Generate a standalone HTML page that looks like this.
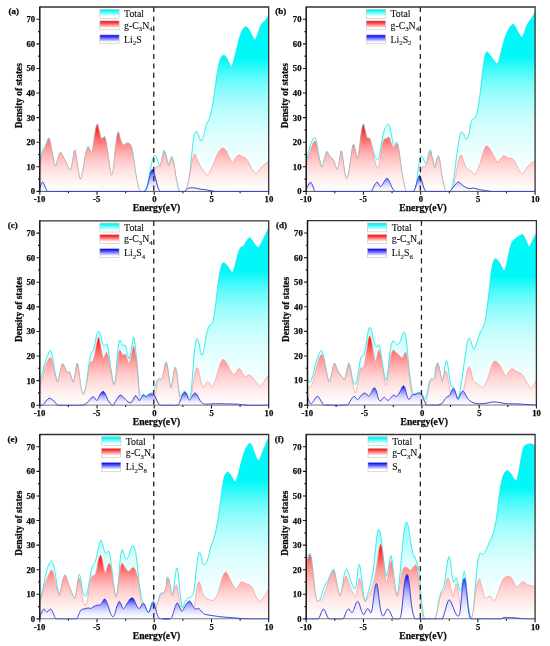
<!DOCTYPE html>
<html><head><meta charset="utf-8"><title>Density of states</title>
<style>html,body{margin:0;padding:0;background:#fff}svg{display:block}</style></head>
<body>
<svg width="550" height="646" viewBox="0 0 550 646">
<rect width="550" height="646" fill="#fff"/>
<g>
<clipPath id="cla"><rect x="39.80" y="7.00" width="229.40" height="185.05"/></clipPath>
<g clip-path="url(#cla)">
<linearGradient id="gat" gradientUnits="userSpaceOnUse" x1="0" y1="14.82" x2="0" y2="191.40"><stop offset="0" stop-color="#00f8f8"/><stop offset="0.250" stop-color="#00f8f8"/><stop offset="0.312" stop-color="#3bfafa"/><stop offset="0.375" stop-color="#6afbfb"/><stop offset="0.438" stop-color="#8efcfc"/><stop offset="0.500" stop-color="#aafdfd"/><stop offset="0.562" stop-color="#bffdfd"/><stop offset="0.625" stop-color="#d0fefe"/><stop offset="0.688" stop-color="#defefe"/><stop offset="0.750" stop-color="#e8fefe"/><stop offset="0.812" stop-color="#f0ffff"/><stop offset="0.875" stop-color="#f6ffff"/><stop offset="0.938" stop-color="#fbffff"/><stop offset="1.000" stop-color="#ffffff"/></linearGradient>
<path d="M39.93 162.36 C40.36 160.36 41.56 153.27 42.55 150.36 C43.53 147.45 44.80 146.98 45.82 144.91 C46.84 142.84 47.93 138.36 48.65 137.93 C49.38 137.49 49.56 139.67 50.18 142.29 C50.80 144.91 51.53 149.64 52.36 153.64 C53.20 157.64 54.29 165.38 55.20 166.29 C56.11 167.20 56.95 161.45 57.82 159.09 C58.69 156.73 59.53 152.47 60.44 152.11 C61.35 151.75 62.25 155.02 63.27 156.91 C64.29 158.80 65.35 161.27 66.55 163.45 C67.75 165.64 69.45 170.36 70.47 170.00 C71.49 169.64 71.93 164.62 72.65 161.27 C73.38 157.93 74.11 149.75 74.84 149.93 C75.56 150.11 76.29 158.11 77.02 162.36 C77.75 166.62 78.58 172.65 79.20 175.45 C79.82 178.25 80.11 179.89 80.73 179.16 C81.35 178.44 82.18 174.80 82.91 171.09 C83.64 167.38 84.29 160.91 85.09 156.91 C85.89 152.91 86.98 148.36 87.71 147.09 C88.44 145.82 88.80 148.36 89.45 149.27 C90.11 150.18 91.02 152.91 91.64 152.55 C92.25 152.18 92.62 150.18 93.16 147.09 C93.71 144.00 94.25 137.82 94.91 134.00 C95.56 130.18 96.44 124.91 97.09 124.18 C97.75 123.45 98.18 127.35 98.84 129.64 C99.49 131.93 100.33 136.55 101.02 137.93 C101.71 139.31 102.36 138.15 102.98 137.93 C103.60 137.71 104.18 135.82 104.73 136.62 C105.27 137.42 105.64 139.16 106.25 142.73 C106.87 146.29 107.71 153.09 108.44 158.00 C109.16 162.91 110.04 169.38 110.62 172.18 C111.20 174.98 111.45 175.35 111.93 174.80 C112.40 174.25 112.84 173.53 113.45 168.91 C114.07 164.29 114.87 153.24 115.64 147.09 C116.40 140.95 117.31 133.49 118.04 132.04 C118.76 130.58 119.20 136.22 120.00 138.36 C120.80 140.51 121.93 144.00 122.84 144.91 C123.75 145.82 124.65 144.18 125.45 143.82 C126.25 143.45 126.84 142.62 127.64 142.73 C128.44 142.84 129.53 143.38 130.25 144.47 C130.98 145.56 131.35 146.29 132.00 149.27 C132.65 152.25 133.45 157.64 134.18 162.36 C134.91 167.09 135.64 173.45 136.36 177.64 C137.09 181.82 137.82 184.96 138.55 187.45 C139.27 189.95 139.86 191.74 140.73 192.60 C141.59 193.46 142.92 193.09 143.73 192.60 C144.53 192.11 145.00 190.80 145.55 189.64 C146.09 188.48 146.52 187.39 147.00 185.64 C147.48 183.88 147.97 181.39 148.45 179.09 C148.94 176.79 149.42 174.24 149.91 171.82 C150.39 169.39 150.88 166.73 151.36 164.55 C151.85 162.36 152.39 160.12 152.82 158.73 C153.24 157.33 153.55 156.73 153.91 156.18 C154.27 155.64 154.64 155.42 155.00 155.45 C155.36 155.49 155.67 155.61 156.09 156.40 C156.52 157.19 157.06 158.82 157.55 160.18 C158.03 161.54 158.61 163.60 159.00 164.55 C159.39 165.49 159.57 165.92 159.87 165.85 C160.18 165.79 160.42 165.61 160.82 164.18 C161.22 162.75 161.85 159.27 162.27 157.27 C162.70 155.27 163.01 153.33 163.36 152.18 C163.72 151.03 163.90 149.58 164.40 150.36 C164.90 151.15 165.67 154.55 166.36 156.91 C167.05 159.27 167.89 164.07 168.55 164.55 C169.20 165.02 169.75 161.09 170.29 159.75 C170.84 158.40 171.27 156.22 171.82 156.47 C172.36 156.73 172.91 158.11 173.56 161.27 C174.22 164.44 175.02 171.27 175.75 175.45 C176.47 179.64 177.13 183.51 177.93 186.36 C178.73 189.22 179.56 191.56 180.55 192.60 C181.53 193.64 182.80 193.28 183.82 192.60 C184.84 191.92 185.82 190.68 186.65 188.55 C187.49 186.42 188.15 183.82 188.84 179.82 C189.53 175.82 190.18 170.00 190.80 164.55 C191.42 159.09 191.96 152.00 192.55 147.09 C193.13 142.18 193.67 137.75 194.29 135.09 C194.91 132.44 195.56 131.16 196.25 131.16 C196.95 131.16 197.67 133.42 198.44 135.09 C199.20 136.76 200.07 140.84 200.84 141.20 C201.60 141.56 202.33 139.20 203.02 137.27 C203.71 135.35 204.44 131.75 204.98 129.64 C205.53 127.52 205.64 126.25 206.29 124.56 C206.95 122.88 208.11 121.65 208.91 119.55 C209.71 117.44 210.36 115.00 211.09 111.91 C211.82 108.82 212.55 105.36 213.27 101.00 C214.00 96.64 214.73 90.82 215.45 85.73 C216.18 80.64 216.91 74.64 217.64 70.45 C218.36 66.27 219.09 63.00 219.82 60.64 C220.55 58.27 221.27 57.18 222.00 56.27 C222.73 55.36 223.45 55.00 224.18 55.18 C224.91 55.36 225.56 56.09 226.36 57.36 C227.16 58.64 228.15 61.18 228.98 62.82 C229.82 64.45 230.55 67.73 231.38 67.18 C232.22 66.64 233.02 63.00 234.00 59.55 C234.98 56.09 236.18 50.64 237.27 46.45 C238.36 42.27 239.53 37.44 240.55 34.45 C241.56 31.47 242.47 29.84 243.38 28.56 C244.29 27.29 245.02 26.56 246.00 26.82 C246.98 27.07 248.18 28.45 249.27 30.09 C250.36 31.73 251.56 35.07 252.55 36.64 C253.53 38.20 254.25 40.02 255.16 39.47 C256.07 38.93 256.98 35.84 258.00 33.36 C259.02 30.89 260.18 26.64 261.27 24.64 C262.36 22.64 263.45 22.64 264.55 21.36 C265.64 20.09 267.13 18.09 267.82 17.00 C268.51 15.91 268.55 15.18 268.70 14.82 L268.70 193.40 L39.93 193.40 Z" fill="url(#gat)"/>
<path d="M39.93 162.36 C40.36 160.36 41.56 153.27 42.55 150.36 C43.53 147.45 44.80 146.98 45.82 144.91 C46.84 142.84 47.93 138.36 48.65 137.93 C49.38 137.49 49.56 139.67 50.18 142.29 C50.80 144.91 51.53 149.64 52.36 153.64 C53.20 157.64 54.29 165.38 55.20 166.29 C56.11 167.20 56.95 161.45 57.82 159.09 C58.69 156.73 59.53 152.47 60.44 152.11 C61.35 151.75 62.25 155.02 63.27 156.91 C64.29 158.80 65.35 161.27 66.55 163.45 C67.75 165.64 69.45 170.36 70.47 170.00 C71.49 169.64 71.93 164.62 72.65 161.27 C73.38 157.93 74.11 149.75 74.84 149.93 C75.56 150.11 76.29 158.11 77.02 162.36 C77.75 166.62 78.58 172.65 79.20 175.45 C79.82 178.25 80.11 179.89 80.73 179.16 C81.35 178.44 82.18 174.80 82.91 171.09 C83.64 167.38 84.29 160.91 85.09 156.91 C85.89 152.91 86.98 148.36 87.71 147.09 C88.44 145.82 88.80 148.36 89.45 149.27 C90.11 150.18 91.02 152.91 91.64 152.55 C92.25 152.18 92.62 150.18 93.16 147.09 C93.71 144.00 94.25 137.82 94.91 134.00 C95.56 130.18 96.44 124.91 97.09 124.18 C97.75 123.45 98.18 127.35 98.84 129.64 C99.49 131.93 100.33 136.55 101.02 137.93 C101.71 139.31 102.36 138.15 102.98 137.93 C103.60 137.71 104.18 135.82 104.73 136.62 C105.27 137.42 105.64 139.16 106.25 142.73 C106.87 146.29 107.71 153.09 108.44 158.00 C109.16 162.91 110.04 169.38 110.62 172.18 C111.20 174.98 111.45 175.35 111.93 174.80 C112.40 174.25 112.84 173.53 113.45 168.91 C114.07 164.29 114.87 153.24 115.64 147.09 C116.40 140.95 117.31 133.49 118.04 132.04 C118.76 130.58 119.20 136.22 120.00 138.36 C120.80 140.51 121.93 144.00 122.84 144.91 C123.75 145.82 124.65 144.18 125.45 143.82 C126.25 143.45 126.84 142.62 127.64 142.73 C128.44 142.84 129.53 143.38 130.25 144.47 C130.98 145.56 131.35 146.29 132.00 149.27 C132.65 152.25 133.45 157.64 134.18 162.36 C134.91 167.09 135.64 173.45 136.36 177.64 C137.09 181.82 137.82 184.96 138.55 187.45 C139.27 189.95 139.86 191.74 140.73 192.60 C141.59 193.46 142.92 193.09 143.73 192.60 C144.53 192.11 145.00 190.80 145.55 189.64 C146.09 188.48 146.52 187.39 147.00 185.64 C147.48 183.88 147.97 181.39 148.45 179.09 C148.94 176.79 149.42 174.24 149.91 171.82 C150.39 169.39 150.88 166.73 151.36 164.55 C151.85 162.36 152.39 160.12 152.82 158.73 C153.24 157.33 153.55 156.73 153.91 156.18 C154.27 155.64 154.64 155.42 155.00 155.45 C155.36 155.49 155.67 155.61 156.09 156.40 C156.52 157.19 157.06 158.82 157.55 160.18 C158.03 161.54 158.61 163.60 159.00 164.55 C159.39 165.49 159.57 165.92 159.87 165.85 C160.18 165.79 160.42 165.61 160.82 164.18 C161.22 162.75 161.85 159.27 162.27 157.27 C162.70 155.27 163.01 153.33 163.36 152.18 C163.72 151.03 163.90 149.58 164.40 150.36 C164.90 151.15 165.67 154.55 166.36 156.91 C167.05 159.27 167.89 164.07 168.55 164.55 C169.20 165.02 169.75 161.09 170.29 159.75 C170.84 158.40 171.27 156.22 171.82 156.47 C172.36 156.73 172.91 158.11 173.56 161.27 C174.22 164.44 175.02 171.27 175.75 175.45 C176.47 179.64 177.13 183.51 177.93 186.36 C178.73 189.22 179.56 191.56 180.55 192.60 C181.53 193.64 182.80 193.28 183.82 192.60 C184.84 191.92 185.82 190.68 186.65 188.55 C187.49 186.42 188.15 183.82 188.84 179.82 C189.53 175.82 190.18 170.00 190.80 164.55 C191.42 159.09 191.96 152.00 192.55 147.09 C193.13 142.18 193.67 137.75 194.29 135.09 C194.91 132.44 195.56 131.16 196.25 131.16 C196.95 131.16 197.67 133.42 198.44 135.09 C199.20 136.76 200.07 140.84 200.84 141.20 C201.60 141.56 202.33 139.20 203.02 137.27 C203.71 135.35 204.44 131.75 204.98 129.64 C205.53 127.52 205.64 126.25 206.29 124.56 C206.95 122.88 208.11 121.65 208.91 119.55 C209.71 117.44 210.36 115.00 211.09 111.91 C211.82 108.82 212.55 105.36 213.27 101.00 C214.00 96.64 214.73 90.82 215.45 85.73 C216.18 80.64 216.91 74.64 217.64 70.45 C218.36 66.27 219.09 63.00 219.82 60.64 C220.55 58.27 221.27 57.18 222.00 56.27 C222.73 55.36 223.45 55.00 224.18 55.18 C224.91 55.36 225.56 56.09 226.36 57.36 C227.16 58.64 228.15 61.18 228.98 62.82 C229.82 64.45 230.55 67.73 231.38 67.18 C232.22 66.64 233.02 63.00 234.00 59.55 C234.98 56.09 236.18 50.64 237.27 46.45 C238.36 42.27 239.53 37.44 240.55 34.45 C241.56 31.47 242.47 29.84 243.38 28.56 C244.29 27.29 245.02 26.56 246.00 26.82 C246.98 27.07 248.18 28.45 249.27 30.09 C250.36 31.73 251.56 35.07 252.55 36.64 C253.53 38.20 254.25 40.02 255.16 39.47 C256.07 38.93 256.98 35.84 258.00 33.36 C259.02 30.89 260.18 26.64 261.27 24.64 C262.36 22.64 263.45 22.64 264.55 21.36 C265.64 20.09 267.13 18.09 267.82 17.00 C268.51 15.91 268.55 15.18 268.70 14.82" fill="none" stroke="#1fe9e9" stroke-width="0.9"/>
<linearGradient id="gar" gradientUnits="userSpaceOnUse" x1="0" y1="124.62" x2="0" y2="191.40"><stop offset="0" stop-color="#ff1c1c"/><stop offset="0.060" stop-color="#ff1c1c"/><stop offset="0.138" stop-color="#ff4747"/><stop offset="0.217" stop-color="#ff6a6a"/><stop offset="0.295" stop-color="#ff8888"/><stop offset="0.373" stop-color="#ffa1a1"/><stop offset="0.452" stop-color="#ffb5b5"/><stop offset="0.530" stop-color="#ffc6c6"/><stop offset="0.608" stop-color="#ffd5d5"/><stop offset="0.687" stop-color="#ffe0e0"/><stop offset="0.765" stop-color="#ffeaea"/><stop offset="0.843" stop-color="#fff2f2"/><stop offset="0.922" stop-color="#fff9f9"/><stop offset="1.000" stop-color="#ffffff"/></linearGradient>
<path d="M39.93 163.45 C40.36 161.82 41.56 156.55 42.55 153.64 C43.53 150.73 44.80 148.47 45.82 146.00 C46.84 143.53 47.93 139.35 48.65 138.80 C49.38 138.25 49.56 140.25 50.18 142.73 C50.80 145.20 51.53 149.71 52.36 153.64 C53.20 157.56 54.29 165.38 55.20 166.29 C56.11 167.20 56.95 161.38 57.82 159.09 C58.69 156.80 59.53 152.91 60.44 152.55 C61.35 152.18 62.25 155.09 63.27 156.91 C64.29 158.73 65.35 161.27 66.55 163.45 C67.75 165.64 69.45 170.36 70.47 170.00 C71.49 169.64 71.93 164.55 72.65 161.27 C73.38 158.00 74.11 150.18 74.84 150.36 C75.56 150.55 76.29 158.18 77.02 162.36 C77.75 166.55 78.58 172.65 79.20 175.45 C79.82 178.25 80.11 179.89 80.73 179.16 C81.35 178.44 82.18 174.80 82.91 171.09 C83.64 167.38 84.29 160.84 85.09 156.91 C85.89 152.98 86.98 148.80 87.71 147.53 C88.44 146.25 88.80 148.44 89.45 149.27 C90.11 150.11 91.02 152.91 91.64 152.55 C92.25 152.18 92.62 150.18 93.16 147.09 C93.71 144.00 94.25 137.75 94.91 134.00 C95.56 130.25 96.44 125.35 97.09 124.62 C97.75 123.89 98.18 127.42 98.84 129.64 C99.49 131.85 100.33 136.47 101.02 137.93 C101.71 139.38 102.36 138.47 102.98 138.36 C103.60 138.25 104.18 136.55 104.73 137.27 C105.27 138.00 105.64 139.27 106.25 142.73 C106.87 146.18 107.71 153.09 108.44 158.00 C109.16 162.91 110.04 169.38 110.62 172.18 C111.20 174.98 111.45 175.35 111.93 174.80 C112.40 174.25 112.84 173.53 113.45 168.91 C114.07 164.29 114.87 153.16 115.64 147.09 C116.40 141.02 117.31 133.93 118.04 132.47 C118.76 131.02 119.20 136.29 120.00 138.36 C120.80 140.44 121.93 143.93 122.84 144.91 C123.75 145.89 124.65 144.55 125.45 144.25 C126.25 143.96 126.84 143.05 127.64 143.16 C128.44 143.27 129.53 143.89 130.25 144.91 C130.98 145.93 131.35 146.36 132.00 149.27 C132.65 152.18 133.45 157.64 134.18 162.36 C134.91 167.09 135.64 173.45 136.36 177.64 C137.09 181.82 137.82 184.96 138.55 187.45 C139.27 189.95 139.98 191.74 140.73 192.60 C141.47 193.46 141.95 192.60 143.00 192.60 C144.05 192.60 145.83 194.10 147.00 192.60 C148.17 191.10 149.08 186.32 150.00 183.60 C150.92 180.88 151.75 178.53 152.50 176.30 C153.25 174.07 153.92 171.72 154.50 170.20 C155.08 168.68 155.42 167.82 156.00 167.20 C156.58 166.58 157.33 166.63 158.00 166.50 C158.67 166.37 159.33 167.63 160.00 166.40 C160.67 165.17 161.27 161.58 162.00 159.09 C162.73 156.60 163.67 151.64 164.40 151.45 C165.13 151.27 165.67 155.64 166.36 158.00 C167.05 160.36 167.89 165.09 168.55 165.64 C169.20 166.18 169.75 162.62 170.29 161.27 C170.84 159.93 171.27 157.38 171.82 157.56 C172.36 157.75 172.91 159.20 173.56 162.36 C174.22 165.53 175.02 172.36 175.75 176.55 C176.47 180.73 177.27 184.78 177.93 187.45 C178.58 190.13 178.51 191.74 179.67 192.60 C180.84 193.46 183.60 193.64 184.91 192.60 C186.22 191.56 186.73 189.22 187.53 186.36 C188.33 183.51 188.98 179.45 189.71 175.45 C190.44 171.45 191.24 165.64 191.89 162.36 C192.55 159.09 193.09 157.16 193.64 155.82 C194.18 154.47 194.62 153.75 195.16 154.29 C195.71 154.84 195.89 156.84 196.91 159.09 C197.93 161.35 200.00 165.64 201.27 167.82 C202.55 170.00 203.45 170.98 204.55 172.18 C205.64 173.38 206.80 175.38 207.82 175.02 C208.84 174.65 209.75 171.75 210.65 170.00 C211.56 168.25 212.11 167.27 213.27 164.55 C214.44 161.82 216.47 156.11 217.64 153.64 C218.80 151.16 219.35 150.62 220.25 149.71 C221.16 148.80 222.15 148.07 223.09 148.18 C224.04 148.29 225.02 149.09 225.93 150.36 C226.84 151.64 227.45 153.82 228.55 155.82 C229.64 157.82 231.38 161.93 232.47 162.36 C233.56 162.80 234.11 159.64 235.09 158.44 C236.07 157.24 237.27 155.53 238.36 155.16 C239.45 154.80 240.36 155.71 241.64 156.25 C242.91 156.80 244.84 157.42 246.00 158.44 C247.16 159.45 247.71 160.80 248.62 162.36 C249.53 163.93 250.51 166.18 251.45 167.82 C252.40 169.45 253.49 171.20 254.29 172.18 C255.09 173.16 255.53 173.89 256.25 173.71 C256.98 173.53 257.82 172.18 258.65 171.09 C259.49 170.00 260.11 168.44 261.27 167.16 C262.44 165.89 264.40 164.33 265.64 163.45 C266.87 162.58 268.19 162.18 268.70 161.93 L268.70 193.40 L39.93 193.40 Z" fill="url(#gar)"/>
<path d="M39.93 163.45 C40.36 161.82 41.56 156.55 42.55 153.64 C43.53 150.73 44.80 148.47 45.82 146.00 C46.84 143.53 47.93 139.35 48.65 138.80 C49.38 138.25 49.56 140.25 50.18 142.73 C50.80 145.20 51.53 149.71 52.36 153.64 C53.20 157.56 54.29 165.38 55.20 166.29 C56.11 167.20 56.95 161.38 57.82 159.09 C58.69 156.80 59.53 152.91 60.44 152.55 C61.35 152.18 62.25 155.09 63.27 156.91 C64.29 158.73 65.35 161.27 66.55 163.45 C67.75 165.64 69.45 170.36 70.47 170.00 C71.49 169.64 71.93 164.55 72.65 161.27 C73.38 158.00 74.11 150.18 74.84 150.36 C75.56 150.55 76.29 158.18 77.02 162.36 C77.75 166.55 78.58 172.65 79.20 175.45 C79.82 178.25 80.11 179.89 80.73 179.16 C81.35 178.44 82.18 174.80 82.91 171.09 C83.64 167.38 84.29 160.84 85.09 156.91 C85.89 152.98 86.98 148.80 87.71 147.53 C88.44 146.25 88.80 148.44 89.45 149.27 C90.11 150.11 91.02 152.91 91.64 152.55 C92.25 152.18 92.62 150.18 93.16 147.09 C93.71 144.00 94.25 137.75 94.91 134.00 C95.56 130.25 96.44 125.35 97.09 124.62 C97.75 123.89 98.18 127.42 98.84 129.64 C99.49 131.85 100.33 136.47 101.02 137.93 C101.71 139.38 102.36 138.47 102.98 138.36 C103.60 138.25 104.18 136.55 104.73 137.27 C105.27 138.00 105.64 139.27 106.25 142.73 C106.87 146.18 107.71 153.09 108.44 158.00 C109.16 162.91 110.04 169.38 110.62 172.18 C111.20 174.98 111.45 175.35 111.93 174.80 C112.40 174.25 112.84 173.53 113.45 168.91 C114.07 164.29 114.87 153.16 115.64 147.09 C116.40 141.02 117.31 133.93 118.04 132.47 C118.76 131.02 119.20 136.29 120.00 138.36 C120.80 140.44 121.93 143.93 122.84 144.91 C123.75 145.89 124.65 144.55 125.45 144.25 C126.25 143.96 126.84 143.05 127.64 143.16 C128.44 143.27 129.53 143.89 130.25 144.91 C130.98 145.93 131.35 146.36 132.00 149.27 C132.65 152.18 133.45 157.64 134.18 162.36 C134.91 167.09 135.64 173.45 136.36 177.64 C137.09 181.82 137.82 184.96 138.55 187.45 C139.27 189.95 139.98 191.74 140.73 192.60 C141.47 193.46 141.95 192.60 143.00 192.60 C144.05 192.60 145.83 194.10 147.00 192.60 C148.17 191.10 149.08 186.32 150.00 183.60 C150.92 180.88 151.75 178.53 152.50 176.30 C153.25 174.07 153.92 171.72 154.50 170.20 C155.08 168.68 155.42 167.82 156.00 167.20 C156.58 166.58 157.33 166.63 158.00 166.50 C158.67 166.37 159.33 167.63 160.00 166.40 C160.67 165.17 161.27 161.58 162.00 159.09 C162.73 156.60 163.67 151.64 164.40 151.45 C165.13 151.27 165.67 155.64 166.36 158.00 C167.05 160.36 167.89 165.09 168.55 165.64 C169.20 166.18 169.75 162.62 170.29 161.27 C170.84 159.93 171.27 157.38 171.82 157.56 C172.36 157.75 172.91 159.20 173.56 162.36 C174.22 165.53 175.02 172.36 175.75 176.55 C176.47 180.73 177.27 184.78 177.93 187.45 C178.58 190.13 178.51 191.74 179.67 192.60 C180.84 193.46 183.60 193.64 184.91 192.60 C186.22 191.56 186.73 189.22 187.53 186.36 C188.33 183.51 188.98 179.45 189.71 175.45 C190.44 171.45 191.24 165.64 191.89 162.36 C192.55 159.09 193.09 157.16 193.64 155.82 C194.18 154.47 194.62 153.75 195.16 154.29 C195.71 154.84 195.89 156.84 196.91 159.09 C197.93 161.35 200.00 165.64 201.27 167.82 C202.55 170.00 203.45 170.98 204.55 172.18 C205.64 173.38 206.80 175.38 207.82 175.02 C208.84 174.65 209.75 171.75 210.65 170.00 C211.56 168.25 212.11 167.27 213.27 164.55 C214.44 161.82 216.47 156.11 217.64 153.64 C218.80 151.16 219.35 150.62 220.25 149.71 C221.16 148.80 222.15 148.07 223.09 148.18 C224.04 148.29 225.02 149.09 225.93 150.36 C226.84 151.64 227.45 153.82 228.55 155.82 C229.64 157.82 231.38 161.93 232.47 162.36 C233.56 162.80 234.11 159.64 235.09 158.44 C236.07 157.24 237.27 155.53 238.36 155.16 C239.45 154.80 240.36 155.71 241.64 156.25 C242.91 156.80 244.84 157.42 246.00 158.44 C247.16 159.45 247.71 160.80 248.62 162.36 C249.53 163.93 250.51 166.18 251.45 167.82 C252.40 169.45 253.49 171.20 254.29 172.18 C255.09 173.16 255.53 173.89 256.25 173.71 C256.98 173.53 257.82 172.18 258.65 171.09 C259.49 170.00 260.11 168.44 261.27 167.16 C262.44 165.89 264.40 164.33 265.64 163.45 C266.87 162.58 268.19 162.18 268.70 161.93" fill="none" stroke="#ff8a8a" stroke-width="0.6"/>
<linearGradient id="gab" gradientUnits="userSpaceOnUse" x1="0" y1="169.49" x2="0" y2="191.40"><stop offset="0" stop-color="#1414ff"/><stop offset="0.050" stop-color="#1414ff"/><stop offset="0.129" stop-color="#4545ff"/><stop offset="0.208" stop-color="#6d6dff"/><stop offset="0.287" stop-color="#8d8dff"/><stop offset="0.367" stop-color="#a7a7ff"/><stop offset="0.446" stop-color="#bcbcff"/><stop offset="0.525" stop-color="#cdcdff"/><stop offset="0.604" stop-color="#dadaff"/><stop offset="0.683" stop-color="#e5e5ff"/><stop offset="0.762" stop-color="#eeeeff"/><stop offset="0.842" stop-color="#f5f5ff"/><stop offset="0.921" stop-color="#fafaff"/><stop offset="1.000" stop-color="#ffffff"/></linearGradient>
<path d="M39.93 188.11 C40.15 187.45 40.80 185.20 41.24 184.18 C41.67 183.16 42.07 182.00 42.55 182.00 C43.02 182.00 43.53 183.09 44.07 184.18 C44.62 185.27 45.16 187.33 45.82 188.55 C46.47 189.77 46.00 191.01 48.00 191.50 C50.00 191.99 48.91 191.50 57.82 191.50 C66.73 191.50 87.27 191.50 101.45 191.50 C115.64 191.50 135.86 191.50 142.91 191.50 C149.95 191.50 143.23 191.75 143.73 191.50 C144.23 191.25 145.30 190.86 145.91 190.00 C146.52 189.14 146.88 187.94 147.36 186.36 C147.85 184.79 148.33 182.61 148.82 180.55 C149.30 178.48 149.85 175.64 150.27 174.00 C150.70 172.36 151.04 171.48 151.36 170.73 C151.69 169.98 151.93 169.55 152.24 169.49 C152.54 169.43 152.84 169.73 153.18 170.36 C153.52 170.99 153.85 171.82 154.27 173.27 C154.70 174.73 155.24 177.15 155.73 179.09 C156.21 181.03 156.70 183.21 157.18 184.91 C157.67 186.61 158.09 188.17 158.64 189.27 C159.18 190.37 159.79 191.13 160.45 191.50 C161.12 191.87 160.74 191.50 162.64 191.50 C164.53 191.50 168.29 191.50 171.82 191.50 C175.35 191.50 181.27 191.92 183.82 191.50 C186.36 191.08 186.00 189.58 187.09 188.98 C188.18 188.38 188.91 188.04 190.36 187.89 C191.82 187.75 194.18 187.89 195.82 188.11 C197.45 188.33 198.36 188.91 200.18 189.20 C202.00 189.49 204.18 189.47 206.73 189.85 C209.27 190.24 212.18 191.23 215.45 191.50 C218.73 191.77 220.91 191.50 226.36 191.50 C231.82 191.50 241.13 191.50 248.18 191.50 C255.24 191.50 265.28 191.50 268.70 191.50 L268.70 193.40 L39.93 193.40 Z" fill="url(#gab)"/>
<path d="M39.80 191.40 H269.20" fill="none" stroke="#585858" stroke-width="1"/>
<path d="M39.93 188.11 C40.15 187.45 40.80 185.20 41.24 184.18 C41.67 183.16 42.07 182.00 42.55 182.00 C43.02 182.00 43.53 183.09 44.07 184.18 C44.62 185.27 45.16 187.33 45.82 188.55 C46.47 189.77 46.00 191.01 48.00 191.50 C50.00 191.99 48.91 191.50 57.82 191.50 C66.73 191.50 87.27 191.50 101.45 191.50 C115.64 191.50 135.86 191.50 142.91 191.50 C149.95 191.50 143.23 191.75 143.73 191.50 C144.23 191.25 145.30 190.86 145.91 190.00 C146.52 189.14 146.88 187.94 147.36 186.36 C147.85 184.79 148.33 182.61 148.82 180.55 C149.30 178.48 149.85 175.64 150.27 174.00 C150.70 172.36 151.04 171.48 151.36 170.73 C151.69 169.98 151.93 169.55 152.24 169.49 C152.54 169.43 152.84 169.73 153.18 170.36 C153.52 170.99 153.85 171.82 154.27 173.27 C154.70 174.73 155.24 177.15 155.73 179.09 C156.21 181.03 156.70 183.21 157.18 184.91 C157.67 186.61 158.09 188.17 158.64 189.27 C159.18 190.37 159.79 191.13 160.45 191.50 C161.12 191.87 160.74 191.50 162.64 191.50 C164.53 191.50 168.29 191.50 171.82 191.50 C175.35 191.50 181.27 191.92 183.82 191.50 C186.36 191.08 186.00 189.58 187.09 188.98 C188.18 188.38 188.91 188.04 190.36 187.89 C191.82 187.75 194.18 187.89 195.82 188.11 C197.45 188.33 198.36 188.91 200.18 189.20 C202.00 189.49 204.18 189.47 206.73 189.85 C209.27 190.24 212.18 191.23 215.45 191.50 C218.73 191.77 220.91 191.50 226.36 191.50 C231.82 191.50 241.13 191.50 248.18 191.50 C255.24 191.50 265.28 191.50 268.70 191.50" fill="none" stroke="#3a45d4" stroke-width="1.0"/>
</g>
<line x1="153.75" y1="7.00" x2="153.75" y2="191.40" stroke="#222" stroke-width="1.3" stroke-dasharray="5.1 4.3"/>
<path d="M39.80 7.00 H268.70 V191.40" fill="none" stroke="#333" stroke-width="1.3"/>
<path d="M39.80 6.40 V192.00" fill="none" stroke="#111" stroke-width="1.5"/>
<path d="M39.80 191.40h-3.30 M39.80 179.11h-1.80 M39.80 166.81h-3.30 M39.80 154.52h-1.80 M39.80 142.23h-3.30 M39.80 129.93h-1.80 M39.80 117.64h-3.30 M39.80 105.35h-1.80 M39.80 93.05h-3.30 M39.80 80.76h-1.80 M39.80 68.47h-3.30 M39.80 56.17h-1.80 M39.80 43.88h-3.30 M39.80 31.59h-1.80 M39.80 19.29h-3.30 M39.80 191.40v3.30 M68.41 191.40v1.80 M97.03 191.40v3.30 M125.64 191.40v1.80 M154.25 191.40v3.30 M182.86 191.40v1.80 M211.48 191.40v3.30 M240.09 191.40v1.80 M268.70 191.40v3.30" stroke="#1a1a1a" stroke-width="1.1" fill="none"/>
<g font-family="'Liberation Serif', serif" font-weight="bold" font-size="8.7" fill="#0a0a0a" stroke="#0a0a0a" stroke-width="0.25">
<text x="35.10" y="194.35" text-anchor="end">0</text>
<text x="35.10" y="169.76" text-anchor="end">10</text>
<text x="35.10" y="145.18" text-anchor="end">20</text>
<text x="35.10" y="120.59" text-anchor="end">30</text>
<text x="35.10" y="96.00" text-anchor="end">40</text>
<text x="35.10" y="71.42" text-anchor="end">50</text>
<text x="35.10" y="46.83" text-anchor="end">60</text>
<text x="35.10" y="22.24" text-anchor="end">70</text>
<text x="39.50" y="202.20" text-anchor="middle">-10</text>
<text x="96.73" y="202.20" text-anchor="middle">-5</text>
<text x="154.45" y="202.20" text-anchor="middle">0</text>
<text x="211.68" y="202.20" text-anchor="middle">5</text>
<text x="268.90" y="202.20" text-anchor="middle">10</text>
<text x="156.55" y="211.20" text-anchor="middle" font-size="9.6">Energy(eV)</text>
<text transform="translate(21.70 95.70) rotate(-90)" text-anchor="middle" font-size="9.4">Density of states</text>
<text x="8.40" y="14.20" font-size="9.0">(a)</text>
</g>
<g font-family="'Liberation Serif', serif" font-size="9.8" fill="#111" stroke="#111" stroke-width="0.12">
<linearGradient id="lgat" x1="0" y1="0" x2="0" y2="1"><stop offset="0" stop-color="#00f8f8"/><stop offset="0.12" stop-color="#00f8f8"/><stop offset="0.8" stop-color="#fff"/></linearGradient>
<rect x="99.90" y="9.30" width="19.2" height="8.9" fill="url(#lgat)" stroke="#b8b8b8" stroke-width="0.5"/>
<text x="124.10" y="17.00">Total</text>
<linearGradient id="lgar" x1="0" y1="0" x2="0" y2="1"><stop offset="0" stop-color="#ff1c1c"/><stop offset="0.12" stop-color="#ff1c1c"/><stop offset="0.8" stop-color="#fff"/></linearGradient>
<rect x="99.90" y="20.90" width="19.2" height="8.9" fill="url(#lgar)" stroke="#b8b8b8" stroke-width="0.5"/>
<text x="124.10" y="28.60">g-C<tspan dy="2.4" font-size="6.8">3</tspan><tspan dy="-2.4">N</tspan><tspan dy="2.4" font-size="6.8">4</tspan></text>
<linearGradient id="lgab" x1="0" y1="0" x2="0" y2="1"><stop offset="0" stop-color="#1414ff"/><stop offset="0.12" stop-color="#1414ff"/><stop offset="0.8" stop-color="#fff"/></linearGradient>
<rect x="99.90" y="34.90" width="19.2" height="8.9" fill="url(#lgab)" stroke="#b8b8b8" stroke-width="0.5"/>
<text x="124.10" y="42.60">Li<tspan dy="2.4" font-size="6.8">2</tspan><tspan dy="-2.4">S</tspan></text>
</g>
</g>
<g>
<clipPath id="clb"><rect x="306.20" y="7.00" width="229.40" height="185.05"/></clipPath>
<g clip-path="url(#clb)">
<linearGradient id="gbt" gradientUnits="userSpaceOnUse" x1="0" y1="11.55" x2="0" y2="191.40"><stop offset="0" stop-color="#00f8f8"/><stop offset="0.250" stop-color="#00f8f8"/><stop offset="0.312" stop-color="#3bfafa"/><stop offset="0.375" stop-color="#6afbfb"/><stop offset="0.438" stop-color="#8efcfc"/><stop offset="0.500" stop-color="#aafdfd"/><stop offset="0.562" stop-color="#bffdfd"/><stop offset="0.625" stop-color="#d0fefe"/><stop offset="0.688" stop-color="#defefe"/><stop offset="0.750" stop-color="#e8fefe"/><stop offset="0.812" stop-color="#f0ffff"/><stop offset="0.875" stop-color="#f6ffff"/><stop offset="0.938" stop-color="#fbffff"/><stop offset="1.000" stop-color="#ffffff"/></linearGradient>
<path d="M306.20 163.45 C306.59 161.45 307.72 154.91 308.55 151.45 C309.37 148.00 310.36 144.91 311.16 142.73 C311.96 140.55 312.76 139.20 313.35 138.36 C313.93 137.53 314.15 137.27 314.65 137.71 C315.16 138.15 315.78 138.40 316.40 140.98 C317.02 143.56 317.49 148.91 318.36 153.20 C319.24 157.49 320.73 165.45 321.64 166.73 C322.55 168.00 323.09 163.09 323.82 160.84 C324.55 158.58 325.45 154.76 326.00 153.20 C326.55 151.64 326.55 151.09 327.09 151.45 C327.64 151.82 328.55 154.29 329.27 155.38 C330.00 156.47 330.73 157.20 331.45 158.00 C332.18 158.80 332.91 158.73 333.64 160.18 C334.36 161.64 335.20 165.27 335.82 166.73 C336.44 168.18 336.80 169.53 337.35 168.91 C337.89 168.29 338.55 165.64 339.09 163.02 C339.64 160.40 340.22 155.20 340.62 153.20 C341.02 151.20 341.09 149.93 341.49 151.02 C341.89 152.11 342.47 156.11 343.02 159.75 C343.56 163.38 344.15 169.75 344.76 172.84 C345.38 175.93 346.04 178.47 346.73 178.29 C347.42 178.11 348.18 175.38 348.91 171.75 C349.64 168.11 350.47 160.65 351.09 156.47 C351.71 152.29 352.18 148.65 352.62 146.65 C353.05 144.65 353.31 144.11 353.71 144.47 C354.11 144.84 354.55 146.84 355.02 148.84 C355.49 150.84 356.11 154.95 356.55 156.47 C356.98 158.00 357.20 158.91 357.64 158.00 C358.07 157.09 358.62 154.73 359.16 151.02 C359.71 147.31 360.25 140.22 360.91 135.75 C361.56 131.27 362.44 125.27 363.09 124.18 C363.75 123.09 364.22 127.09 364.84 129.20 C365.45 131.31 366.18 135.38 366.80 136.84 C367.42 138.29 368.00 137.56 368.55 137.93 C369.09 138.29 369.53 137.75 370.07 139.02 C370.62 140.29 371.16 143.13 371.82 145.56 C372.47 148.00 373.27 151.49 374.00 153.64 C374.73 155.78 375.53 157.42 376.18 158.44 C376.84 159.45 377.38 160.18 377.93 159.75 C378.47 159.31 378.84 158.65 379.45 155.82 C380.07 152.98 380.91 146.73 381.64 142.73 C382.36 138.73 383.09 134.55 383.82 131.82 C384.55 129.09 385.27 127.64 386.00 126.36 C386.73 125.09 387.53 124.00 388.18 124.18 C388.84 124.36 389.38 125.64 389.93 127.45 C390.47 129.27 390.91 132.44 391.45 135.09 C392.00 137.75 392.65 141.82 393.20 143.38 C393.75 144.95 394.11 144.65 394.73 144.47 C395.35 144.29 396.29 141.85 396.91 142.29 C397.53 142.73 397.89 144.18 398.44 147.09 C398.98 150.00 399.53 155.09 400.18 159.75 C400.84 164.40 401.64 170.65 402.36 175.02 C403.09 179.38 403.82 183.00 404.55 185.93 C405.27 188.86 405.64 191.49 406.73 192.60 C407.82 193.71 410.03 192.60 411.09 192.60 C412.15 192.60 412.45 193.15 413.09 192.60 C413.73 192.05 414.36 190.92 414.91 189.27 C415.45 187.63 415.88 185.39 416.36 182.73 C416.85 180.06 417.39 176.30 417.82 173.27 C418.24 170.24 418.58 166.97 418.91 164.55 C419.24 162.12 419.48 160.04 419.78 158.73 C420.08 157.42 420.39 157.08 420.73 156.69 C421.07 156.30 421.39 156.06 421.82 156.40 C422.24 156.74 422.79 157.73 423.27 158.73 C423.76 159.72 424.30 161.52 424.73 162.36 C425.15 163.21 425.45 163.94 425.82 163.82 C426.18 163.70 426.55 162.85 426.91 161.64 C427.27 160.42 427.64 158.12 428.00 156.55 C428.36 154.97 428.69 153.28 429.09 152.18 C429.49 151.08 429.85 149.03 430.40 149.93 C430.95 150.82 431.67 154.76 432.36 157.56 C433.05 160.36 433.89 166.11 434.55 166.73 C435.20 167.35 435.67 163.09 436.29 161.27 C436.91 159.45 437.64 155.71 438.25 155.82 C438.87 155.93 439.35 158.36 440.00 161.93 C440.65 165.49 441.45 172.95 442.18 177.20 C442.91 181.45 443.64 184.89 444.36 187.45 C445.09 190.02 445.64 191.74 446.55 192.60 C447.45 193.46 448.91 193.46 449.82 192.60 C450.73 191.74 451.27 190.31 452.00 187.45 C452.73 184.60 453.45 180.36 454.18 175.45 C454.91 170.55 455.64 163.45 456.36 158.00 C457.09 152.55 457.89 146.65 458.55 142.73 C459.20 138.80 459.75 136.25 460.29 134.44 C460.84 132.62 461.20 131.71 461.82 131.82 C462.44 131.93 463.20 133.82 464.00 135.09 C464.80 136.36 465.78 139.64 466.62 139.45 C467.45 139.27 468.36 136.48 469.02 134.00 C469.67 131.52 470.00 126.97 470.55 124.56 C471.09 122.15 471.64 120.64 472.29 119.55 C472.95 118.45 473.75 118.93 474.47 118.02 C475.20 117.11 475.93 116.56 476.65 114.09 C477.38 111.62 478.15 107.55 478.84 103.18 C479.53 98.82 480.18 93.00 480.80 87.91 C481.42 82.82 481.96 77.36 482.55 72.64 C483.13 67.91 483.75 62.75 484.29 59.55 C484.84 56.35 485.31 54.71 485.82 53.44 C486.33 52.16 486.69 51.69 487.35 51.91 C488.00 52.13 488.91 53.65 489.75 54.75 C490.58 55.84 491.49 57.29 492.36 58.45 C493.24 59.62 494.15 60.82 494.98 61.73 C495.82 62.64 496.62 64.45 497.38 63.91 C498.15 63.36 498.76 61.18 499.56 58.45 C500.36 55.73 501.27 51.00 502.18 47.55 C503.09 44.09 504.11 40.45 505.02 37.73 C505.93 35.00 506.76 33.00 507.64 31.18 C508.51 29.36 509.35 27.98 510.25 26.82 C511.16 25.65 512.25 24.20 513.09 24.20 C513.93 24.20 514.44 25.47 515.27 26.82 C516.11 28.16 517.20 30.71 518.11 32.27 C519.02 33.84 520.04 35.36 520.73 36.20 C521.42 37.04 521.64 37.95 522.25 37.29 C522.87 36.64 523.60 34.38 524.44 32.27 C525.27 30.16 526.25 26.71 527.27 24.64 C528.29 22.56 529.45 21.47 530.55 19.84 C531.64 18.20 533.06 16.20 533.82 14.82 C534.58 13.44 534.89 12.09 535.10 11.55 L535.10 193.40 L306.20 193.40 Z" fill="url(#gbt)"/>
<path d="M306.20 163.45 C306.59 161.45 307.72 154.91 308.55 151.45 C309.37 148.00 310.36 144.91 311.16 142.73 C311.96 140.55 312.76 139.20 313.35 138.36 C313.93 137.53 314.15 137.27 314.65 137.71 C315.16 138.15 315.78 138.40 316.40 140.98 C317.02 143.56 317.49 148.91 318.36 153.20 C319.24 157.49 320.73 165.45 321.64 166.73 C322.55 168.00 323.09 163.09 323.82 160.84 C324.55 158.58 325.45 154.76 326.00 153.20 C326.55 151.64 326.55 151.09 327.09 151.45 C327.64 151.82 328.55 154.29 329.27 155.38 C330.00 156.47 330.73 157.20 331.45 158.00 C332.18 158.80 332.91 158.73 333.64 160.18 C334.36 161.64 335.20 165.27 335.82 166.73 C336.44 168.18 336.80 169.53 337.35 168.91 C337.89 168.29 338.55 165.64 339.09 163.02 C339.64 160.40 340.22 155.20 340.62 153.20 C341.02 151.20 341.09 149.93 341.49 151.02 C341.89 152.11 342.47 156.11 343.02 159.75 C343.56 163.38 344.15 169.75 344.76 172.84 C345.38 175.93 346.04 178.47 346.73 178.29 C347.42 178.11 348.18 175.38 348.91 171.75 C349.64 168.11 350.47 160.65 351.09 156.47 C351.71 152.29 352.18 148.65 352.62 146.65 C353.05 144.65 353.31 144.11 353.71 144.47 C354.11 144.84 354.55 146.84 355.02 148.84 C355.49 150.84 356.11 154.95 356.55 156.47 C356.98 158.00 357.20 158.91 357.64 158.00 C358.07 157.09 358.62 154.73 359.16 151.02 C359.71 147.31 360.25 140.22 360.91 135.75 C361.56 131.27 362.44 125.27 363.09 124.18 C363.75 123.09 364.22 127.09 364.84 129.20 C365.45 131.31 366.18 135.38 366.80 136.84 C367.42 138.29 368.00 137.56 368.55 137.93 C369.09 138.29 369.53 137.75 370.07 139.02 C370.62 140.29 371.16 143.13 371.82 145.56 C372.47 148.00 373.27 151.49 374.00 153.64 C374.73 155.78 375.53 157.42 376.18 158.44 C376.84 159.45 377.38 160.18 377.93 159.75 C378.47 159.31 378.84 158.65 379.45 155.82 C380.07 152.98 380.91 146.73 381.64 142.73 C382.36 138.73 383.09 134.55 383.82 131.82 C384.55 129.09 385.27 127.64 386.00 126.36 C386.73 125.09 387.53 124.00 388.18 124.18 C388.84 124.36 389.38 125.64 389.93 127.45 C390.47 129.27 390.91 132.44 391.45 135.09 C392.00 137.75 392.65 141.82 393.20 143.38 C393.75 144.95 394.11 144.65 394.73 144.47 C395.35 144.29 396.29 141.85 396.91 142.29 C397.53 142.73 397.89 144.18 398.44 147.09 C398.98 150.00 399.53 155.09 400.18 159.75 C400.84 164.40 401.64 170.65 402.36 175.02 C403.09 179.38 403.82 183.00 404.55 185.93 C405.27 188.86 405.64 191.49 406.73 192.60 C407.82 193.71 410.03 192.60 411.09 192.60 C412.15 192.60 412.45 193.15 413.09 192.60 C413.73 192.05 414.36 190.92 414.91 189.27 C415.45 187.63 415.88 185.39 416.36 182.73 C416.85 180.06 417.39 176.30 417.82 173.27 C418.24 170.24 418.58 166.97 418.91 164.55 C419.24 162.12 419.48 160.04 419.78 158.73 C420.08 157.42 420.39 157.08 420.73 156.69 C421.07 156.30 421.39 156.06 421.82 156.40 C422.24 156.74 422.79 157.73 423.27 158.73 C423.76 159.72 424.30 161.52 424.73 162.36 C425.15 163.21 425.45 163.94 425.82 163.82 C426.18 163.70 426.55 162.85 426.91 161.64 C427.27 160.42 427.64 158.12 428.00 156.55 C428.36 154.97 428.69 153.28 429.09 152.18 C429.49 151.08 429.85 149.03 430.40 149.93 C430.95 150.82 431.67 154.76 432.36 157.56 C433.05 160.36 433.89 166.11 434.55 166.73 C435.20 167.35 435.67 163.09 436.29 161.27 C436.91 159.45 437.64 155.71 438.25 155.82 C438.87 155.93 439.35 158.36 440.00 161.93 C440.65 165.49 441.45 172.95 442.18 177.20 C442.91 181.45 443.64 184.89 444.36 187.45 C445.09 190.02 445.64 191.74 446.55 192.60 C447.45 193.46 448.91 193.46 449.82 192.60 C450.73 191.74 451.27 190.31 452.00 187.45 C452.73 184.60 453.45 180.36 454.18 175.45 C454.91 170.55 455.64 163.45 456.36 158.00 C457.09 152.55 457.89 146.65 458.55 142.73 C459.20 138.80 459.75 136.25 460.29 134.44 C460.84 132.62 461.20 131.71 461.82 131.82 C462.44 131.93 463.20 133.82 464.00 135.09 C464.80 136.36 465.78 139.64 466.62 139.45 C467.45 139.27 468.36 136.48 469.02 134.00 C469.67 131.52 470.00 126.97 470.55 124.56 C471.09 122.15 471.64 120.64 472.29 119.55 C472.95 118.45 473.75 118.93 474.47 118.02 C475.20 117.11 475.93 116.56 476.65 114.09 C477.38 111.62 478.15 107.55 478.84 103.18 C479.53 98.82 480.18 93.00 480.80 87.91 C481.42 82.82 481.96 77.36 482.55 72.64 C483.13 67.91 483.75 62.75 484.29 59.55 C484.84 56.35 485.31 54.71 485.82 53.44 C486.33 52.16 486.69 51.69 487.35 51.91 C488.00 52.13 488.91 53.65 489.75 54.75 C490.58 55.84 491.49 57.29 492.36 58.45 C493.24 59.62 494.15 60.82 494.98 61.73 C495.82 62.64 496.62 64.45 497.38 63.91 C498.15 63.36 498.76 61.18 499.56 58.45 C500.36 55.73 501.27 51.00 502.18 47.55 C503.09 44.09 504.11 40.45 505.02 37.73 C505.93 35.00 506.76 33.00 507.64 31.18 C508.51 29.36 509.35 27.98 510.25 26.82 C511.16 25.65 512.25 24.20 513.09 24.20 C513.93 24.20 514.44 25.47 515.27 26.82 C516.11 28.16 517.20 30.71 518.11 32.27 C519.02 33.84 520.04 35.36 520.73 36.20 C521.42 37.04 521.64 37.95 522.25 37.29 C522.87 36.64 523.60 34.38 524.44 32.27 C525.27 30.16 526.25 26.71 527.27 24.64 C528.29 22.56 529.45 21.47 530.55 19.84 C531.64 18.20 533.06 16.20 533.82 14.82 C534.58 13.44 534.89 12.09 535.10 11.55" fill="none" stroke="#1fe9e9" stroke-width="0.9"/>
<linearGradient id="gbr" gradientUnits="userSpaceOnUse" x1="0" y1="124.62" x2="0" y2="191.40"><stop offset="0" stop-color="#ff1c1c"/><stop offset="0.060" stop-color="#ff1c1c"/><stop offset="0.138" stop-color="#ff4747"/><stop offset="0.217" stop-color="#ff6a6a"/><stop offset="0.295" stop-color="#ff8888"/><stop offset="0.373" stop-color="#ffa1a1"/><stop offset="0.452" stop-color="#ffb5b5"/><stop offset="0.530" stop-color="#ffc6c6"/><stop offset="0.608" stop-color="#ffd5d5"/><stop offset="0.687" stop-color="#ffe0e0"/><stop offset="0.765" stop-color="#ffeaea"/><stop offset="0.843" stop-color="#fff2f2"/><stop offset="0.922" stop-color="#fff9f9"/><stop offset="1.000" stop-color="#ffffff"/></linearGradient>
<path d="M306.20 164.98 C306.59 163.64 307.72 159.71 308.55 156.91 C309.37 154.11 310.36 150.55 311.16 148.18 C311.96 145.82 312.69 143.89 313.35 142.73 C314.00 141.56 314.51 140.65 315.09 141.20 C315.67 141.75 316.18 143.20 316.84 146.00 C317.49 148.80 318.22 154.47 319.02 158.00 C319.82 161.53 320.84 166.62 321.64 167.16 C322.44 167.71 323.09 163.53 323.82 161.27 C324.55 159.02 325.45 155.20 326.00 153.64 C326.55 152.07 326.55 151.53 327.09 151.89 C327.64 152.25 328.55 154.73 329.27 155.82 C330.00 156.91 330.73 157.64 331.45 158.44 C332.18 159.24 332.91 159.16 333.64 160.62 C334.36 162.07 335.20 165.71 335.82 167.16 C336.44 168.62 336.80 169.96 337.35 169.35 C337.89 168.73 338.55 166.07 339.09 163.45 C339.64 160.84 340.22 155.64 340.62 153.64 C341.02 151.64 341.09 150.36 341.49 151.45 C341.89 152.55 342.47 156.55 343.02 160.18 C343.56 163.82 344.15 170.18 344.76 173.27 C345.38 176.36 346.04 178.91 346.73 178.73 C347.42 178.55 348.18 175.82 348.91 172.18 C349.64 168.55 350.47 161.09 351.09 156.91 C351.71 152.73 352.18 149.09 352.62 147.09 C353.05 145.09 353.31 144.55 353.71 144.91 C354.11 145.27 354.55 147.27 355.02 149.27 C355.49 151.27 356.11 155.38 356.55 156.91 C356.98 158.44 357.20 159.35 357.64 158.44 C358.07 157.53 358.62 155.16 359.16 151.45 C359.71 147.75 360.25 140.65 360.91 136.18 C361.56 131.71 362.44 125.71 363.09 124.62 C363.75 123.53 364.22 127.53 364.84 129.64 C365.45 131.75 366.18 135.82 366.80 137.27 C367.42 138.73 368.00 138.00 368.55 138.36 C369.09 138.73 369.53 138.18 370.07 139.45 C370.62 140.73 371.16 143.09 371.82 146.00 C372.47 148.91 373.27 153.64 374.00 156.91 C374.73 160.18 375.53 163.71 376.18 165.64 C376.84 167.56 377.38 168.84 377.93 168.47 C378.47 168.11 378.91 166.29 379.45 163.45 C380.00 160.62 380.58 155.09 381.20 151.45 C381.82 147.82 382.55 143.71 383.16 141.64 C383.78 139.56 384.25 139.56 384.91 139.02 C385.56 138.47 386.36 138.65 387.09 138.36 C387.82 138.07 388.62 136.55 389.27 137.27 C389.93 138.00 390.36 141.09 391.02 142.73 C391.67 144.36 392.58 146.55 393.20 147.09 C393.82 147.64 394.11 146.55 394.73 146.00 C395.35 145.45 396.29 143.45 396.91 143.82 C397.53 144.18 397.89 145.45 398.44 148.18 C398.98 150.91 399.53 155.64 400.18 160.18 C400.84 164.73 401.64 171.09 402.36 175.45 C403.09 179.82 403.82 183.51 404.55 186.36 C405.27 189.22 405.64 191.56 406.73 192.60 C407.82 193.64 409.80 192.60 411.09 192.60 C412.39 192.60 413.62 193.08 414.50 192.60 C415.38 192.12 415.85 190.92 416.40 189.70 C416.95 188.48 417.38 187.02 417.80 185.30 C418.22 183.58 418.42 181.67 418.90 179.40 C419.38 177.13 420.10 173.80 420.70 171.70 C421.30 169.60 422.19 167.56 422.50 166.80 C422.81 166.04 421.99 167.36 422.55 167.16 C423.10 166.97 424.91 166.98 425.82 165.64 C426.73 164.29 427.24 161.45 428.00 159.09 C428.76 156.73 429.67 151.45 430.40 151.45 C431.13 151.45 431.67 156.36 432.36 159.09 C433.05 161.82 433.89 167.27 434.55 167.82 C435.20 168.36 435.67 164.25 436.29 162.36 C436.91 160.47 437.64 156.47 438.25 156.47 C438.87 156.47 439.35 158.84 440.00 162.36 C440.65 165.89 441.45 173.45 442.18 177.64 C442.91 181.82 443.64 184.96 444.36 187.45 C445.09 189.95 445.45 191.74 446.55 192.60 C447.64 193.46 449.75 193.64 450.91 192.60 C452.07 191.56 452.73 189.22 453.53 186.36 C454.33 183.51 454.98 179.27 455.71 175.45 C456.44 171.64 457.24 166.55 457.89 163.45 C458.55 160.36 459.05 158.25 459.64 156.91 C460.22 155.56 460.76 154.84 461.38 155.38 C462.00 155.93 462.55 158.11 463.35 160.18 C464.15 162.25 465.16 166.18 466.18 167.82 C467.20 169.45 468.44 169.27 469.45 170.00 C470.47 170.73 471.38 171.38 472.29 172.18 C473.20 172.98 474.04 175.16 474.91 174.80 C475.78 174.44 476.62 172.07 477.53 170.00 C478.44 167.93 479.42 165.27 480.36 162.36 C481.31 159.45 482.36 155.09 483.20 152.55 C484.04 150.00 484.73 148.18 485.38 147.09 C486.04 146.00 486.40 145.71 487.13 146.00 C487.85 146.29 488.87 147.64 489.75 148.84 C490.62 150.04 491.49 151.67 492.36 153.20 C493.24 154.73 494.07 156.47 494.98 158.00 C495.89 159.53 496.87 162.29 497.82 162.36 C498.76 162.44 499.75 159.53 500.65 158.44 C501.56 157.35 502.47 156.18 503.27 155.82 C504.07 155.45 504.55 155.82 505.45 156.25 C506.36 156.69 507.64 158.07 508.73 158.44 C509.82 158.80 511.02 157.96 512.00 158.44 C512.98 158.91 513.71 159.82 514.62 161.27 C515.53 162.73 516.51 165.35 517.45 167.16 C518.40 168.98 519.49 171.05 520.29 172.18 C521.09 173.31 521.53 174.11 522.25 173.93 C522.98 173.75 523.82 172.22 524.65 171.09 C525.49 169.96 526.29 168.44 527.27 167.16 C528.25 165.89 529.53 164.36 530.55 163.45 C531.56 162.55 532.62 161.96 533.38 161.71 C534.14 161.45 534.81 161.89 535.10 161.93 L535.10 193.40 L306.20 193.40 Z" fill="url(#gbr)"/>
<path d="M306.20 164.98 C306.59 163.64 307.72 159.71 308.55 156.91 C309.37 154.11 310.36 150.55 311.16 148.18 C311.96 145.82 312.69 143.89 313.35 142.73 C314.00 141.56 314.51 140.65 315.09 141.20 C315.67 141.75 316.18 143.20 316.84 146.00 C317.49 148.80 318.22 154.47 319.02 158.00 C319.82 161.53 320.84 166.62 321.64 167.16 C322.44 167.71 323.09 163.53 323.82 161.27 C324.55 159.02 325.45 155.20 326.00 153.64 C326.55 152.07 326.55 151.53 327.09 151.89 C327.64 152.25 328.55 154.73 329.27 155.82 C330.00 156.91 330.73 157.64 331.45 158.44 C332.18 159.24 332.91 159.16 333.64 160.62 C334.36 162.07 335.20 165.71 335.82 167.16 C336.44 168.62 336.80 169.96 337.35 169.35 C337.89 168.73 338.55 166.07 339.09 163.45 C339.64 160.84 340.22 155.64 340.62 153.64 C341.02 151.64 341.09 150.36 341.49 151.45 C341.89 152.55 342.47 156.55 343.02 160.18 C343.56 163.82 344.15 170.18 344.76 173.27 C345.38 176.36 346.04 178.91 346.73 178.73 C347.42 178.55 348.18 175.82 348.91 172.18 C349.64 168.55 350.47 161.09 351.09 156.91 C351.71 152.73 352.18 149.09 352.62 147.09 C353.05 145.09 353.31 144.55 353.71 144.91 C354.11 145.27 354.55 147.27 355.02 149.27 C355.49 151.27 356.11 155.38 356.55 156.91 C356.98 158.44 357.20 159.35 357.64 158.44 C358.07 157.53 358.62 155.16 359.16 151.45 C359.71 147.75 360.25 140.65 360.91 136.18 C361.56 131.71 362.44 125.71 363.09 124.62 C363.75 123.53 364.22 127.53 364.84 129.64 C365.45 131.75 366.18 135.82 366.80 137.27 C367.42 138.73 368.00 138.00 368.55 138.36 C369.09 138.73 369.53 138.18 370.07 139.45 C370.62 140.73 371.16 143.09 371.82 146.00 C372.47 148.91 373.27 153.64 374.00 156.91 C374.73 160.18 375.53 163.71 376.18 165.64 C376.84 167.56 377.38 168.84 377.93 168.47 C378.47 168.11 378.91 166.29 379.45 163.45 C380.00 160.62 380.58 155.09 381.20 151.45 C381.82 147.82 382.55 143.71 383.16 141.64 C383.78 139.56 384.25 139.56 384.91 139.02 C385.56 138.47 386.36 138.65 387.09 138.36 C387.82 138.07 388.62 136.55 389.27 137.27 C389.93 138.00 390.36 141.09 391.02 142.73 C391.67 144.36 392.58 146.55 393.20 147.09 C393.82 147.64 394.11 146.55 394.73 146.00 C395.35 145.45 396.29 143.45 396.91 143.82 C397.53 144.18 397.89 145.45 398.44 148.18 C398.98 150.91 399.53 155.64 400.18 160.18 C400.84 164.73 401.64 171.09 402.36 175.45 C403.09 179.82 403.82 183.51 404.55 186.36 C405.27 189.22 405.64 191.56 406.73 192.60 C407.82 193.64 409.80 192.60 411.09 192.60 C412.39 192.60 413.62 193.08 414.50 192.60 C415.38 192.12 415.85 190.92 416.40 189.70 C416.95 188.48 417.38 187.02 417.80 185.30 C418.22 183.58 418.42 181.67 418.90 179.40 C419.38 177.13 420.10 173.80 420.70 171.70 C421.30 169.60 422.19 167.56 422.50 166.80 C422.81 166.04 421.99 167.36 422.55 167.16 C423.10 166.97 424.91 166.98 425.82 165.64 C426.73 164.29 427.24 161.45 428.00 159.09 C428.76 156.73 429.67 151.45 430.40 151.45 C431.13 151.45 431.67 156.36 432.36 159.09 C433.05 161.82 433.89 167.27 434.55 167.82 C435.20 168.36 435.67 164.25 436.29 162.36 C436.91 160.47 437.64 156.47 438.25 156.47 C438.87 156.47 439.35 158.84 440.00 162.36 C440.65 165.89 441.45 173.45 442.18 177.64 C442.91 181.82 443.64 184.96 444.36 187.45 C445.09 189.95 445.45 191.74 446.55 192.60 C447.64 193.46 449.75 193.64 450.91 192.60 C452.07 191.56 452.73 189.22 453.53 186.36 C454.33 183.51 454.98 179.27 455.71 175.45 C456.44 171.64 457.24 166.55 457.89 163.45 C458.55 160.36 459.05 158.25 459.64 156.91 C460.22 155.56 460.76 154.84 461.38 155.38 C462.00 155.93 462.55 158.11 463.35 160.18 C464.15 162.25 465.16 166.18 466.18 167.82 C467.20 169.45 468.44 169.27 469.45 170.00 C470.47 170.73 471.38 171.38 472.29 172.18 C473.20 172.98 474.04 175.16 474.91 174.80 C475.78 174.44 476.62 172.07 477.53 170.00 C478.44 167.93 479.42 165.27 480.36 162.36 C481.31 159.45 482.36 155.09 483.20 152.55 C484.04 150.00 484.73 148.18 485.38 147.09 C486.04 146.00 486.40 145.71 487.13 146.00 C487.85 146.29 488.87 147.64 489.75 148.84 C490.62 150.04 491.49 151.67 492.36 153.20 C493.24 154.73 494.07 156.47 494.98 158.00 C495.89 159.53 496.87 162.29 497.82 162.36 C498.76 162.44 499.75 159.53 500.65 158.44 C501.56 157.35 502.47 156.18 503.27 155.82 C504.07 155.45 504.55 155.82 505.45 156.25 C506.36 156.69 507.64 158.07 508.73 158.44 C509.82 158.80 511.02 157.96 512.00 158.44 C512.98 158.91 513.71 159.82 514.62 161.27 C515.53 162.73 516.51 165.35 517.45 167.16 C518.40 168.98 519.49 171.05 520.29 172.18 C521.09 173.31 521.53 174.11 522.25 173.93 C522.98 173.75 523.82 172.22 524.65 171.09 C525.49 169.96 526.29 168.44 527.27 167.16 C528.25 165.89 529.53 164.36 530.55 163.45 C531.56 162.55 532.62 161.96 533.38 161.71 C534.14 161.45 534.81 161.89 535.10 161.93" fill="none" stroke="#ff8a8a" stroke-width="0.6"/>
<linearGradient id="gbb" gradientUnits="userSpaceOnUse" x1="0" y1="175.60" x2="0" y2="191.40"><stop offset="0" stop-color="#1414ff"/><stop offset="0.050" stop-color="#1414ff"/><stop offset="0.129" stop-color="#4545ff"/><stop offset="0.208" stop-color="#6d6dff"/><stop offset="0.287" stop-color="#8d8dff"/><stop offset="0.367" stop-color="#a7a7ff"/><stop offset="0.446" stop-color="#bcbcff"/><stop offset="0.525" stop-color="#cdcdff"/><stop offset="0.604" stop-color="#dadaff"/><stop offset="0.683" stop-color="#e5e5ff"/><stop offset="0.762" stop-color="#eeeeff"/><stop offset="0.842" stop-color="#f5f5ff"/><stop offset="0.921" stop-color="#fafaff"/><stop offset="1.000" stop-color="#ffffff"/></linearGradient>
<path d="M306.20 189.64 C306.52 188.91 307.54 186.44 308.11 185.27 C308.68 184.11 309.20 183.16 309.64 182.65 C310.07 182.15 310.29 181.89 310.73 182.22 C311.16 182.55 311.71 183.49 312.25 184.62 C312.80 185.75 313.35 187.83 314.00 188.98 C314.65 190.13 312.73 191.08 316.18 191.50 C319.64 191.92 326.00 191.50 334.73 191.50 C343.45 191.50 362.29 191.81 368.55 191.50 C374.80 191.19 371.27 190.67 372.25 189.64 C373.24 188.60 373.78 186.44 374.44 185.27 C375.09 184.11 375.71 183.16 376.18 182.65 C376.65 182.15 376.84 181.96 377.27 182.22 C377.71 182.47 378.25 183.42 378.80 184.18 C379.35 184.95 379.89 186.80 380.55 186.80 C381.20 186.80 382.00 185.27 382.73 184.18 C383.45 183.09 384.18 181.24 384.91 180.25 C385.64 179.27 386.44 178.29 387.09 178.29 C387.75 178.29 388.18 179.09 388.84 180.25 C389.49 181.42 390.29 183.71 391.02 185.27 C391.75 186.84 392.47 188.60 393.20 189.64 C393.93 190.67 394.58 191.19 395.38 191.50 C396.18 191.81 395.17 191.50 398.00 191.50 C400.83 191.50 409.67 191.69 412.36 191.50 C415.06 191.31 413.64 191.10 414.18 190.36 C414.73 189.63 415.15 188.48 415.64 187.09 C416.12 185.70 416.61 183.64 417.09 182.00 C417.58 180.36 418.12 178.34 418.55 177.27 C418.97 176.21 419.27 175.60 419.64 175.60 C420.00 175.60 420.30 176.21 420.73 177.27 C421.15 178.34 421.70 180.36 422.18 182.00 C422.67 183.64 423.15 185.70 423.64 187.09 C424.12 188.48 424.48 189.63 425.09 190.36 C425.70 191.10 425.15 191.31 427.27 191.50 C429.39 191.69 434.24 191.50 437.82 191.50 C441.39 191.50 446.36 191.92 448.73 191.50 C451.09 191.08 450.98 190.02 452.00 188.98 C453.02 187.94 454.00 186.33 454.84 185.27 C455.67 184.22 456.40 183.20 457.02 182.65 C457.64 182.11 457.93 181.85 458.55 182.00 C459.16 182.15 459.82 182.80 460.73 183.53 C461.64 184.25 462.91 185.60 464.00 186.36 C465.09 187.13 466.18 187.75 467.27 188.11 C468.36 188.47 469.45 188.55 470.55 188.55 C471.64 188.55 472.55 187.96 473.82 188.11 C475.09 188.25 476.55 189.05 478.18 189.42 C479.82 189.78 481.27 189.94 483.64 190.29 C486.00 190.64 489.09 191.30 492.36 191.50 C495.64 191.70 496.15 191.50 503.27 191.50 C510.40 191.50 529.80 191.50 535.10 191.50 L535.10 193.40 L306.20 193.40 Z" fill="url(#gbb)"/>
<path d="M306.20 191.40 H535.60" fill="none" stroke="#585858" stroke-width="1"/>
<path d="M306.20 189.64 C306.52 188.91 307.54 186.44 308.11 185.27 C308.68 184.11 309.20 183.16 309.64 182.65 C310.07 182.15 310.29 181.89 310.73 182.22 C311.16 182.55 311.71 183.49 312.25 184.62 C312.80 185.75 313.35 187.83 314.00 188.98 C314.65 190.13 312.73 191.08 316.18 191.50 C319.64 191.92 326.00 191.50 334.73 191.50 C343.45 191.50 362.29 191.81 368.55 191.50 C374.80 191.19 371.27 190.67 372.25 189.64 C373.24 188.60 373.78 186.44 374.44 185.27 C375.09 184.11 375.71 183.16 376.18 182.65 C376.65 182.15 376.84 181.96 377.27 182.22 C377.71 182.47 378.25 183.42 378.80 184.18 C379.35 184.95 379.89 186.80 380.55 186.80 C381.20 186.80 382.00 185.27 382.73 184.18 C383.45 183.09 384.18 181.24 384.91 180.25 C385.64 179.27 386.44 178.29 387.09 178.29 C387.75 178.29 388.18 179.09 388.84 180.25 C389.49 181.42 390.29 183.71 391.02 185.27 C391.75 186.84 392.47 188.60 393.20 189.64 C393.93 190.67 394.58 191.19 395.38 191.50 C396.18 191.81 395.17 191.50 398.00 191.50 C400.83 191.50 409.67 191.69 412.36 191.50 C415.06 191.31 413.64 191.10 414.18 190.36 C414.73 189.63 415.15 188.48 415.64 187.09 C416.12 185.70 416.61 183.64 417.09 182.00 C417.58 180.36 418.12 178.34 418.55 177.27 C418.97 176.21 419.27 175.60 419.64 175.60 C420.00 175.60 420.30 176.21 420.73 177.27 C421.15 178.34 421.70 180.36 422.18 182.00 C422.67 183.64 423.15 185.70 423.64 187.09 C424.12 188.48 424.48 189.63 425.09 190.36 C425.70 191.10 425.15 191.31 427.27 191.50 C429.39 191.69 434.24 191.50 437.82 191.50 C441.39 191.50 446.36 191.92 448.73 191.50 C451.09 191.08 450.98 190.02 452.00 188.98 C453.02 187.94 454.00 186.33 454.84 185.27 C455.67 184.22 456.40 183.20 457.02 182.65 C457.64 182.11 457.93 181.85 458.55 182.00 C459.16 182.15 459.82 182.80 460.73 183.53 C461.64 184.25 462.91 185.60 464.00 186.36 C465.09 187.13 466.18 187.75 467.27 188.11 C468.36 188.47 469.45 188.55 470.55 188.55 C471.64 188.55 472.55 187.96 473.82 188.11 C475.09 188.25 476.55 189.05 478.18 189.42 C479.82 189.78 481.27 189.94 483.64 190.29 C486.00 190.64 489.09 191.30 492.36 191.50 C495.64 191.70 496.15 191.50 503.27 191.50 C510.40 191.50 529.80 191.50 535.10 191.50" fill="none" stroke="#3a45d4" stroke-width="1.0"/>
</g>
<line x1="420.35" y1="7.00" x2="420.35" y2="191.40" stroke="#222" stroke-width="1.3" stroke-dasharray="5.1 4.3"/>
<path d="M306.20 7.00 H535.10 V191.40" fill="none" stroke="#333" stroke-width="1.3"/>
<path d="M306.20 6.40 V192.00" fill="none" stroke="#111" stroke-width="1.5"/>
<path d="M306.20 191.40h-3.30 M306.20 179.11h-1.80 M306.20 166.81h-3.30 M306.20 154.52h-1.80 M306.20 142.23h-3.30 M306.20 129.93h-1.80 M306.20 117.64h-3.30 M306.20 105.35h-1.80 M306.20 93.05h-3.30 M306.20 80.76h-1.80 M306.20 68.47h-3.30 M306.20 56.17h-1.80 M306.20 43.88h-3.30 M306.20 31.59h-1.80 M306.20 19.29h-3.30 M306.20 191.40v3.30 M334.81 191.40v1.80 M363.43 191.40v3.30 M392.04 191.40v1.80 M420.65 191.40v3.30 M449.26 191.40v1.80 M477.88 191.40v3.30 M506.49 191.40v1.80 M535.10 191.40v3.30" stroke="#1a1a1a" stroke-width="1.1" fill="none"/>
<g font-family="'Liberation Serif', serif" font-weight="bold" font-size="8.7" fill="#0a0a0a" stroke="#0a0a0a" stroke-width="0.25">
<text x="301.50" y="194.35" text-anchor="end">0</text>
<text x="301.50" y="169.76" text-anchor="end">10</text>
<text x="301.50" y="145.18" text-anchor="end">20</text>
<text x="301.50" y="120.59" text-anchor="end">30</text>
<text x="301.50" y="96.00" text-anchor="end">40</text>
<text x="301.50" y="71.42" text-anchor="end">50</text>
<text x="301.50" y="46.83" text-anchor="end">60</text>
<text x="301.50" y="22.24" text-anchor="end">70</text>
<text x="305.90" y="202.20" text-anchor="middle">-10</text>
<text x="363.12" y="202.20" text-anchor="middle">-5</text>
<text x="420.85" y="202.20" text-anchor="middle">0</text>
<text x="478.07" y="202.20" text-anchor="middle">5</text>
<text x="535.30" y="202.20" text-anchor="middle">10</text>
<text x="422.95" y="211.20" text-anchor="middle" font-size="9.6">Energy(eV)</text>
<text transform="translate(288.10 95.70) rotate(-90)" text-anchor="middle" font-size="9.4">Density of states</text>
<text x="275.30" y="14.20" font-size="9.0">(b)</text>
</g>
<g font-family="'Liberation Serif', serif" font-size="9.8" fill="#111" stroke="#111" stroke-width="0.12">
<linearGradient id="lgbt" x1="0" y1="0" x2="0" y2="1"><stop offset="0" stop-color="#00f8f8"/><stop offset="0.12" stop-color="#00f8f8"/><stop offset="0.8" stop-color="#fff"/></linearGradient>
<rect x="366.30" y="9.30" width="19.2" height="8.9" fill="url(#lgbt)" stroke="#b8b8b8" stroke-width="0.5"/>
<text x="390.50" y="17.00">Total</text>
<linearGradient id="lgbr" x1="0" y1="0" x2="0" y2="1"><stop offset="0" stop-color="#ff1c1c"/><stop offset="0.12" stop-color="#ff1c1c"/><stop offset="0.8" stop-color="#fff"/></linearGradient>
<rect x="366.30" y="20.90" width="19.2" height="8.9" fill="url(#lgbr)" stroke="#b8b8b8" stroke-width="0.5"/>
<text x="390.50" y="28.60">g-C<tspan dy="2.4" font-size="6.8">3</tspan><tspan dy="-2.4">N</tspan><tspan dy="2.4" font-size="6.8">4</tspan></text>
<linearGradient id="lgbb" x1="0" y1="0" x2="0" y2="1"><stop offset="0" stop-color="#1414ff"/><stop offset="0.12" stop-color="#1414ff"/><stop offset="0.8" stop-color="#fff"/></linearGradient>
<rect x="366.30" y="34.90" width="19.2" height="8.9" fill="url(#lgbb)" stroke="#b8b8b8" stroke-width="0.5"/>
<text x="390.50" y="42.60">Li<tspan dy="2.4" font-size="6.8">2</tspan><tspan dy="-2.4">S</tspan><tspan dy="2.4" font-size="6.8">2</tspan></text>
</g>
</g>
<g>
<clipPath id="clc"><rect x="39.80" y="220.80" width="229.40" height="185.05"/></clipPath>
<g clip-path="url(#clc)">
<linearGradient id="gct" gradientUnits="userSpaceOnUse" x1="0" y1="226.73" x2="0" y2="405.20"><stop offset="0" stop-color="#00f8f8"/><stop offset="0.250" stop-color="#00f8f8"/><stop offset="0.312" stop-color="#3bfafa"/><stop offset="0.375" stop-color="#6afbfb"/><stop offset="0.438" stop-color="#8efcfc"/><stop offset="0.500" stop-color="#aafdfd"/><stop offset="0.562" stop-color="#bffdfd"/><stop offset="0.625" stop-color="#d0fefe"/><stop offset="0.688" stop-color="#defefe"/><stop offset="0.750" stop-color="#e8fefe"/><stop offset="0.812" stop-color="#f0ffff"/><stop offset="0.875" stop-color="#f6ffff"/><stop offset="0.938" stop-color="#fbffff"/><stop offset="1.000" stop-color="#ffffff"/></linearGradient>
<path d="M39.80 382.35 C40.26 380.64 41.65 375.44 42.55 372.09 C43.44 368.75 44.25 365.18 45.16 362.27 C46.07 359.36 47.13 356.64 48.00 354.64 C48.87 352.64 49.67 350.09 50.40 350.27 C51.13 350.45 51.67 352.45 52.36 355.73 C53.05 359.00 53.82 365.84 54.55 369.91 C55.27 373.98 56.18 378.24 56.73 380.16 C57.27 382.09 57.35 382.35 57.82 381.47 C58.29 380.60 58.95 377.47 59.56 374.93 C60.18 372.38 60.98 368.09 61.53 366.20 C62.07 364.31 62.29 363.40 62.84 363.58 C63.38 363.76 64.11 365.84 64.80 367.29 C65.49 368.75 66.33 371.58 66.98 372.31 C67.64 373.04 68.25 371.65 68.73 371.65 C69.20 371.65 69.38 371.40 69.82 372.31 C70.25 373.22 70.80 375.51 71.35 377.11 C71.89 378.71 72.51 382.09 73.09 381.91 C73.67 381.73 74.29 378.64 74.84 376.02 C75.38 373.40 75.93 368.31 76.36 366.20 C76.80 364.09 77.02 362.45 77.45 363.36 C77.89 364.27 78.44 367.91 78.98 371.65 C79.53 375.40 80.15 382.31 80.73 385.84 C81.31 389.36 82.00 391.47 82.47 392.82 C82.95 394.16 83.02 394.82 83.56 393.91 C84.11 393.00 85.02 391.00 85.75 387.36 C86.47 383.73 87.24 377.00 87.93 372.09 C88.62 367.18 89.27 361.18 89.89 357.91 C90.51 354.64 91.09 353.73 91.64 352.45 C92.18 351.18 92.62 351.73 93.16 350.27 C93.71 348.82 94.33 346.27 94.91 343.73 C95.49 341.18 96.00 337.07 96.65 335.00 C97.31 332.93 98.15 331.11 98.84 331.29 C99.53 331.47 100.18 334.02 100.80 336.09 C101.42 338.16 102.00 342.09 102.55 343.73 C103.09 345.36 103.53 345.73 104.07 345.91 C104.62 346.09 105.35 345.07 105.82 344.82 C106.29 344.56 106.44 343.29 106.91 344.38 C107.38 345.47 108.04 347.65 108.65 351.36 C109.27 355.07 109.93 361.84 110.62 366.64 C111.31 371.44 112.22 377.25 112.80 380.16 C113.38 383.07 113.64 384.53 114.11 384.09 C114.58 383.65 115.09 382.27 115.64 377.55 C116.18 372.82 116.84 361.55 117.38 355.73 C117.93 349.91 118.47 345.25 118.91 342.64 C119.35 340.02 119.53 339.84 120.00 340.02 C120.47 340.20 121.20 342.75 121.75 343.73 C122.29 344.71 122.65 345.65 123.27 345.91 C123.89 346.16 124.80 344.16 125.45 345.25 C126.11 346.35 126.58 350.16 127.20 352.45 C127.82 354.75 128.55 359.18 129.16 359.00 C129.78 358.82 130.33 354.27 130.91 351.36 C131.49 348.45 132.11 343.73 132.65 341.55 C133.20 339.36 133.41 334.36 134.18 338.27 C134.95 342.18 136.64 358.73 137.27 365.00 C137.91 371.27 137.76 372.52 138.00 375.91 C138.24 379.30 138.48 382.70 138.73 385.36 C138.97 388.03 139.21 390.33 139.45 391.91 C139.70 393.48 139.94 394.21 140.18 394.82 C140.42 395.42 140.55 395.48 140.91 395.55 C141.27 395.61 141.94 395.36 142.36 395.18 C142.79 395.00 143.09 394.49 143.45 394.45 C143.82 394.42 144.18 394.72 144.55 394.96 C144.91 395.21 145.27 395.75 145.64 395.91 C146.00 396.07 146.30 396.15 146.73 395.91 C147.15 395.67 147.70 394.82 148.18 394.45 C148.67 394.09 149.15 393.93 149.64 393.73 C150.12 393.52 150.61 393.46 151.09 393.22 C151.58 392.98 152.12 392.61 152.55 392.27 C152.97 391.93 153.27 391.85 153.64 391.18 C154.00 390.52 154.36 389.36 154.73 388.27 C155.09 387.18 155.45 385.85 155.82 384.64 C156.18 383.42 156.55 381.91 156.91 381.00 C157.27 380.09 157.64 379.63 158.00 379.18 C158.36 378.73 158.73 378.37 159.09 378.31 C159.45 378.25 159.82 378.61 160.18 378.82 C160.55 379.02 160.91 379.67 161.27 379.55 C161.64 379.42 162.00 379.06 162.36 378.09 C162.73 377.12 163.09 375.30 163.45 373.73 C163.82 372.15 164.32 370.18 164.55 368.64 C164.78 367.09 164.53 365.59 164.84 364.45 C165.14 363.32 165.85 361.11 166.36 361.84 C166.87 362.56 167.35 365.40 167.89 368.82 C168.44 372.24 169.13 379.25 169.64 382.35 C170.15 385.44 170.47 387.62 170.95 387.36 C171.42 387.11 171.96 383.55 172.47 380.82 C172.98 378.09 173.53 373.29 174.00 371.00 C174.47 368.71 174.84 366.64 175.31 367.07 C175.78 367.51 176.33 370.24 176.84 373.62 C177.35 377.00 177.82 383.62 178.36 387.36 C178.91 391.11 179.56 394.82 180.11 396.09 C180.65 397.36 181.09 395.69 181.64 395.00 C182.18 394.31 182.84 392.64 183.38 391.95 C183.93 391.25 184.40 390.75 184.91 390.85 C185.42 390.96 185.89 391.62 186.44 392.60 C186.98 393.58 187.64 395.98 188.18 396.75 C188.73 397.51 189.27 397.84 189.71 397.18 C190.15 396.53 190.44 395.00 190.80 392.82 C191.16 390.64 191.49 388.45 191.89 384.09 C192.29 379.73 192.73 372.45 193.20 366.64 C193.67 360.82 194.22 353.55 194.73 349.18 C195.24 344.82 195.82 342.20 196.25 340.45 C196.69 338.71 196.87 338.16 197.35 338.71 C197.82 339.25 198.55 341.44 199.09 343.73 C199.64 346.02 200.15 350.53 200.62 352.45 C201.09 354.38 201.45 355.47 201.93 355.29 C202.40 355.11 202.95 353.47 203.45 351.36 C203.96 349.25 204.44 345.73 204.98 342.64 C205.53 339.55 206.25 335.05 206.73 332.82 C207.20 330.59 207.38 330.52 207.82 329.27 C208.25 328.03 208.73 326.15 209.35 325.35 C209.96 324.55 210.87 325.45 211.53 324.47 C212.18 323.49 212.69 321.93 213.27 319.45 C213.85 316.98 214.47 313.45 215.02 309.64 C215.56 305.82 216.00 301.09 216.55 296.55 C217.09 292.00 217.67 286.73 218.29 282.36 C218.91 278.00 219.64 273.38 220.25 270.36 C220.87 267.35 221.42 265.53 222.00 264.25 C222.58 262.98 223.09 262.73 223.75 262.73 C224.40 262.73 225.13 263.42 225.93 264.25 C226.73 265.09 227.75 266.65 228.55 267.75 C229.35 268.84 230.07 270.00 230.73 270.80 C231.38 271.60 231.82 273.16 232.47 272.55 C233.13 271.93 233.93 269.45 234.65 267.09 C235.38 264.73 236.11 261.09 236.84 258.36 C237.56 255.64 238.29 252.62 239.02 250.73 C239.75 248.84 240.40 247.82 241.20 247.02 C242.00 246.22 243.02 246.76 243.82 245.93 C244.62 245.09 245.27 243.20 246.00 242.00 C246.73 240.80 247.56 239.45 248.18 238.73 C248.80 238.00 249.09 237.45 249.71 237.64 C250.33 237.82 251.13 238.80 251.89 239.82 C252.65 240.84 253.53 242.65 254.29 243.75 C255.05 244.84 255.85 245.75 256.47 246.36 C257.09 246.98 257.38 247.64 258.00 247.45 C258.62 247.27 259.35 246.55 260.18 245.27 C261.02 244.00 262.11 241.64 263.02 239.82 C263.93 238.00 264.84 236.00 265.64 234.36 C266.44 232.73 267.31 231.27 267.82 230.00 C268.33 228.73 268.55 227.27 268.70 226.73 L268.70 407.20 L39.80 407.20 Z" fill="url(#gct)"/>
<path d="M39.80 382.35 C40.26 380.64 41.65 375.44 42.55 372.09 C43.44 368.75 44.25 365.18 45.16 362.27 C46.07 359.36 47.13 356.64 48.00 354.64 C48.87 352.64 49.67 350.09 50.40 350.27 C51.13 350.45 51.67 352.45 52.36 355.73 C53.05 359.00 53.82 365.84 54.55 369.91 C55.27 373.98 56.18 378.24 56.73 380.16 C57.27 382.09 57.35 382.35 57.82 381.47 C58.29 380.60 58.95 377.47 59.56 374.93 C60.18 372.38 60.98 368.09 61.53 366.20 C62.07 364.31 62.29 363.40 62.84 363.58 C63.38 363.76 64.11 365.84 64.80 367.29 C65.49 368.75 66.33 371.58 66.98 372.31 C67.64 373.04 68.25 371.65 68.73 371.65 C69.20 371.65 69.38 371.40 69.82 372.31 C70.25 373.22 70.80 375.51 71.35 377.11 C71.89 378.71 72.51 382.09 73.09 381.91 C73.67 381.73 74.29 378.64 74.84 376.02 C75.38 373.40 75.93 368.31 76.36 366.20 C76.80 364.09 77.02 362.45 77.45 363.36 C77.89 364.27 78.44 367.91 78.98 371.65 C79.53 375.40 80.15 382.31 80.73 385.84 C81.31 389.36 82.00 391.47 82.47 392.82 C82.95 394.16 83.02 394.82 83.56 393.91 C84.11 393.00 85.02 391.00 85.75 387.36 C86.47 383.73 87.24 377.00 87.93 372.09 C88.62 367.18 89.27 361.18 89.89 357.91 C90.51 354.64 91.09 353.73 91.64 352.45 C92.18 351.18 92.62 351.73 93.16 350.27 C93.71 348.82 94.33 346.27 94.91 343.73 C95.49 341.18 96.00 337.07 96.65 335.00 C97.31 332.93 98.15 331.11 98.84 331.29 C99.53 331.47 100.18 334.02 100.80 336.09 C101.42 338.16 102.00 342.09 102.55 343.73 C103.09 345.36 103.53 345.73 104.07 345.91 C104.62 346.09 105.35 345.07 105.82 344.82 C106.29 344.56 106.44 343.29 106.91 344.38 C107.38 345.47 108.04 347.65 108.65 351.36 C109.27 355.07 109.93 361.84 110.62 366.64 C111.31 371.44 112.22 377.25 112.80 380.16 C113.38 383.07 113.64 384.53 114.11 384.09 C114.58 383.65 115.09 382.27 115.64 377.55 C116.18 372.82 116.84 361.55 117.38 355.73 C117.93 349.91 118.47 345.25 118.91 342.64 C119.35 340.02 119.53 339.84 120.00 340.02 C120.47 340.20 121.20 342.75 121.75 343.73 C122.29 344.71 122.65 345.65 123.27 345.91 C123.89 346.16 124.80 344.16 125.45 345.25 C126.11 346.35 126.58 350.16 127.20 352.45 C127.82 354.75 128.55 359.18 129.16 359.00 C129.78 358.82 130.33 354.27 130.91 351.36 C131.49 348.45 132.11 343.73 132.65 341.55 C133.20 339.36 133.41 334.36 134.18 338.27 C134.95 342.18 136.64 358.73 137.27 365.00 C137.91 371.27 137.76 372.52 138.00 375.91 C138.24 379.30 138.48 382.70 138.73 385.36 C138.97 388.03 139.21 390.33 139.45 391.91 C139.70 393.48 139.94 394.21 140.18 394.82 C140.42 395.42 140.55 395.48 140.91 395.55 C141.27 395.61 141.94 395.36 142.36 395.18 C142.79 395.00 143.09 394.49 143.45 394.45 C143.82 394.42 144.18 394.72 144.55 394.96 C144.91 395.21 145.27 395.75 145.64 395.91 C146.00 396.07 146.30 396.15 146.73 395.91 C147.15 395.67 147.70 394.82 148.18 394.45 C148.67 394.09 149.15 393.93 149.64 393.73 C150.12 393.52 150.61 393.46 151.09 393.22 C151.58 392.98 152.12 392.61 152.55 392.27 C152.97 391.93 153.27 391.85 153.64 391.18 C154.00 390.52 154.36 389.36 154.73 388.27 C155.09 387.18 155.45 385.85 155.82 384.64 C156.18 383.42 156.55 381.91 156.91 381.00 C157.27 380.09 157.64 379.63 158.00 379.18 C158.36 378.73 158.73 378.37 159.09 378.31 C159.45 378.25 159.82 378.61 160.18 378.82 C160.55 379.02 160.91 379.67 161.27 379.55 C161.64 379.42 162.00 379.06 162.36 378.09 C162.73 377.12 163.09 375.30 163.45 373.73 C163.82 372.15 164.32 370.18 164.55 368.64 C164.78 367.09 164.53 365.59 164.84 364.45 C165.14 363.32 165.85 361.11 166.36 361.84 C166.87 362.56 167.35 365.40 167.89 368.82 C168.44 372.24 169.13 379.25 169.64 382.35 C170.15 385.44 170.47 387.62 170.95 387.36 C171.42 387.11 171.96 383.55 172.47 380.82 C172.98 378.09 173.53 373.29 174.00 371.00 C174.47 368.71 174.84 366.64 175.31 367.07 C175.78 367.51 176.33 370.24 176.84 373.62 C177.35 377.00 177.82 383.62 178.36 387.36 C178.91 391.11 179.56 394.82 180.11 396.09 C180.65 397.36 181.09 395.69 181.64 395.00 C182.18 394.31 182.84 392.64 183.38 391.95 C183.93 391.25 184.40 390.75 184.91 390.85 C185.42 390.96 185.89 391.62 186.44 392.60 C186.98 393.58 187.64 395.98 188.18 396.75 C188.73 397.51 189.27 397.84 189.71 397.18 C190.15 396.53 190.44 395.00 190.80 392.82 C191.16 390.64 191.49 388.45 191.89 384.09 C192.29 379.73 192.73 372.45 193.20 366.64 C193.67 360.82 194.22 353.55 194.73 349.18 C195.24 344.82 195.82 342.20 196.25 340.45 C196.69 338.71 196.87 338.16 197.35 338.71 C197.82 339.25 198.55 341.44 199.09 343.73 C199.64 346.02 200.15 350.53 200.62 352.45 C201.09 354.38 201.45 355.47 201.93 355.29 C202.40 355.11 202.95 353.47 203.45 351.36 C203.96 349.25 204.44 345.73 204.98 342.64 C205.53 339.55 206.25 335.05 206.73 332.82 C207.20 330.59 207.38 330.52 207.82 329.27 C208.25 328.03 208.73 326.15 209.35 325.35 C209.96 324.55 210.87 325.45 211.53 324.47 C212.18 323.49 212.69 321.93 213.27 319.45 C213.85 316.98 214.47 313.45 215.02 309.64 C215.56 305.82 216.00 301.09 216.55 296.55 C217.09 292.00 217.67 286.73 218.29 282.36 C218.91 278.00 219.64 273.38 220.25 270.36 C220.87 267.35 221.42 265.53 222.00 264.25 C222.58 262.98 223.09 262.73 223.75 262.73 C224.40 262.73 225.13 263.42 225.93 264.25 C226.73 265.09 227.75 266.65 228.55 267.75 C229.35 268.84 230.07 270.00 230.73 270.80 C231.38 271.60 231.82 273.16 232.47 272.55 C233.13 271.93 233.93 269.45 234.65 267.09 C235.38 264.73 236.11 261.09 236.84 258.36 C237.56 255.64 238.29 252.62 239.02 250.73 C239.75 248.84 240.40 247.82 241.20 247.02 C242.00 246.22 243.02 246.76 243.82 245.93 C244.62 245.09 245.27 243.20 246.00 242.00 C246.73 240.80 247.56 239.45 248.18 238.73 C248.80 238.00 249.09 237.45 249.71 237.64 C250.33 237.82 251.13 238.80 251.89 239.82 C252.65 240.84 253.53 242.65 254.29 243.75 C255.05 244.84 255.85 245.75 256.47 246.36 C257.09 246.98 257.38 247.64 258.00 247.45 C258.62 247.27 259.35 246.55 260.18 245.27 C261.02 244.00 262.11 241.64 263.02 239.82 C263.93 238.00 264.84 236.00 265.64 234.36 C266.44 232.73 267.31 231.27 267.82 230.00 C268.33 228.73 268.55 227.27 268.70 226.73" fill="none" stroke="#1fe9e9" stroke-width="0.9"/>
<linearGradient id="gcr" gradientUnits="userSpaceOnUse" x1="0" y1="337.18" x2="0" y2="405.20"><stop offset="0" stop-color="#ff1c1c"/><stop offset="0.060" stop-color="#ff1c1c"/><stop offset="0.138" stop-color="#ff4747"/><stop offset="0.217" stop-color="#ff6a6a"/><stop offset="0.295" stop-color="#ff8888"/><stop offset="0.373" stop-color="#ffa1a1"/><stop offset="0.452" stop-color="#ffb5b5"/><stop offset="0.530" stop-color="#ffc6c6"/><stop offset="0.608" stop-color="#ffd5d5"/><stop offset="0.687" stop-color="#ffe0e0"/><stop offset="0.765" stop-color="#ffeaea"/><stop offset="0.843" stop-color="#fff2f2"/><stop offset="0.922" stop-color="#fff9f9"/><stop offset="1.000" stop-color="#ffffff"/></linearGradient>
<path d="M39.80 386.71 C40.26 385.18 41.65 380.71 42.55 377.55 C43.44 374.38 44.25 370.56 45.16 367.73 C46.07 364.89 47.13 362.24 48.00 360.53 C48.87 358.82 49.67 357.18 50.40 357.47 C51.13 357.76 51.67 359.65 52.36 362.27 C53.05 364.89 53.82 370.09 54.55 373.18 C55.27 376.27 56.18 379.36 56.73 380.82 C57.27 382.27 57.35 382.82 57.82 381.91 C58.29 381.00 58.95 377.91 59.56 375.36 C60.18 372.82 60.98 368.53 61.53 366.64 C62.07 364.75 62.29 363.84 62.84 364.02 C63.38 364.20 64.11 366.27 64.80 367.73 C65.49 369.18 66.33 372.02 66.98 372.75 C67.64 373.47 68.25 372.09 68.73 372.09 C69.20 372.09 69.38 371.84 69.82 372.75 C70.25 373.65 70.80 375.95 71.35 377.55 C71.89 379.15 72.51 382.53 73.09 382.35 C73.67 382.16 74.29 379.07 74.84 376.45 C75.38 373.84 75.93 368.75 76.36 366.64 C76.80 364.53 77.02 362.89 77.45 363.80 C77.89 364.71 78.44 368.35 78.98 372.09 C79.53 375.84 80.15 382.75 80.73 386.27 C81.31 389.80 82.00 391.91 82.47 393.25 C82.95 394.60 83.02 395.15 83.56 394.35 C84.11 393.55 85.02 391.62 85.75 388.45 C86.47 385.29 87.24 379.36 87.93 375.36 C88.62 371.36 89.27 366.82 89.89 364.45 C90.51 362.09 91.09 361.84 91.64 361.18 C92.18 360.53 92.62 361.80 93.16 360.53 C93.71 359.25 94.33 356.35 94.91 353.55 C95.49 350.75 96.04 346.45 96.65 343.73 C97.27 341.00 98.00 337.00 98.62 337.18 C99.24 337.36 99.78 341.91 100.36 344.82 C100.95 347.73 101.56 352.45 102.11 354.64 C102.65 356.82 103.09 357.91 103.64 357.91 C104.18 357.91 104.84 355.55 105.38 354.64 C105.93 353.73 106.36 351.73 106.91 352.45 C107.45 353.18 108.04 355.91 108.65 359.00 C109.27 362.09 109.93 367.18 110.62 371.00 C111.31 374.82 112.22 379.55 112.80 381.91 C113.38 384.27 113.64 385.55 114.11 385.18 C114.58 384.82 115.09 383.18 115.64 379.73 C116.18 376.27 116.84 369.00 117.38 364.45 C117.93 359.91 118.47 354.82 118.91 352.45 C119.35 350.09 119.53 350.09 120.00 350.27 C120.47 350.45 121.20 352.71 121.75 353.55 C122.29 354.38 122.65 355.18 123.27 355.29 C123.89 355.40 124.80 353.58 125.45 354.20 C126.11 354.82 126.58 357.47 127.20 359.00 C127.82 360.53 128.55 363.55 129.16 363.36 C129.78 363.18 130.33 360.27 130.91 357.91 C131.49 355.55 132.18 351.11 132.65 349.18 C133.13 347.25 133.31 345.62 133.75 346.35 C134.18 347.07 134.75 350.44 135.27 353.55 C135.80 356.65 136.52 361.27 136.91 365.00 C137.30 368.73 137.39 372.52 137.64 375.91 C137.88 379.30 138.12 382.33 138.36 385.36 C138.61 388.39 138.85 391.67 139.09 394.09 C139.33 396.52 139.58 398.33 139.82 399.91 C140.06 401.48 140.24 402.46 140.55 403.55 C140.85 404.63 140.36 405.92 141.64 406.40 C142.91 406.88 146.24 406.75 148.18 406.40 C150.12 406.05 152.21 405.35 153.27 404.27 C154.34 403.19 154.25 401.36 154.58 399.91 C154.91 398.45 155.03 396.76 155.24 395.55 C155.44 394.33 155.54 394.33 155.82 392.64 C156.10 390.94 156.55 387.36 156.91 385.36 C157.27 383.36 157.64 381.61 158.00 380.64 C158.36 379.67 158.67 379.67 159.09 379.55 C159.52 379.42 160.06 380.03 160.55 379.91 C161.03 379.79 161.58 379.73 162.00 378.82 C162.42 377.91 162.73 376.03 163.09 374.45 C163.45 372.88 163.89 370.85 164.18 369.36 C164.47 367.88 164.47 366.55 164.84 365.55 C165.20 364.55 165.85 362.64 166.36 363.36 C166.87 364.09 167.35 366.64 167.89 369.91 C168.44 373.18 169.13 379.98 169.64 383.00 C170.15 386.02 170.47 388.20 170.95 388.02 C171.42 387.84 171.96 384.56 172.47 381.91 C172.98 379.25 173.53 374.38 174.00 372.09 C174.47 369.80 174.84 367.80 175.31 368.16 C175.78 368.53 176.33 370.89 176.84 374.27 C177.35 377.65 177.82 384.27 178.36 388.45 C178.91 392.64 179.45 396.37 180.11 399.36 C180.76 402.35 180.84 405.23 182.29 406.40 C183.75 407.57 187.38 407.75 188.84 406.40 C190.29 405.05 190.40 401.26 191.02 398.27 C191.64 395.28 192.00 391.91 192.55 388.45 C193.09 385.00 193.75 380.64 194.29 377.55 C194.84 374.45 195.31 371.55 195.82 369.91 C196.33 368.27 196.80 367.18 197.35 367.73 C197.89 368.27 198.44 370.64 199.09 373.18 C199.75 375.73 200.55 380.56 201.27 383.00 C202.00 385.44 202.73 387.62 203.45 387.80 C204.18 387.98 204.91 385.15 205.64 384.09 C206.36 383.04 207.09 381.47 207.82 381.47 C208.55 381.47 209.27 383.22 210.00 384.09 C210.73 384.96 211.45 386.89 212.18 386.71 C212.91 386.53 213.64 384.71 214.36 383.00 C215.09 381.29 215.82 378.82 216.55 376.45 C217.27 374.09 218.00 371.18 218.73 368.82 C219.45 366.45 220.18 363.84 220.91 362.27 C221.64 360.71 222.36 359.62 223.09 359.44 C223.82 359.25 224.44 360.16 225.27 361.18 C226.11 362.20 227.20 363.91 228.11 365.55 C229.02 367.18 229.75 369.44 230.73 371.00 C231.71 372.56 233.09 374.75 234.00 374.93 C234.91 375.11 235.35 373.18 236.18 372.09 C237.02 371.00 238.18 368.56 239.02 368.38 C239.85 368.20 240.40 369.84 241.20 371.00 C242.00 372.16 243.02 374.45 243.82 375.36 C244.62 376.27 245.09 376.53 246.00 376.45 C246.91 376.38 248.18 374.75 249.27 374.93 C250.36 375.11 251.45 376.38 252.55 377.55 C253.64 378.71 254.84 380.64 255.82 381.91 C256.80 383.18 257.71 384.45 258.44 385.18 C259.16 385.91 259.53 386.45 260.18 386.27 C260.84 386.09 261.64 385.00 262.36 384.09 C263.09 383.18 263.71 382.09 264.55 380.82 C265.38 379.55 266.69 377.55 267.38 376.45 C268.07 375.36 268.48 374.64 268.70 374.27 L268.70 407.20 L39.80 407.20 Z" fill="url(#gcr)"/>
<path d="M39.80 386.71 C40.26 385.18 41.65 380.71 42.55 377.55 C43.44 374.38 44.25 370.56 45.16 367.73 C46.07 364.89 47.13 362.24 48.00 360.53 C48.87 358.82 49.67 357.18 50.40 357.47 C51.13 357.76 51.67 359.65 52.36 362.27 C53.05 364.89 53.82 370.09 54.55 373.18 C55.27 376.27 56.18 379.36 56.73 380.82 C57.27 382.27 57.35 382.82 57.82 381.91 C58.29 381.00 58.95 377.91 59.56 375.36 C60.18 372.82 60.98 368.53 61.53 366.64 C62.07 364.75 62.29 363.84 62.84 364.02 C63.38 364.20 64.11 366.27 64.80 367.73 C65.49 369.18 66.33 372.02 66.98 372.75 C67.64 373.47 68.25 372.09 68.73 372.09 C69.20 372.09 69.38 371.84 69.82 372.75 C70.25 373.65 70.80 375.95 71.35 377.55 C71.89 379.15 72.51 382.53 73.09 382.35 C73.67 382.16 74.29 379.07 74.84 376.45 C75.38 373.84 75.93 368.75 76.36 366.64 C76.80 364.53 77.02 362.89 77.45 363.80 C77.89 364.71 78.44 368.35 78.98 372.09 C79.53 375.84 80.15 382.75 80.73 386.27 C81.31 389.80 82.00 391.91 82.47 393.25 C82.95 394.60 83.02 395.15 83.56 394.35 C84.11 393.55 85.02 391.62 85.75 388.45 C86.47 385.29 87.24 379.36 87.93 375.36 C88.62 371.36 89.27 366.82 89.89 364.45 C90.51 362.09 91.09 361.84 91.64 361.18 C92.18 360.53 92.62 361.80 93.16 360.53 C93.71 359.25 94.33 356.35 94.91 353.55 C95.49 350.75 96.04 346.45 96.65 343.73 C97.27 341.00 98.00 337.00 98.62 337.18 C99.24 337.36 99.78 341.91 100.36 344.82 C100.95 347.73 101.56 352.45 102.11 354.64 C102.65 356.82 103.09 357.91 103.64 357.91 C104.18 357.91 104.84 355.55 105.38 354.64 C105.93 353.73 106.36 351.73 106.91 352.45 C107.45 353.18 108.04 355.91 108.65 359.00 C109.27 362.09 109.93 367.18 110.62 371.00 C111.31 374.82 112.22 379.55 112.80 381.91 C113.38 384.27 113.64 385.55 114.11 385.18 C114.58 384.82 115.09 383.18 115.64 379.73 C116.18 376.27 116.84 369.00 117.38 364.45 C117.93 359.91 118.47 354.82 118.91 352.45 C119.35 350.09 119.53 350.09 120.00 350.27 C120.47 350.45 121.20 352.71 121.75 353.55 C122.29 354.38 122.65 355.18 123.27 355.29 C123.89 355.40 124.80 353.58 125.45 354.20 C126.11 354.82 126.58 357.47 127.20 359.00 C127.82 360.53 128.55 363.55 129.16 363.36 C129.78 363.18 130.33 360.27 130.91 357.91 C131.49 355.55 132.18 351.11 132.65 349.18 C133.13 347.25 133.31 345.62 133.75 346.35 C134.18 347.07 134.75 350.44 135.27 353.55 C135.80 356.65 136.52 361.27 136.91 365.00 C137.30 368.73 137.39 372.52 137.64 375.91 C137.88 379.30 138.12 382.33 138.36 385.36 C138.61 388.39 138.85 391.67 139.09 394.09 C139.33 396.52 139.58 398.33 139.82 399.91 C140.06 401.48 140.24 402.46 140.55 403.55 C140.85 404.63 140.36 405.92 141.64 406.40 C142.91 406.88 146.24 406.75 148.18 406.40 C150.12 406.05 152.21 405.35 153.27 404.27 C154.34 403.19 154.25 401.36 154.58 399.91 C154.91 398.45 155.03 396.76 155.24 395.55 C155.44 394.33 155.54 394.33 155.82 392.64 C156.10 390.94 156.55 387.36 156.91 385.36 C157.27 383.36 157.64 381.61 158.00 380.64 C158.36 379.67 158.67 379.67 159.09 379.55 C159.52 379.42 160.06 380.03 160.55 379.91 C161.03 379.79 161.58 379.73 162.00 378.82 C162.42 377.91 162.73 376.03 163.09 374.45 C163.45 372.88 163.89 370.85 164.18 369.36 C164.47 367.88 164.47 366.55 164.84 365.55 C165.20 364.55 165.85 362.64 166.36 363.36 C166.87 364.09 167.35 366.64 167.89 369.91 C168.44 373.18 169.13 379.98 169.64 383.00 C170.15 386.02 170.47 388.20 170.95 388.02 C171.42 387.84 171.96 384.56 172.47 381.91 C172.98 379.25 173.53 374.38 174.00 372.09 C174.47 369.80 174.84 367.80 175.31 368.16 C175.78 368.53 176.33 370.89 176.84 374.27 C177.35 377.65 177.82 384.27 178.36 388.45 C178.91 392.64 179.45 396.37 180.11 399.36 C180.76 402.35 180.84 405.23 182.29 406.40 C183.75 407.57 187.38 407.75 188.84 406.40 C190.29 405.05 190.40 401.26 191.02 398.27 C191.64 395.28 192.00 391.91 192.55 388.45 C193.09 385.00 193.75 380.64 194.29 377.55 C194.84 374.45 195.31 371.55 195.82 369.91 C196.33 368.27 196.80 367.18 197.35 367.73 C197.89 368.27 198.44 370.64 199.09 373.18 C199.75 375.73 200.55 380.56 201.27 383.00 C202.00 385.44 202.73 387.62 203.45 387.80 C204.18 387.98 204.91 385.15 205.64 384.09 C206.36 383.04 207.09 381.47 207.82 381.47 C208.55 381.47 209.27 383.22 210.00 384.09 C210.73 384.96 211.45 386.89 212.18 386.71 C212.91 386.53 213.64 384.71 214.36 383.00 C215.09 381.29 215.82 378.82 216.55 376.45 C217.27 374.09 218.00 371.18 218.73 368.82 C219.45 366.45 220.18 363.84 220.91 362.27 C221.64 360.71 222.36 359.62 223.09 359.44 C223.82 359.25 224.44 360.16 225.27 361.18 C226.11 362.20 227.20 363.91 228.11 365.55 C229.02 367.18 229.75 369.44 230.73 371.00 C231.71 372.56 233.09 374.75 234.00 374.93 C234.91 375.11 235.35 373.18 236.18 372.09 C237.02 371.00 238.18 368.56 239.02 368.38 C239.85 368.20 240.40 369.84 241.20 371.00 C242.00 372.16 243.02 374.45 243.82 375.36 C244.62 376.27 245.09 376.53 246.00 376.45 C246.91 376.38 248.18 374.75 249.27 374.93 C250.36 375.11 251.45 376.38 252.55 377.55 C253.64 378.71 254.84 380.64 255.82 381.91 C256.80 383.18 257.71 384.45 258.44 385.18 C259.16 385.91 259.53 386.45 260.18 386.27 C260.84 386.09 261.64 385.00 262.36 384.09 C263.09 383.18 263.71 382.09 264.55 380.82 C265.38 379.55 266.69 377.55 267.38 376.45 C268.07 375.36 268.48 374.64 268.70 374.27" fill="none" stroke="#ff8a8a" stroke-width="0.6"/>
<linearGradient id="gcb" gradientUnits="userSpaceOnUse" x1="0" y1="391.29" x2="0" y2="405.20"><stop offset="0" stop-color="#1414ff"/><stop offset="0.050" stop-color="#1414ff"/><stop offset="0.129" stop-color="#4545ff"/><stop offset="0.208" stop-color="#6d6dff"/><stop offset="0.287" stop-color="#8d8dff"/><stop offset="0.367" stop-color="#a7a7ff"/><stop offset="0.446" stop-color="#bcbcff"/><stop offset="0.525" stop-color="#cdcdff"/><stop offset="0.604" stop-color="#dadaff"/><stop offset="0.683" stop-color="#e5e5ff"/><stop offset="0.762" stop-color="#eeeeff"/><stop offset="0.842" stop-color="#f5f5ff"/><stop offset="0.921" stop-color="#fafaff"/><stop offset="1.000" stop-color="#ffffff"/></linearGradient>
<path d="M39.80 405.30 C40.26 405.30 41.80 405.63 42.55 405.30 C43.29 404.97 43.71 403.99 44.29 403.29 C44.87 402.59 45.42 401.84 46.04 401.11 C46.65 400.38 47.38 399.40 48.00 398.93 C48.62 398.45 49.13 398.24 49.75 398.27 C50.36 398.31 51.02 398.67 51.71 399.15 C52.40 399.62 53.16 400.42 53.89 401.11 C54.62 401.80 55.42 402.59 56.07 403.29 C56.73 403.99 57.16 404.97 57.82 405.30 C58.47 405.63 56.36 405.30 60.00 405.30 C63.64 405.30 75.45 405.49 79.64 405.30 C83.82 405.11 83.64 404.79 85.09 404.16 C86.55 403.54 87.38 402.53 88.36 401.55 C89.35 400.56 90.18 399.07 90.98 398.27 C91.78 397.47 92.51 396.75 93.16 396.75 C93.82 396.75 94.25 397.65 94.91 398.27 C95.56 398.89 96.36 400.82 97.09 400.45 C97.82 400.09 98.55 397.44 99.27 396.09 C100.00 394.75 100.80 393.18 101.45 392.38 C102.11 391.58 102.55 391.04 103.20 391.29 C103.85 391.55 104.65 392.56 105.38 393.91 C106.11 395.25 106.76 397.80 107.56 399.36 C108.36 400.93 109.31 402.30 110.18 403.29 C111.05 404.28 112.07 405.30 112.80 405.30 C113.53 405.30 113.89 404.28 114.55 403.29 C115.20 402.30 116.00 400.56 116.73 399.36 C117.45 398.16 118.25 396.82 118.91 396.09 C119.56 395.36 120.00 394.93 120.65 395.00 C121.31 395.07 122.04 395.80 122.84 396.53 C123.64 397.25 124.58 398.45 125.45 399.36 C126.33 400.27 127.35 401.44 128.07 401.98 C128.80 402.53 129.50 402.56 129.82 402.64 C130.14 402.72 129.67 402.55 130.00 402.45 C130.33 402.36 131.27 402.64 131.82 402.09 C132.36 401.55 132.79 400.15 133.27 399.18 C133.76 398.21 134.30 396.88 134.73 396.27 C135.15 395.67 135.39 395.36 135.82 395.55 C136.24 395.73 136.79 396.64 137.27 397.36 C137.76 398.09 138.34 399.36 138.73 399.91 C139.12 400.45 139.24 400.88 139.60 400.64 C139.96 400.39 140.45 399.24 140.91 398.45 C141.37 397.67 141.94 396.49 142.36 395.91 C142.79 395.33 143.09 395.02 143.45 394.96 C143.82 394.90 144.18 395.30 144.55 395.55 C144.91 395.79 145.27 396.24 145.64 396.42 C146.00 396.60 146.30 396.84 146.73 396.64 C147.15 396.43 147.70 395.58 148.18 395.18 C148.67 394.78 149.15 394.42 149.64 394.24 C150.12 394.05 150.61 394.09 151.09 394.09 C151.58 394.09 152.06 394.09 152.55 394.24 C153.03 394.38 153.52 394.50 154.00 394.96 C154.48 395.42 154.97 396.05 155.45 397.00 C155.94 397.95 156.42 399.61 156.91 400.64 C157.39 401.67 157.88 402.40 158.36 403.18 C158.85 403.96 159.21 404.95 159.82 405.30 C160.42 405.65 160.42 405.30 162.00 405.30 C163.58 405.30 167.64 405.30 169.27 405.30 C170.91 405.30 170.48 405.30 171.82 405.30 C173.15 405.30 176.00 405.74 177.27 405.30 C178.55 404.86 178.73 403.99 179.45 402.64 C180.18 401.28 180.98 398.75 181.64 397.18 C182.29 395.62 182.84 394.09 183.38 393.25 C183.93 392.42 184.40 392.05 184.91 392.16 C185.42 392.27 185.89 392.89 186.44 393.91 C186.98 394.93 187.64 397.25 188.18 398.27 C188.73 399.29 189.16 400.13 189.71 400.02 C190.25 399.91 190.80 398.64 191.45 397.62 C192.11 396.60 193.02 394.67 193.64 393.91 C194.25 393.15 194.62 392.93 195.16 393.04 C195.71 393.15 196.25 393.58 196.91 394.56 C197.56 395.55 198.36 397.65 199.09 398.93 C199.82 400.20 200.55 401.40 201.27 402.20 C202.00 403.00 202.55 403.40 203.45 403.73 C204.36 404.05 204.73 404.16 206.73 404.16 C208.73 404.16 212.18 403.76 215.45 403.73 C218.73 403.69 222.73 403.87 226.36 403.95 C230.00 404.02 233.64 403.94 237.27 404.16 C240.91 404.39 242.94 405.11 248.18 405.30 C253.42 405.49 265.28 405.30 268.70 405.30 L268.70 407.20 L39.80 407.20 Z" fill="url(#gcb)"/>
<path d="M39.80 405.20 H269.20" fill="none" stroke="#585858" stroke-width="1"/>
<path d="M39.80 405.30 C40.26 405.30 41.80 405.63 42.55 405.30 C43.29 404.97 43.71 403.99 44.29 403.29 C44.87 402.59 45.42 401.84 46.04 401.11 C46.65 400.38 47.38 399.40 48.00 398.93 C48.62 398.45 49.13 398.24 49.75 398.27 C50.36 398.31 51.02 398.67 51.71 399.15 C52.40 399.62 53.16 400.42 53.89 401.11 C54.62 401.80 55.42 402.59 56.07 403.29 C56.73 403.99 57.16 404.97 57.82 405.30 C58.47 405.63 56.36 405.30 60.00 405.30 C63.64 405.30 75.45 405.49 79.64 405.30 C83.82 405.11 83.64 404.79 85.09 404.16 C86.55 403.54 87.38 402.53 88.36 401.55 C89.35 400.56 90.18 399.07 90.98 398.27 C91.78 397.47 92.51 396.75 93.16 396.75 C93.82 396.75 94.25 397.65 94.91 398.27 C95.56 398.89 96.36 400.82 97.09 400.45 C97.82 400.09 98.55 397.44 99.27 396.09 C100.00 394.75 100.80 393.18 101.45 392.38 C102.11 391.58 102.55 391.04 103.20 391.29 C103.85 391.55 104.65 392.56 105.38 393.91 C106.11 395.25 106.76 397.80 107.56 399.36 C108.36 400.93 109.31 402.30 110.18 403.29 C111.05 404.28 112.07 405.30 112.80 405.30 C113.53 405.30 113.89 404.28 114.55 403.29 C115.20 402.30 116.00 400.56 116.73 399.36 C117.45 398.16 118.25 396.82 118.91 396.09 C119.56 395.36 120.00 394.93 120.65 395.00 C121.31 395.07 122.04 395.80 122.84 396.53 C123.64 397.25 124.58 398.45 125.45 399.36 C126.33 400.27 127.35 401.44 128.07 401.98 C128.80 402.53 129.50 402.56 129.82 402.64 C130.14 402.72 129.67 402.55 130.00 402.45 C130.33 402.36 131.27 402.64 131.82 402.09 C132.36 401.55 132.79 400.15 133.27 399.18 C133.76 398.21 134.30 396.88 134.73 396.27 C135.15 395.67 135.39 395.36 135.82 395.55 C136.24 395.73 136.79 396.64 137.27 397.36 C137.76 398.09 138.34 399.36 138.73 399.91 C139.12 400.45 139.24 400.88 139.60 400.64 C139.96 400.39 140.45 399.24 140.91 398.45 C141.37 397.67 141.94 396.49 142.36 395.91 C142.79 395.33 143.09 395.02 143.45 394.96 C143.82 394.90 144.18 395.30 144.55 395.55 C144.91 395.79 145.27 396.24 145.64 396.42 C146.00 396.60 146.30 396.84 146.73 396.64 C147.15 396.43 147.70 395.58 148.18 395.18 C148.67 394.78 149.15 394.42 149.64 394.24 C150.12 394.05 150.61 394.09 151.09 394.09 C151.58 394.09 152.06 394.09 152.55 394.24 C153.03 394.38 153.52 394.50 154.00 394.96 C154.48 395.42 154.97 396.05 155.45 397.00 C155.94 397.95 156.42 399.61 156.91 400.64 C157.39 401.67 157.88 402.40 158.36 403.18 C158.85 403.96 159.21 404.95 159.82 405.30 C160.42 405.65 160.42 405.30 162.00 405.30 C163.58 405.30 167.64 405.30 169.27 405.30 C170.91 405.30 170.48 405.30 171.82 405.30 C173.15 405.30 176.00 405.74 177.27 405.30 C178.55 404.86 178.73 403.99 179.45 402.64 C180.18 401.28 180.98 398.75 181.64 397.18 C182.29 395.62 182.84 394.09 183.38 393.25 C183.93 392.42 184.40 392.05 184.91 392.16 C185.42 392.27 185.89 392.89 186.44 393.91 C186.98 394.93 187.64 397.25 188.18 398.27 C188.73 399.29 189.16 400.13 189.71 400.02 C190.25 399.91 190.80 398.64 191.45 397.62 C192.11 396.60 193.02 394.67 193.64 393.91 C194.25 393.15 194.62 392.93 195.16 393.04 C195.71 393.15 196.25 393.58 196.91 394.56 C197.56 395.55 198.36 397.65 199.09 398.93 C199.82 400.20 200.55 401.40 201.27 402.20 C202.00 403.00 202.55 403.40 203.45 403.73 C204.36 404.05 204.73 404.16 206.73 404.16 C208.73 404.16 212.18 403.76 215.45 403.73 C218.73 403.69 222.73 403.87 226.36 403.95 C230.00 404.02 233.64 403.94 237.27 404.16 C240.91 404.39 242.94 405.11 248.18 405.30 C253.42 405.49 265.28 405.30 268.70 405.30" fill="none" stroke="#3a45d4" stroke-width="1.0"/>
</g>
<line x1="153.75" y1="220.80" x2="153.75" y2="405.20" stroke="#222" stroke-width="1.3" stroke-dasharray="5.1 4.3"/>
<path d="M39.80 220.80 H268.70 V405.20" fill="none" stroke="#333" stroke-width="1.3"/>
<path d="M39.80 220.20 V405.80" fill="none" stroke="#111" stroke-width="1.5"/>
<path d="M39.80 405.20h-3.30 M39.80 392.91h-1.80 M39.80 380.61h-3.30 M39.80 368.32h-1.80 M39.80 356.03h-3.30 M39.80 343.73h-1.80 M39.80 331.44h-3.30 M39.80 319.15h-1.80 M39.80 306.85h-3.30 M39.80 294.56h-1.80 M39.80 282.27h-3.30 M39.80 269.97h-1.80 M39.80 257.68h-3.30 M39.80 245.39h-1.80 M39.80 233.09h-3.30 M39.80 405.20v3.30 M68.41 405.20v1.80 M97.03 405.20v3.30 M125.64 405.20v1.80 M154.25 405.20v3.30 M182.86 405.20v1.80 M211.48 405.20v3.30 M240.09 405.20v1.80 M268.70 405.20v3.30" stroke="#1a1a1a" stroke-width="1.1" fill="none"/>
<g font-family="'Liberation Serif', serif" font-weight="bold" font-size="8.7" fill="#0a0a0a" stroke="#0a0a0a" stroke-width="0.25">
<text x="35.10" y="408.15" text-anchor="end">0</text>
<text x="35.10" y="383.56" text-anchor="end">10</text>
<text x="35.10" y="358.98" text-anchor="end">20</text>
<text x="35.10" y="334.39" text-anchor="end">30</text>
<text x="35.10" y="309.80" text-anchor="end">40</text>
<text x="35.10" y="285.22" text-anchor="end">50</text>
<text x="35.10" y="260.63" text-anchor="end">60</text>
<text x="35.10" y="236.04" text-anchor="end">70</text>
<text x="39.50" y="416.00" text-anchor="middle">-10</text>
<text x="96.73" y="416.00" text-anchor="middle">-5</text>
<text x="154.45" y="416.00" text-anchor="middle">0</text>
<text x="211.68" y="416.00" text-anchor="middle">5</text>
<text x="268.90" y="416.00" text-anchor="middle">10</text>
<text x="156.55" y="425.00" text-anchor="middle" font-size="9.6">Energy(eV)</text>
<text transform="translate(21.70 309.50) rotate(-90)" text-anchor="middle" font-size="9.4">Density of states</text>
<text x="7.70" y="228.00" font-size="9.0">(c)</text>
</g>
<g font-family="'Liberation Serif', serif" font-size="9.8" fill="#111" stroke="#111" stroke-width="0.12">
<linearGradient id="lgct" x1="0" y1="0" x2="0" y2="1"><stop offset="0" stop-color="#00f8f8"/><stop offset="0.12" stop-color="#00f8f8"/><stop offset="0.8" stop-color="#fff"/></linearGradient>
<rect x="99.90" y="223.10" width="19.2" height="8.9" fill="url(#lgct)" stroke="#b8b8b8" stroke-width="0.5"/>
<text x="124.10" y="230.80">Total</text>
<linearGradient id="lgcr" x1="0" y1="0" x2="0" y2="1"><stop offset="0" stop-color="#ff1c1c"/><stop offset="0.12" stop-color="#ff1c1c"/><stop offset="0.8" stop-color="#fff"/></linearGradient>
<rect x="99.90" y="234.70" width="19.2" height="8.9" fill="url(#lgcr)" stroke="#b8b8b8" stroke-width="0.5"/>
<text x="124.10" y="242.40">g-C<tspan dy="2.4" font-size="6.8">3</tspan><tspan dy="-2.4">N</tspan><tspan dy="2.4" font-size="6.8">4</tspan></text>
<linearGradient id="lgcb" x1="0" y1="0" x2="0" y2="1"><stop offset="0" stop-color="#1414ff"/><stop offset="0.12" stop-color="#1414ff"/><stop offset="0.8" stop-color="#fff"/></linearGradient>
<rect x="99.90" y="248.70" width="19.2" height="8.9" fill="url(#lgcb)" stroke="#b8b8b8" stroke-width="0.5"/>
<text x="124.10" y="256.40">Li<tspan dy="2.4" font-size="6.8">2</tspan><tspan dy="-2.4">S</tspan><tspan dy="2.4" font-size="6.8">4</tspan></text>
</g>
</g>
<g>
<clipPath id="cld"><rect x="307.50" y="220.70" width="229.40" height="185.05"/></clipPath>
<g clip-path="url(#cld)">
<linearGradient id="gdt" gradientUnits="userSpaceOnUse" x1="0" y1="233.71" x2="0" y2="405.10"><stop offset="0" stop-color="#00f8f8"/><stop offset="0.250" stop-color="#00f8f8"/><stop offset="0.312" stop-color="#3bfafa"/><stop offset="0.375" stop-color="#6afbfb"/><stop offset="0.438" stop-color="#8efcfc"/><stop offset="0.500" stop-color="#aafdfd"/><stop offset="0.562" stop-color="#bffdfd"/><stop offset="0.625" stop-color="#d0fefe"/><stop offset="0.688" stop-color="#defefe"/><stop offset="0.750" stop-color="#e8fefe"/><stop offset="0.812" stop-color="#f0ffff"/><stop offset="0.875" stop-color="#f6ffff"/><stop offset="0.938" stop-color="#fbffff"/><stop offset="1.000" stop-color="#ffffff"/></linearGradient>
<path d="M307.50 378.64 C307.60 378.89 307.64 379.62 308.11 380.16 C308.57 380.71 309.49 382.71 310.29 381.91 C311.09 381.11 312.04 378.27 312.91 375.36 C313.78 372.45 314.62 367.80 315.53 364.45 C316.44 361.11 317.53 357.47 318.36 355.29 C319.20 353.11 320.00 352.13 320.55 351.36 C321.09 350.60 321.16 350.16 321.64 350.71 C322.11 351.25 322.73 351.98 323.38 354.64 C324.04 357.29 324.84 362.82 325.56 366.64 C326.29 370.45 327.05 375.07 327.75 377.55 C328.44 380.02 329.09 381.91 329.71 381.47 C330.33 381.04 330.87 377.47 331.45 374.93 C332.04 372.38 332.65 368.13 333.20 366.20 C333.75 364.27 334.18 363.18 334.73 363.36 C335.27 363.55 335.82 365.80 336.47 367.29 C337.13 368.78 337.93 371.04 338.65 372.31 C339.38 373.58 340.11 373.95 340.84 374.93 C341.56 375.91 342.40 377.47 343.02 378.20 C343.64 378.93 344.00 380.13 344.55 379.29 C345.09 378.45 345.75 375.47 346.29 373.18 C346.84 370.89 347.38 367.25 347.82 365.55 C348.25 363.84 348.47 362.56 348.91 362.93 C349.35 363.29 349.89 365.29 350.44 367.73 C350.98 370.16 351.60 375.00 352.18 377.55 C352.76 380.09 353.38 381.84 353.93 383.00 C354.47 384.16 354.95 385.07 355.45 384.53 C355.96 383.98 356.44 382.16 356.98 379.73 C357.53 377.29 358.15 373.36 358.73 369.91 C359.31 366.45 359.93 361.36 360.47 359.00 C361.02 356.64 361.45 356.35 362.00 355.73 C362.55 355.11 363.20 356.38 363.75 355.29 C364.29 354.20 364.73 352.02 365.27 349.18 C365.82 346.35 366.47 341.55 367.02 338.27 C367.56 335.00 368.04 331.36 368.55 329.55 C369.05 327.73 369.53 327.00 370.07 327.36 C370.62 327.73 371.24 329.55 371.82 331.73 C372.40 333.91 372.95 338.09 373.56 340.45 C374.18 342.82 374.91 344.89 375.53 345.91 C376.15 346.93 376.73 346.75 377.27 346.56 C377.82 346.38 378.25 344.20 378.80 344.82 C379.35 345.44 379.96 347.36 380.55 350.27 C381.13 353.18 381.64 357.91 382.29 362.27 C382.95 366.64 383.85 373.47 384.47 376.45 C385.09 379.44 385.45 380.89 386.00 380.16 C386.55 379.44 387.20 375.80 387.75 372.09 C388.29 368.38 388.73 362.27 389.27 357.91 C389.82 353.55 390.47 348.64 391.02 345.91 C391.56 343.18 392.11 342.38 392.55 341.55 C392.98 340.71 393.09 340.53 393.64 340.89 C394.18 341.25 395.09 343.15 395.82 343.73 C396.55 344.31 397.27 344.75 398.00 344.38 C398.73 344.02 399.45 343.11 400.18 341.55 C400.91 339.98 401.71 336.56 402.36 335.00 C403.02 333.44 403.49 331.62 404.11 332.16 C404.73 332.71 405.30 332.80 406.07 338.27 C406.84 343.75 408.16 359.33 408.73 365.00 C409.29 370.67 409.15 369.61 409.45 372.27 C409.76 374.94 410.18 378.33 410.55 381.00 C410.91 383.67 411.27 386.27 411.64 388.27 C412.00 390.27 412.30 392.09 412.73 393.00 C413.15 393.91 413.70 393.61 414.18 393.73 C414.67 393.85 415.15 393.85 415.64 393.73 C416.12 393.61 416.61 393.24 417.09 393.00 C417.58 392.76 418.06 392.36 418.55 392.27 C419.03 392.19 419.52 392.25 420.00 392.49 C420.48 392.73 420.97 393.22 421.45 393.73 C421.94 394.24 422.42 394.82 422.91 395.55 C423.39 396.27 423.94 397.48 424.36 398.09 C424.79 398.70 425.15 399.36 425.45 399.18 C425.76 399.00 425.88 398.09 426.18 397.00 C426.48 395.91 426.91 394.33 427.27 392.64 C427.64 390.94 428.00 388.64 428.36 386.82 C428.73 385.00 429.09 383.00 429.45 381.73 C429.82 380.45 430.18 379.73 430.55 379.18 C430.91 378.64 431.27 378.45 431.64 378.45 C432.00 378.45 432.36 379.06 432.73 379.18 C433.09 379.30 433.45 379.61 433.82 379.18 C434.18 378.76 434.68 378.18 434.91 376.64 C435.14 375.09 434.90 371.94 435.20 369.91 C435.50 367.88 436.29 365.62 436.73 364.45 C437.16 363.29 437.35 362.20 437.82 362.93 C438.29 363.65 438.98 366.31 439.56 368.82 C440.15 371.33 440.80 375.98 441.31 377.98 C441.82 379.98 442.18 381.44 442.62 380.82 C443.05 380.20 443.49 377.00 443.93 374.27 C444.36 371.55 444.80 366.75 445.24 364.45 C445.67 362.16 446.07 360.16 446.55 360.53 C447.02 360.89 447.53 363.44 448.07 366.64 C448.62 369.84 449.27 376.38 449.82 379.73 C450.36 383.07 450.73 385.47 451.35 386.71 C451.96 387.95 452.87 386.31 453.53 387.15 C454.18 387.98 454.73 390.13 455.27 391.73 C455.82 393.33 456.33 395.65 456.80 396.75 C457.27 397.84 457.64 398.93 458.11 398.27 C458.58 397.62 459.02 395.91 459.64 392.82 C460.25 389.73 461.09 384.45 461.82 379.73 C462.55 375.00 463.27 369.55 464.00 364.45 C464.73 359.36 465.53 353.18 466.18 349.18 C466.84 345.18 467.38 342.27 467.93 340.45 C468.47 338.64 468.95 338.09 469.45 338.27 C469.96 338.45 470.44 340.09 470.98 341.55 C471.53 343.00 472.18 345.73 472.73 347.00 C473.27 348.27 473.71 349.55 474.25 349.18 C474.80 348.82 475.35 346.64 476.00 344.82 C476.65 343.00 477.45 340.45 478.18 338.27 C478.91 336.09 480.00 332.68 480.36 331.73 C480.73 330.77 480.00 333.14 480.36 332.55 C480.73 331.95 481.82 329.82 482.55 328.18 C483.27 326.55 484.11 325.09 484.73 322.73 C485.35 320.36 485.71 317.64 486.25 314.00 C486.80 310.36 487.42 305.64 488.00 300.91 C488.58 296.18 489.20 290.36 489.75 285.64 C490.29 280.91 490.76 276.18 491.27 272.55 C491.78 268.91 492.25 266.00 492.80 263.82 C493.35 261.64 494.00 260.29 494.55 259.45 C495.09 258.62 495.45 258.55 496.07 258.80 C496.69 259.05 497.49 259.96 498.25 260.98 C499.02 262.00 499.89 263.53 500.65 264.91 C501.42 266.29 502.22 268.25 502.84 269.27 C503.45 270.29 503.82 271.56 504.36 271.02 C504.91 270.47 505.49 268.29 506.11 266.00 C506.73 263.71 507.38 260.36 508.07 257.27 C508.76 254.18 509.53 250.07 510.25 247.45 C510.98 244.84 511.60 243.02 512.44 241.56 C513.27 240.11 514.25 239.56 515.27 238.73 C516.29 237.89 517.56 237.20 518.55 236.55 C519.53 235.89 520.51 235.16 521.16 234.80 C521.82 234.44 521.93 233.96 522.47 234.36 C523.02 234.76 523.75 235.93 524.44 237.20 C525.13 238.47 525.96 240.55 526.62 242.00 C527.27 243.45 527.89 245.20 528.36 245.93 C528.84 246.65 528.98 246.73 529.45 246.36 C529.93 246.00 530.55 245.02 531.20 243.75 C531.85 242.47 532.55 240.40 533.38 238.73 C534.22 237.05 535.75 234.55 536.22 233.71 L536.22 407.10 L307.50 407.10 Z" fill="url(#gdt)"/>
<path d="M307.50 378.64 C307.60 378.89 307.64 379.62 308.11 380.16 C308.57 380.71 309.49 382.71 310.29 381.91 C311.09 381.11 312.04 378.27 312.91 375.36 C313.78 372.45 314.62 367.80 315.53 364.45 C316.44 361.11 317.53 357.47 318.36 355.29 C319.20 353.11 320.00 352.13 320.55 351.36 C321.09 350.60 321.16 350.16 321.64 350.71 C322.11 351.25 322.73 351.98 323.38 354.64 C324.04 357.29 324.84 362.82 325.56 366.64 C326.29 370.45 327.05 375.07 327.75 377.55 C328.44 380.02 329.09 381.91 329.71 381.47 C330.33 381.04 330.87 377.47 331.45 374.93 C332.04 372.38 332.65 368.13 333.20 366.20 C333.75 364.27 334.18 363.18 334.73 363.36 C335.27 363.55 335.82 365.80 336.47 367.29 C337.13 368.78 337.93 371.04 338.65 372.31 C339.38 373.58 340.11 373.95 340.84 374.93 C341.56 375.91 342.40 377.47 343.02 378.20 C343.64 378.93 344.00 380.13 344.55 379.29 C345.09 378.45 345.75 375.47 346.29 373.18 C346.84 370.89 347.38 367.25 347.82 365.55 C348.25 363.84 348.47 362.56 348.91 362.93 C349.35 363.29 349.89 365.29 350.44 367.73 C350.98 370.16 351.60 375.00 352.18 377.55 C352.76 380.09 353.38 381.84 353.93 383.00 C354.47 384.16 354.95 385.07 355.45 384.53 C355.96 383.98 356.44 382.16 356.98 379.73 C357.53 377.29 358.15 373.36 358.73 369.91 C359.31 366.45 359.93 361.36 360.47 359.00 C361.02 356.64 361.45 356.35 362.00 355.73 C362.55 355.11 363.20 356.38 363.75 355.29 C364.29 354.20 364.73 352.02 365.27 349.18 C365.82 346.35 366.47 341.55 367.02 338.27 C367.56 335.00 368.04 331.36 368.55 329.55 C369.05 327.73 369.53 327.00 370.07 327.36 C370.62 327.73 371.24 329.55 371.82 331.73 C372.40 333.91 372.95 338.09 373.56 340.45 C374.18 342.82 374.91 344.89 375.53 345.91 C376.15 346.93 376.73 346.75 377.27 346.56 C377.82 346.38 378.25 344.20 378.80 344.82 C379.35 345.44 379.96 347.36 380.55 350.27 C381.13 353.18 381.64 357.91 382.29 362.27 C382.95 366.64 383.85 373.47 384.47 376.45 C385.09 379.44 385.45 380.89 386.00 380.16 C386.55 379.44 387.20 375.80 387.75 372.09 C388.29 368.38 388.73 362.27 389.27 357.91 C389.82 353.55 390.47 348.64 391.02 345.91 C391.56 343.18 392.11 342.38 392.55 341.55 C392.98 340.71 393.09 340.53 393.64 340.89 C394.18 341.25 395.09 343.15 395.82 343.73 C396.55 344.31 397.27 344.75 398.00 344.38 C398.73 344.02 399.45 343.11 400.18 341.55 C400.91 339.98 401.71 336.56 402.36 335.00 C403.02 333.44 403.49 331.62 404.11 332.16 C404.73 332.71 405.30 332.80 406.07 338.27 C406.84 343.75 408.16 359.33 408.73 365.00 C409.29 370.67 409.15 369.61 409.45 372.27 C409.76 374.94 410.18 378.33 410.55 381.00 C410.91 383.67 411.27 386.27 411.64 388.27 C412.00 390.27 412.30 392.09 412.73 393.00 C413.15 393.91 413.70 393.61 414.18 393.73 C414.67 393.85 415.15 393.85 415.64 393.73 C416.12 393.61 416.61 393.24 417.09 393.00 C417.58 392.76 418.06 392.36 418.55 392.27 C419.03 392.19 419.52 392.25 420.00 392.49 C420.48 392.73 420.97 393.22 421.45 393.73 C421.94 394.24 422.42 394.82 422.91 395.55 C423.39 396.27 423.94 397.48 424.36 398.09 C424.79 398.70 425.15 399.36 425.45 399.18 C425.76 399.00 425.88 398.09 426.18 397.00 C426.48 395.91 426.91 394.33 427.27 392.64 C427.64 390.94 428.00 388.64 428.36 386.82 C428.73 385.00 429.09 383.00 429.45 381.73 C429.82 380.45 430.18 379.73 430.55 379.18 C430.91 378.64 431.27 378.45 431.64 378.45 C432.00 378.45 432.36 379.06 432.73 379.18 C433.09 379.30 433.45 379.61 433.82 379.18 C434.18 378.76 434.68 378.18 434.91 376.64 C435.14 375.09 434.90 371.94 435.20 369.91 C435.50 367.88 436.29 365.62 436.73 364.45 C437.16 363.29 437.35 362.20 437.82 362.93 C438.29 363.65 438.98 366.31 439.56 368.82 C440.15 371.33 440.80 375.98 441.31 377.98 C441.82 379.98 442.18 381.44 442.62 380.82 C443.05 380.20 443.49 377.00 443.93 374.27 C444.36 371.55 444.80 366.75 445.24 364.45 C445.67 362.16 446.07 360.16 446.55 360.53 C447.02 360.89 447.53 363.44 448.07 366.64 C448.62 369.84 449.27 376.38 449.82 379.73 C450.36 383.07 450.73 385.47 451.35 386.71 C451.96 387.95 452.87 386.31 453.53 387.15 C454.18 387.98 454.73 390.13 455.27 391.73 C455.82 393.33 456.33 395.65 456.80 396.75 C457.27 397.84 457.64 398.93 458.11 398.27 C458.58 397.62 459.02 395.91 459.64 392.82 C460.25 389.73 461.09 384.45 461.82 379.73 C462.55 375.00 463.27 369.55 464.00 364.45 C464.73 359.36 465.53 353.18 466.18 349.18 C466.84 345.18 467.38 342.27 467.93 340.45 C468.47 338.64 468.95 338.09 469.45 338.27 C469.96 338.45 470.44 340.09 470.98 341.55 C471.53 343.00 472.18 345.73 472.73 347.00 C473.27 348.27 473.71 349.55 474.25 349.18 C474.80 348.82 475.35 346.64 476.00 344.82 C476.65 343.00 477.45 340.45 478.18 338.27 C478.91 336.09 480.00 332.68 480.36 331.73 C480.73 330.77 480.00 333.14 480.36 332.55 C480.73 331.95 481.82 329.82 482.55 328.18 C483.27 326.55 484.11 325.09 484.73 322.73 C485.35 320.36 485.71 317.64 486.25 314.00 C486.80 310.36 487.42 305.64 488.00 300.91 C488.58 296.18 489.20 290.36 489.75 285.64 C490.29 280.91 490.76 276.18 491.27 272.55 C491.78 268.91 492.25 266.00 492.80 263.82 C493.35 261.64 494.00 260.29 494.55 259.45 C495.09 258.62 495.45 258.55 496.07 258.80 C496.69 259.05 497.49 259.96 498.25 260.98 C499.02 262.00 499.89 263.53 500.65 264.91 C501.42 266.29 502.22 268.25 502.84 269.27 C503.45 270.29 503.82 271.56 504.36 271.02 C504.91 270.47 505.49 268.29 506.11 266.00 C506.73 263.71 507.38 260.36 508.07 257.27 C508.76 254.18 509.53 250.07 510.25 247.45 C510.98 244.84 511.60 243.02 512.44 241.56 C513.27 240.11 514.25 239.56 515.27 238.73 C516.29 237.89 517.56 237.20 518.55 236.55 C519.53 235.89 520.51 235.16 521.16 234.80 C521.82 234.44 521.93 233.96 522.47 234.36 C523.02 234.76 523.75 235.93 524.44 237.20 C525.13 238.47 525.96 240.55 526.62 242.00 C527.27 243.45 527.89 245.20 528.36 245.93 C528.84 246.65 528.98 246.73 529.45 246.36 C529.93 246.00 530.55 245.02 531.20 243.75 C531.85 242.47 532.55 240.40 533.38 238.73 C534.22 237.05 535.75 234.55 536.22 233.71" fill="none" stroke="#1fe9e9" stroke-width="0.9"/>
<linearGradient id="gdr" gradientUnits="userSpaceOnUse" x1="0" y1="336.09" x2="0" y2="405.10"><stop offset="0" stop-color="#ff1c1c"/><stop offset="0.060" stop-color="#ff1c1c"/><stop offset="0.138" stop-color="#ff4747"/><stop offset="0.217" stop-color="#ff6a6a"/><stop offset="0.295" stop-color="#ff8888"/><stop offset="0.373" stop-color="#ffa1a1"/><stop offset="0.452" stop-color="#ffb5b5"/><stop offset="0.530" stop-color="#ffc6c6"/><stop offset="0.608" stop-color="#ffd5d5"/><stop offset="0.687" stop-color="#ffe0e0"/><stop offset="0.765" stop-color="#ffeaea"/><stop offset="0.843" stop-color="#fff2f2"/><stop offset="0.922" stop-color="#fff9f9"/><stop offset="1.000" stop-color="#ffffff"/></linearGradient>
<path d="M307.50 386.27 C307.67 386.45 307.93 387.36 308.55 387.36 C309.16 387.36 310.25 387.91 311.16 386.27 C312.07 384.64 312.98 381.18 314.00 377.55 C315.02 373.91 316.29 367.91 317.27 364.45 C318.25 361.00 319.09 358.45 319.89 356.82 C320.69 355.18 321.42 354.09 322.07 354.64 C322.73 355.18 323.16 357.36 323.82 360.09 C324.47 362.82 325.27 367.65 326.00 371.00 C326.73 374.35 327.56 378.35 328.18 380.16 C328.80 381.98 329.16 382.71 329.71 381.91 C330.25 381.11 330.87 377.91 331.45 375.36 C332.04 372.82 332.65 368.56 333.20 366.64 C333.75 364.71 334.18 363.62 334.73 363.80 C335.27 363.98 335.82 366.24 336.47 367.73 C337.13 369.22 337.93 371.47 338.65 372.75 C339.38 374.02 340.11 374.38 340.84 375.36 C341.56 376.35 342.40 377.84 343.02 378.64 C343.64 379.44 344.00 380.89 344.55 380.16 C345.09 379.44 345.75 376.53 346.29 374.27 C346.84 372.02 347.38 368.27 347.82 366.64 C348.25 365.00 348.47 363.91 348.91 364.45 C349.35 365.00 349.89 367.18 350.44 369.91 C350.98 372.64 351.60 377.55 352.18 380.82 C352.76 384.09 353.38 387.47 353.93 389.55 C354.47 391.62 354.95 393.44 355.45 393.25 C355.96 393.07 356.44 391.07 356.98 388.45 C357.53 385.84 358.15 380.82 358.73 377.55 C359.31 374.27 359.93 370.45 360.47 368.82 C361.02 367.18 361.45 367.91 362.00 367.73 C362.55 367.55 363.20 369.00 363.75 367.73 C364.29 366.45 364.73 363.36 365.27 360.09 C365.82 356.82 366.47 351.65 367.02 348.09 C367.56 344.53 368.04 340.71 368.55 338.71 C369.05 336.71 369.53 335.44 370.07 336.09 C370.62 336.75 371.24 339.73 371.82 342.64 C372.40 345.55 372.95 350.35 373.56 353.55 C374.18 356.75 374.91 361.47 375.53 361.84 C376.15 362.20 376.73 357.65 377.27 355.73 C377.82 353.80 378.25 350.27 378.80 350.27 C379.35 350.27 379.96 353.00 380.55 355.73 C381.13 358.45 381.64 362.64 382.29 366.64 C382.95 370.64 383.85 376.64 384.47 379.73 C385.09 382.82 385.45 385.36 386.00 385.18 C386.55 385.00 387.20 381.73 387.75 378.64 C388.29 375.55 388.73 370.45 389.27 366.64 C389.82 362.82 390.47 358.35 391.02 355.73 C391.56 353.11 392.11 351.84 392.55 350.93 C392.98 350.02 393.09 350.02 393.64 350.27 C394.18 350.53 394.91 351.62 395.82 352.45 C396.73 353.29 398.07 354.38 399.09 355.29 C400.11 356.20 401.09 358.02 401.93 357.91 C402.76 357.80 403.49 355.55 404.11 354.64 C404.73 353.73 405.13 351.91 405.64 352.45 C406.15 353.00 406.77 355.82 407.16 357.91 C407.56 360.00 407.74 362.61 408.00 365.00 C408.26 367.39 408.42 369.61 408.73 372.27 C409.03 374.94 409.45 378.21 409.82 381.00 C410.18 383.79 410.61 386.82 410.91 389.00 C411.21 391.18 411.39 392.52 411.64 394.09 C411.88 395.67 412.06 397.00 412.36 398.45 C412.67 399.91 413.03 401.51 413.45 402.82 C413.88 404.13 413.82 405.72 414.91 406.30 C416.00 406.88 418.30 406.30 420.00 406.30 C421.70 406.30 424.00 407.12 425.09 406.30 C426.18 405.48 426.12 403.16 426.55 401.36 C426.97 399.57 427.27 397.73 427.64 395.55 C428.00 393.36 428.36 390.33 428.73 388.27 C429.09 386.21 429.45 384.52 429.82 383.18 C430.18 381.85 430.55 380.88 430.91 380.27 C431.27 379.67 431.64 379.61 432.00 379.55 C432.36 379.48 432.73 379.91 433.09 379.91 C433.45 379.91 433.82 380.03 434.18 379.55 C434.55 379.06 434.92 378.97 435.27 377.00 C435.62 375.03 435.87 369.89 436.29 367.73 C436.72 365.56 437.27 363.65 437.82 364.02 C438.36 364.38 438.98 367.47 439.56 369.91 C440.15 372.35 440.80 376.71 441.31 378.64 C441.82 380.56 442.11 382.02 442.62 381.47 C443.13 380.93 443.82 377.11 444.36 375.36 C444.91 373.62 445.35 370.82 445.89 371.00 C446.44 371.18 447.09 373.91 447.64 376.45 C448.18 379.00 448.62 383.00 449.16 386.27 C449.71 389.55 450.25 393.36 450.91 396.09 C451.56 398.82 452.18 401.29 453.09 402.64 C454.00 403.98 455.09 404.16 456.36 404.16 C457.64 404.16 459.64 404.16 460.73 402.64 C461.82 401.11 462.29 397.73 462.91 395.00 C463.53 392.27 463.89 389.55 464.44 386.27 C464.98 383.00 465.60 378.35 466.18 375.36 C466.76 372.38 467.38 369.73 467.93 368.38 C468.47 367.04 468.95 366.85 469.45 367.29 C469.96 367.73 470.44 369.11 470.98 371.00 C471.53 372.89 472.07 376.75 472.73 378.64 C473.38 380.53 474.11 381.44 474.91 382.35 C475.71 383.25 476.62 383.44 477.53 384.09 C478.44 384.75 479.53 385.73 480.36 386.27 C481.20 386.82 481.82 387.55 482.55 387.36 C483.27 387.18 484.00 386.27 484.73 385.18 C485.45 384.09 486.18 382.64 486.91 380.82 C487.64 379.00 488.36 376.64 489.09 374.27 C489.82 371.91 490.55 368.64 491.27 366.64 C492.00 364.64 492.84 363.18 493.45 362.27 C494.07 361.36 494.36 361.18 494.98 361.18 C495.60 361.18 496.33 361.55 497.16 362.27 C498.00 363.00 499.16 364.27 500.00 365.55 C500.84 366.82 501.45 368.45 502.18 369.91 C502.91 371.36 503.71 373.25 504.36 374.27 C505.02 375.29 505.49 376.20 506.11 376.02 C506.73 375.84 507.38 374.20 508.07 373.18 C508.76 372.16 509.60 370.64 510.25 369.91 C510.91 369.18 511.35 368.82 512.00 368.82 C512.65 368.82 513.27 369.36 514.18 369.91 C515.09 370.45 516.36 371.47 517.45 372.09 C518.55 372.71 519.82 373.07 520.73 373.62 C521.64 374.16 522.18 374.42 522.91 375.36 C523.64 376.31 524.29 377.84 525.09 379.29 C525.89 380.75 526.91 382.75 527.71 384.09 C528.51 385.44 529.24 386.64 529.89 387.36 C530.55 388.09 530.98 388.82 531.64 388.45 C532.29 388.09 533.05 386.56 533.82 385.18 C534.58 383.80 535.82 381.00 536.22 380.16 L536.22 407.10 L307.50 407.10 Z" fill="url(#gdr)"/>
<path d="M307.50 386.27 C307.67 386.45 307.93 387.36 308.55 387.36 C309.16 387.36 310.25 387.91 311.16 386.27 C312.07 384.64 312.98 381.18 314.00 377.55 C315.02 373.91 316.29 367.91 317.27 364.45 C318.25 361.00 319.09 358.45 319.89 356.82 C320.69 355.18 321.42 354.09 322.07 354.64 C322.73 355.18 323.16 357.36 323.82 360.09 C324.47 362.82 325.27 367.65 326.00 371.00 C326.73 374.35 327.56 378.35 328.18 380.16 C328.80 381.98 329.16 382.71 329.71 381.91 C330.25 381.11 330.87 377.91 331.45 375.36 C332.04 372.82 332.65 368.56 333.20 366.64 C333.75 364.71 334.18 363.62 334.73 363.80 C335.27 363.98 335.82 366.24 336.47 367.73 C337.13 369.22 337.93 371.47 338.65 372.75 C339.38 374.02 340.11 374.38 340.84 375.36 C341.56 376.35 342.40 377.84 343.02 378.64 C343.64 379.44 344.00 380.89 344.55 380.16 C345.09 379.44 345.75 376.53 346.29 374.27 C346.84 372.02 347.38 368.27 347.82 366.64 C348.25 365.00 348.47 363.91 348.91 364.45 C349.35 365.00 349.89 367.18 350.44 369.91 C350.98 372.64 351.60 377.55 352.18 380.82 C352.76 384.09 353.38 387.47 353.93 389.55 C354.47 391.62 354.95 393.44 355.45 393.25 C355.96 393.07 356.44 391.07 356.98 388.45 C357.53 385.84 358.15 380.82 358.73 377.55 C359.31 374.27 359.93 370.45 360.47 368.82 C361.02 367.18 361.45 367.91 362.00 367.73 C362.55 367.55 363.20 369.00 363.75 367.73 C364.29 366.45 364.73 363.36 365.27 360.09 C365.82 356.82 366.47 351.65 367.02 348.09 C367.56 344.53 368.04 340.71 368.55 338.71 C369.05 336.71 369.53 335.44 370.07 336.09 C370.62 336.75 371.24 339.73 371.82 342.64 C372.40 345.55 372.95 350.35 373.56 353.55 C374.18 356.75 374.91 361.47 375.53 361.84 C376.15 362.20 376.73 357.65 377.27 355.73 C377.82 353.80 378.25 350.27 378.80 350.27 C379.35 350.27 379.96 353.00 380.55 355.73 C381.13 358.45 381.64 362.64 382.29 366.64 C382.95 370.64 383.85 376.64 384.47 379.73 C385.09 382.82 385.45 385.36 386.00 385.18 C386.55 385.00 387.20 381.73 387.75 378.64 C388.29 375.55 388.73 370.45 389.27 366.64 C389.82 362.82 390.47 358.35 391.02 355.73 C391.56 353.11 392.11 351.84 392.55 350.93 C392.98 350.02 393.09 350.02 393.64 350.27 C394.18 350.53 394.91 351.62 395.82 352.45 C396.73 353.29 398.07 354.38 399.09 355.29 C400.11 356.20 401.09 358.02 401.93 357.91 C402.76 357.80 403.49 355.55 404.11 354.64 C404.73 353.73 405.13 351.91 405.64 352.45 C406.15 353.00 406.77 355.82 407.16 357.91 C407.56 360.00 407.74 362.61 408.00 365.00 C408.26 367.39 408.42 369.61 408.73 372.27 C409.03 374.94 409.45 378.21 409.82 381.00 C410.18 383.79 410.61 386.82 410.91 389.00 C411.21 391.18 411.39 392.52 411.64 394.09 C411.88 395.67 412.06 397.00 412.36 398.45 C412.67 399.91 413.03 401.51 413.45 402.82 C413.88 404.13 413.82 405.72 414.91 406.30 C416.00 406.88 418.30 406.30 420.00 406.30 C421.70 406.30 424.00 407.12 425.09 406.30 C426.18 405.48 426.12 403.16 426.55 401.36 C426.97 399.57 427.27 397.73 427.64 395.55 C428.00 393.36 428.36 390.33 428.73 388.27 C429.09 386.21 429.45 384.52 429.82 383.18 C430.18 381.85 430.55 380.88 430.91 380.27 C431.27 379.67 431.64 379.61 432.00 379.55 C432.36 379.48 432.73 379.91 433.09 379.91 C433.45 379.91 433.82 380.03 434.18 379.55 C434.55 379.06 434.92 378.97 435.27 377.00 C435.62 375.03 435.87 369.89 436.29 367.73 C436.72 365.56 437.27 363.65 437.82 364.02 C438.36 364.38 438.98 367.47 439.56 369.91 C440.15 372.35 440.80 376.71 441.31 378.64 C441.82 380.56 442.11 382.02 442.62 381.47 C443.13 380.93 443.82 377.11 444.36 375.36 C444.91 373.62 445.35 370.82 445.89 371.00 C446.44 371.18 447.09 373.91 447.64 376.45 C448.18 379.00 448.62 383.00 449.16 386.27 C449.71 389.55 450.25 393.36 450.91 396.09 C451.56 398.82 452.18 401.29 453.09 402.64 C454.00 403.98 455.09 404.16 456.36 404.16 C457.64 404.16 459.64 404.16 460.73 402.64 C461.82 401.11 462.29 397.73 462.91 395.00 C463.53 392.27 463.89 389.55 464.44 386.27 C464.98 383.00 465.60 378.35 466.18 375.36 C466.76 372.38 467.38 369.73 467.93 368.38 C468.47 367.04 468.95 366.85 469.45 367.29 C469.96 367.73 470.44 369.11 470.98 371.00 C471.53 372.89 472.07 376.75 472.73 378.64 C473.38 380.53 474.11 381.44 474.91 382.35 C475.71 383.25 476.62 383.44 477.53 384.09 C478.44 384.75 479.53 385.73 480.36 386.27 C481.20 386.82 481.82 387.55 482.55 387.36 C483.27 387.18 484.00 386.27 484.73 385.18 C485.45 384.09 486.18 382.64 486.91 380.82 C487.64 379.00 488.36 376.64 489.09 374.27 C489.82 371.91 490.55 368.64 491.27 366.64 C492.00 364.64 492.84 363.18 493.45 362.27 C494.07 361.36 494.36 361.18 494.98 361.18 C495.60 361.18 496.33 361.55 497.16 362.27 C498.00 363.00 499.16 364.27 500.00 365.55 C500.84 366.82 501.45 368.45 502.18 369.91 C502.91 371.36 503.71 373.25 504.36 374.27 C505.02 375.29 505.49 376.20 506.11 376.02 C506.73 375.84 507.38 374.20 508.07 373.18 C508.76 372.16 509.60 370.64 510.25 369.91 C510.91 369.18 511.35 368.82 512.00 368.82 C512.65 368.82 513.27 369.36 514.18 369.91 C515.09 370.45 516.36 371.47 517.45 372.09 C518.55 372.71 519.82 373.07 520.73 373.62 C521.64 374.16 522.18 374.42 522.91 375.36 C523.64 376.31 524.29 377.84 525.09 379.29 C525.89 380.75 526.91 382.75 527.71 384.09 C528.51 385.44 529.24 386.64 529.89 387.36 C530.55 388.09 530.98 388.82 531.64 388.45 C532.29 388.09 533.05 386.56 533.82 385.18 C534.58 383.80 535.82 381.00 536.22 380.16" fill="none" stroke="#ff8a8a" stroke-width="0.6"/>
<linearGradient id="gdb" gradientUnits="userSpaceOnUse" x1="0" y1="385.73" x2="0" y2="405.10"><stop offset="0" stop-color="#1414ff"/><stop offset="0.050" stop-color="#1414ff"/><stop offset="0.129" stop-color="#4545ff"/><stop offset="0.208" stop-color="#6d6dff"/><stop offset="0.287" stop-color="#8d8dff"/><stop offset="0.367" stop-color="#a7a7ff"/><stop offset="0.446" stop-color="#bcbcff"/><stop offset="0.525" stop-color="#cdcdff"/><stop offset="0.604" stop-color="#dadaff"/><stop offset="0.683" stop-color="#e5e5ff"/><stop offset="0.762" stop-color="#eeeeff"/><stop offset="0.842" stop-color="#f5f5ff"/><stop offset="0.921" stop-color="#fafaff"/><stop offset="1.000" stop-color="#ffffff"/></linearGradient>
<path d="M307.50 396.09 C307.60 396.45 307.75 397.18 308.11 398.27 C308.47 399.36 309.02 401.80 309.64 402.64 C310.25 403.47 311.09 403.65 311.82 403.29 C312.55 402.93 313.27 401.47 314.00 400.45 C314.73 399.44 315.56 397.87 316.18 397.18 C316.80 396.49 317.16 396.13 317.71 396.31 C318.25 396.49 318.80 397.33 319.45 398.27 C320.11 399.22 320.91 400.83 321.64 401.98 C322.36 403.14 322.91 404.66 323.82 405.20 C324.73 405.74 323.45 405.20 327.09 405.20 C330.73 405.20 342.00 405.52 345.64 405.20 C349.27 404.88 348.00 404.26 348.91 403.29 C349.82 402.32 350.36 400.45 351.09 399.36 C351.82 398.27 352.73 397.25 353.27 396.75 C353.82 396.24 353.89 396.05 354.36 396.31 C354.84 396.56 355.56 397.69 356.11 398.27 C356.65 398.85 357.02 399.98 357.64 399.80 C358.25 399.62 359.09 398.05 359.82 397.18 C360.55 396.31 361.27 395.22 362.00 394.56 C362.73 393.91 363.56 393.47 364.18 393.25 C364.80 393.04 365.16 392.96 365.71 393.25 C366.25 393.55 366.87 394.53 367.45 395.00 C368.04 395.47 368.55 396.53 369.20 396.09 C369.85 395.65 370.69 393.65 371.38 392.38 C372.07 391.11 372.80 389.22 373.35 388.45 C373.89 387.69 374.18 387.44 374.65 387.80 C375.13 388.16 375.64 389.07 376.18 390.64 C376.73 392.20 377.38 395.55 377.93 397.18 C378.47 398.82 379.02 399.80 379.45 400.45 C379.89 401.11 380.07 401.36 380.55 401.11 C381.02 400.85 381.67 399.58 382.29 398.93 C382.91 398.27 383.64 397.18 384.25 397.18 C384.87 397.18 385.42 398.38 386.00 398.93 C386.58 399.47 387.02 400.56 387.75 400.45 C388.47 400.35 389.38 399.18 390.36 398.27 C391.35 397.36 392.70 395.27 393.64 395.00 C394.58 394.73 395.24 396.67 396.00 396.64 C396.76 396.61 397.45 395.73 398.18 394.82 C398.91 393.91 399.70 392.45 400.36 391.18 C401.03 389.91 401.64 388.09 402.18 387.18 C402.73 386.27 403.15 385.55 403.64 385.73 C404.12 385.91 404.61 386.88 405.09 388.27 C405.58 389.67 406.06 392.39 406.55 394.09 C407.03 395.79 407.58 397.55 408.00 398.45 C408.42 399.36 408.67 399.73 409.09 399.55 C409.52 399.36 410.06 398.09 410.55 397.36 C411.03 396.64 411.52 395.67 412.00 395.18 C412.48 394.70 412.97 394.58 413.45 394.45 C413.94 394.33 414.42 394.52 414.91 394.45 C415.39 394.39 415.88 394.27 416.36 394.09 C416.85 393.91 417.33 393.55 417.82 393.36 C418.30 393.18 418.79 392.94 419.27 393.00 C419.76 393.06 420.24 393.30 420.73 393.73 C421.21 394.15 421.70 394.64 422.18 395.55 C422.67 396.45 423.15 398.03 423.64 399.18 C424.12 400.33 424.61 401.45 425.09 402.45 C425.58 403.46 426.00 404.74 426.55 405.20 C427.09 405.66 426.91 405.20 428.36 405.20 C429.82 405.20 433.70 405.20 435.27 405.20 C436.85 405.20 436.67 405.52 437.82 405.20 C438.97 404.88 441.09 404.19 442.18 403.29 C443.27 402.39 443.64 400.82 444.36 399.80 C445.09 398.78 445.82 397.80 446.55 397.18 C447.27 396.56 448.07 396.64 448.73 396.09 C449.38 395.55 449.93 394.89 450.47 393.91 C451.02 392.93 451.49 391.11 452.00 390.20 C452.51 389.29 452.98 388.20 453.53 388.45 C454.07 388.71 454.73 390.27 455.27 391.73 C455.82 393.18 456.33 395.91 456.80 397.18 C457.27 398.45 457.64 399.55 458.11 399.36 C458.58 399.18 459.09 397.25 459.64 396.09 C460.18 394.93 460.84 393.22 461.38 392.38 C461.93 391.55 462.36 391.00 462.91 391.07 C463.45 391.15 464.04 391.87 464.65 392.82 C465.27 393.76 465.93 395.58 466.62 396.75 C467.31 397.91 467.96 398.93 468.80 399.80 C469.64 400.67 470.62 401.40 471.64 401.98 C472.65 402.56 473.64 403.00 474.91 403.29 C476.18 403.58 477.45 403.73 479.27 403.73 C481.09 403.73 483.82 403.55 485.82 403.29 C487.82 403.04 489.64 402.42 491.27 402.20 C492.91 401.98 494.00 401.87 495.64 401.98 C497.27 402.09 499.09 402.56 501.09 402.85 C503.09 403.15 504.73 403.55 507.64 403.73 C510.55 403.91 513.78 403.70 518.55 403.95 C523.31 404.19 533.27 404.99 536.22 405.20 L536.22 407.10 L307.50 407.10 Z" fill="url(#gdb)"/>
<path d="M307.50 405.10 H536.90" fill="none" stroke="#585858" stroke-width="1"/>
<path d="M307.50 396.09 C307.60 396.45 307.75 397.18 308.11 398.27 C308.47 399.36 309.02 401.80 309.64 402.64 C310.25 403.47 311.09 403.65 311.82 403.29 C312.55 402.93 313.27 401.47 314.00 400.45 C314.73 399.44 315.56 397.87 316.18 397.18 C316.80 396.49 317.16 396.13 317.71 396.31 C318.25 396.49 318.80 397.33 319.45 398.27 C320.11 399.22 320.91 400.83 321.64 401.98 C322.36 403.14 322.91 404.66 323.82 405.20 C324.73 405.74 323.45 405.20 327.09 405.20 C330.73 405.20 342.00 405.52 345.64 405.20 C349.27 404.88 348.00 404.26 348.91 403.29 C349.82 402.32 350.36 400.45 351.09 399.36 C351.82 398.27 352.73 397.25 353.27 396.75 C353.82 396.24 353.89 396.05 354.36 396.31 C354.84 396.56 355.56 397.69 356.11 398.27 C356.65 398.85 357.02 399.98 357.64 399.80 C358.25 399.62 359.09 398.05 359.82 397.18 C360.55 396.31 361.27 395.22 362.00 394.56 C362.73 393.91 363.56 393.47 364.18 393.25 C364.80 393.04 365.16 392.96 365.71 393.25 C366.25 393.55 366.87 394.53 367.45 395.00 C368.04 395.47 368.55 396.53 369.20 396.09 C369.85 395.65 370.69 393.65 371.38 392.38 C372.07 391.11 372.80 389.22 373.35 388.45 C373.89 387.69 374.18 387.44 374.65 387.80 C375.13 388.16 375.64 389.07 376.18 390.64 C376.73 392.20 377.38 395.55 377.93 397.18 C378.47 398.82 379.02 399.80 379.45 400.45 C379.89 401.11 380.07 401.36 380.55 401.11 C381.02 400.85 381.67 399.58 382.29 398.93 C382.91 398.27 383.64 397.18 384.25 397.18 C384.87 397.18 385.42 398.38 386.00 398.93 C386.58 399.47 387.02 400.56 387.75 400.45 C388.47 400.35 389.38 399.18 390.36 398.27 C391.35 397.36 392.70 395.27 393.64 395.00 C394.58 394.73 395.24 396.67 396.00 396.64 C396.76 396.61 397.45 395.73 398.18 394.82 C398.91 393.91 399.70 392.45 400.36 391.18 C401.03 389.91 401.64 388.09 402.18 387.18 C402.73 386.27 403.15 385.55 403.64 385.73 C404.12 385.91 404.61 386.88 405.09 388.27 C405.58 389.67 406.06 392.39 406.55 394.09 C407.03 395.79 407.58 397.55 408.00 398.45 C408.42 399.36 408.67 399.73 409.09 399.55 C409.52 399.36 410.06 398.09 410.55 397.36 C411.03 396.64 411.52 395.67 412.00 395.18 C412.48 394.70 412.97 394.58 413.45 394.45 C413.94 394.33 414.42 394.52 414.91 394.45 C415.39 394.39 415.88 394.27 416.36 394.09 C416.85 393.91 417.33 393.55 417.82 393.36 C418.30 393.18 418.79 392.94 419.27 393.00 C419.76 393.06 420.24 393.30 420.73 393.73 C421.21 394.15 421.70 394.64 422.18 395.55 C422.67 396.45 423.15 398.03 423.64 399.18 C424.12 400.33 424.61 401.45 425.09 402.45 C425.58 403.46 426.00 404.74 426.55 405.20 C427.09 405.66 426.91 405.20 428.36 405.20 C429.82 405.20 433.70 405.20 435.27 405.20 C436.85 405.20 436.67 405.52 437.82 405.20 C438.97 404.88 441.09 404.19 442.18 403.29 C443.27 402.39 443.64 400.82 444.36 399.80 C445.09 398.78 445.82 397.80 446.55 397.18 C447.27 396.56 448.07 396.64 448.73 396.09 C449.38 395.55 449.93 394.89 450.47 393.91 C451.02 392.93 451.49 391.11 452.00 390.20 C452.51 389.29 452.98 388.20 453.53 388.45 C454.07 388.71 454.73 390.27 455.27 391.73 C455.82 393.18 456.33 395.91 456.80 397.18 C457.27 398.45 457.64 399.55 458.11 399.36 C458.58 399.18 459.09 397.25 459.64 396.09 C460.18 394.93 460.84 393.22 461.38 392.38 C461.93 391.55 462.36 391.00 462.91 391.07 C463.45 391.15 464.04 391.87 464.65 392.82 C465.27 393.76 465.93 395.58 466.62 396.75 C467.31 397.91 467.96 398.93 468.80 399.80 C469.64 400.67 470.62 401.40 471.64 401.98 C472.65 402.56 473.64 403.00 474.91 403.29 C476.18 403.58 477.45 403.73 479.27 403.73 C481.09 403.73 483.82 403.55 485.82 403.29 C487.82 403.04 489.64 402.42 491.27 402.20 C492.91 401.98 494.00 401.87 495.64 401.98 C497.27 402.09 499.09 402.56 501.09 402.85 C503.09 403.15 504.73 403.55 507.64 403.73 C510.55 403.91 513.78 403.70 518.55 403.95 C523.31 404.19 533.27 404.99 536.22 405.20" fill="none" stroke="#3a45d4" stroke-width="1.0"/>
</g>
<line x1="421.45" y1="220.70" x2="421.45" y2="405.10" stroke="#222" stroke-width="1.3" stroke-dasharray="5.1 4.3"/>
<path d="M307.50 220.70 H536.40 V405.10" fill="none" stroke="#333" stroke-width="1.3"/>
<path d="M307.50 220.10 V405.70" fill="none" stroke="#111" stroke-width="1.5"/>
<path d="M307.50 405.10h-3.30 M307.50 392.81h-1.80 M307.50 380.51h-3.30 M307.50 368.22h-1.80 M307.50 355.93h-3.30 M307.50 343.63h-1.80 M307.50 331.34h-3.30 M307.50 319.05h-1.80 M307.50 306.75h-3.30 M307.50 294.46h-1.80 M307.50 282.17h-3.30 M307.50 269.87h-1.80 M307.50 257.58h-3.30 M307.50 245.29h-1.80 M307.50 232.99h-3.30 M307.50 405.10v3.30 M336.11 405.10v1.80 M364.73 405.10v3.30 M393.34 405.10v1.80 M421.95 405.10v3.30 M450.56 405.10v1.80 M479.18 405.10v3.30 M507.79 405.10v1.80 M536.40 405.10v3.30" stroke="#1a1a1a" stroke-width="1.1" fill="none"/>
<g font-family="'Liberation Serif', serif" font-weight="bold" font-size="8.7" fill="#0a0a0a" stroke="#0a0a0a" stroke-width="0.25">
<text x="302.80" y="408.05" text-anchor="end">0</text>
<text x="302.80" y="383.46" text-anchor="end">10</text>
<text x="302.80" y="358.88" text-anchor="end">20</text>
<text x="302.80" y="334.29" text-anchor="end">30</text>
<text x="302.80" y="309.70" text-anchor="end">40</text>
<text x="302.80" y="285.12" text-anchor="end">50</text>
<text x="302.80" y="260.53" text-anchor="end">60</text>
<text x="302.80" y="235.94" text-anchor="end">70</text>
<text x="307.20" y="415.90" text-anchor="middle">-10</text>
<text x="364.43" y="415.90" text-anchor="middle">-5</text>
<text x="422.15" y="415.90" text-anchor="middle">0</text>
<text x="479.38" y="415.90" text-anchor="middle">5</text>
<text x="536.60" y="415.90" text-anchor="middle">10</text>
<text x="424.25" y="424.90" text-anchor="middle" font-size="9.6">Energy(eV)</text>
<text transform="translate(289.40 309.40) rotate(-90)" text-anchor="middle" font-size="9.4">Density of states</text>
<text x="276.10" y="227.90" font-size="9.0">(d)</text>
</g>
<g font-family="'Liberation Serif', serif" font-size="9.8" fill="#111" stroke="#111" stroke-width="0.12">
<linearGradient id="lgdt" x1="0" y1="0" x2="0" y2="1"><stop offset="0" stop-color="#00f8f8"/><stop offset="0.12" stop-color="#00f8f8"/><stop offset="0.8" stop-color="#fff"/></linearGradient>
<rect x="367.60" y="223.00" width="19.2" height="8.9" fill="url(#lgdt)" stroke="#b8b8b8" stroke-width="0.5"/>
<text x="391.80" y="230.70">Total</text>
<linearGradient id="lgdr" x1="0" y1="0" x2="0" y2="1"><stop offset="0" stop-color="#ff1c1c"/><stop offset="0.12" stop-color="#ff1c1c"/><stop offset="0.8" stop-color="#fff"/></linearGradient>
<rect x="367.60" y="234.60" width="19.2" height="8.9" fill="url(#lgdr)" stroke="#b8b8b8" stroke-width="0.5"/>
<text x="391.80" y="242.30">g-C<tspan dy="2.4" font-size="6.8">3</tspan><tspan dy="-2.4">N</tspan><tspan dy="2.4" font-size="6.8">4</tspan></text>
<linearGradient id="lgdb" x1="0" y1="0" x2="0" y2="1"><stop offset="0" stop-color="#1414ff"/><stop offset="0.12" stop-color="#1414ff"/><stop offset="0.8" stop-color="#fff"/></linearGradient>
<rect x="367.60" y="248.60" width="19.2" height="8.9" fill="url(#lgdb)" stroke="#b8b8b8" stroke-width="0.5"/>
<text x="391.80" y="256.30">Li<tspan dy="2.4" font-size="6.8">2</tspan><tspan dy="-2.4">S</tspan><tspan dy="2.4" font-size="6.8">6</tspan></text>
</g>
</g>
<g>
<clipPath id="cle"><rect x="39.80" y="434.50" width="229.40" height="185.05"/></clipPath>
<g clip-path="url(#cle)">
<linearGradient id="get" gradientUnits="userSpaceOnUse" x1="0" y1="435.27" x2="0" y2="618.90"><stop offset="0" stop-color="#00f8f8"/><stop offset="0.250" stop-color="#00f8f8"/><stop offset="0.312" stop-color="#3bfafa"/><stop offset="0.375" stop-color="#6afbfb"/><stop offset="0.438" stop-color="#8efcfc"/><stop offset="0.500" stop-color="#aafdfd"/><stop offset="0.562" stop-color="#bffdfd"/><stop offset="0.625" stop-color="#d0fefe"/><stop offset="0.688" stop-color="#defefe"/><stop offset="0.750" stop-color="#e8fefe"/><stop offset="0.812" stop-color="#f0ffff"/><stop offset="0.875" stop-color="#f6ffff"/><stop offset="0.938" stop-color="#fbffff"/><stop offset="1.000" stop-color="#ffffff"/></linearGradient>
<path d="M39.80 599.18 C40.08 598.45 40.82 597.18 41.45 594.82 C42.09 592.45 42.91 588.45 43.64 585.00 C44.36 581.55 45.09 577.18 45.82 574.09 C46.55 571.00 47.27 568.45 48.00 566.45 C48.73 564.45 49.56 563.07 50.18 562.09 C50.80 561.11 51.16 560.20 51.71 560.56 C52.25 560.93 52.80 561.65 53.45 564.27 C54.11 566.89 54.91 572.09 55.64 576.27 C56.36 580.45 57.16 586.27 57.82 589.36 C58.47 592.45 59.02 594.89 59.56 594.82 C60.11 594.75 60.55 591.36 61.09 588.93 C61.64 586.49 62.29 582.38 62.84 580.20 C63.38 578.02 63.93 576.67 64.36 575.84 C64.80 575.00 64.98 574.45 65.45 575.18 C65.93 575.91 66.55 578.27 67.20 580.20 C67.85 582.13 68.65 584.75 69.38 586.75 C70.11 588.75 70.87 590.56 71.56 592.20 C72.25 593.84 72.98 595.58 73.53 596.56 C74.07 597.55 74.36 598.93 74.84 598.09 C75.31 597.25 75.85 594.45 76.36 591.55 C76.87 588.64 77.42 583.47 77.89 580.64 C78.36 577.80 78.73 574.89 79.20 574.53 C79.67 574.16 80.22 575.98 80.73 578.45 C81.24 580.93 81.71 586.64 82.25 589.36 C82.80 592.09 83.45 593.65 84.00 594.82 C84.55 595.98 84.98 596.71 85.53 596.35 C86.07 595.98 86.69 594.89 87.27 592.64 C87.85 590.38 88.40 586.27 89.02 582.82 C89.64 579.36 90.36 574.82 90.98 571.91 C91.60 569.00 92.07 567.00 92.73 565.36 C93.38 563.73 94.25 563.55 94.91 562.09 C95.56 560.64 96.11 559.00 96.65 556.64 C97.20 554.27 97.67 550.27 98.18 547.91 C98.69 545.55 99.24 543.73 99.71 542.45 C100.18 541.18 100.55 540.09 101.02 540.27 C101.49 540.45 102.04 541.91 102.55 543.55 C103.05 545.18 103.53 548.45 104.07 550.09 C104.62 551.73 105.24 553.07 105.82 553.36 C106.40 553.65 107.09 552.20 107.56 551.84 C108.04 551.47 108.22 550.38 108.65 551.18 C109.09 551.98 109.64 553.55 110.18 556.64 C110.73 559.73 111.35 565.00 111.93 569.73 C112.51 574.45 113.13 580.82 113.67 585.00 C114.22 589.18 114.76 592.93 115.20 594.82 C115.64 596.71 115.85 597.44 116.29 596.35 C116.73 595.25 117.31 592.71 117.82 588.27 C118.33 583.84 118.87 575.18 119.35 569.73 C119.82 564.27 120.18 558.89 120.65 555.55 C121.13 552.20 121.67 550.02 122.18 549.65 C122.69 549.29 123.16 552.02 123.71 553.36 C124.25 554.71 124.87 556.82 125.45 557.73 C126.04 558.64 126.65 559.18 127.20 558.82 C127.75 558.45 128.18 557.00 128.73 555.55 C129.27 554.09 129.93 551.65 130.47 550.09 C131.02 548.53 131.56 546.96 132.00 546.16 C132.44 545.36 132.65 544.82 133.09 545.29 C133.53 545.76 134.07 547.11 134.62 549.00 C135.16 550.89 135.68 551.64 136.36 556.64 C137.05 561.64 138.21 574.30 138.73 579.00 C139.24 583.70 139.15 582.64 139.45 584.82 C139.76 587.00 140.18 589.91 140.55 592.09 C140.91 594.27 141.31 596.39 141.64 597.91 C141.96 599.42 142.24 600.36 142.51 601.18 C142.78 602.01 142.96 602.43 143.24 602.85 C143.52 603.28 143.84 603.16 144.18 603.73 C144.52 604.30 144.91 605.36 145.27 606.27 C145.64 607.18 146.00 608.33 146.36 609.18 C146.73 610.03 147.09 610.84 147.45 611.36 C147.82 611.88 148.18 612.47 148.55 612.31 C148.91 612.15 149.27 611.36 149.64 610.42 C150.00 609.47 150.36 607.87 150.73 606.64 C151.09 605.40 151.49 603.91 151.82 603.00 C152.15 602.09 152.42 601.61 152.69 601.18 C152.96 600.76 153.14 600.39 153.42 600.45 C153.70 600.52 154.02 601.00 154.36 601.55 C154.70 602.09 155.09 603.18 155.45 603.73 C155.82 604.27 156.18 604.94 156.55 604.82 C156.91 604.70 157.27 603.91 157.64 603.00 C158.00 602.09 158.36 600.64 158.73 599.36 C159.09 598.09 159.45 596.39 159.82 595.36 C160.18 594.33 160.55 593.63 160.91 593.18 C161.27 592.73 161.64 592.67 162.00 592.67 C162.36 592.67 162.73 593.16 163.09 593.18 C163.45 593.21 163.82 593.36 164.18 592.82 C164.55 592.27 164.91 591.12 165.27 589.91 C165.64 588.70 166.11 587.45 166.36 585.55 C166.62 583.64 166.51 579.82 166.80 578.45 C167.09 577.09 167.64 576.64 168.11 577.36 C168.58 578.09 169.13 580.45 169.64 582.82 C170.15 585.18 170.69 589.55 171.16 591.55 C171.64 593.55 172.07 595.00 172.47 594.82 C172.87 594.64 173.16 593.18 173.56 590.45 C173.96 587.73 174.44 581.91 174.87 578.45 C175.31 575.00 175.82 571.44 176.18 569.73 C176.55 568.02 176.69 567.47 177.05 568.20 C177.42 568.93 177.89 570.20 178.36 574.09 C178.84 577.98 179.35 586.45 179.89 591.55 C180.44 596.64 181.16 601.91 181.64 604.64 C182.11 607.36 182.18 608.27 182.73 607.91 C183.27 607.55 184.18 604.02 184.91 602.45 C185.64 600.89 186.36 599.33 187.09 598.53 C187.82 597.73 188.55 598.02 189.27 597.65 C190.00 597.29 190.80 597.07 191.45 596.35 C192.11 595.62 192.65 595.18 193.20 593.29 C193.75 591.40 194.22 588.93 194.73 585.00 C195.24 581.07 195.75 574.27 196.25 569.73 C196.76 565.18 197.31 560.53 197.78 557.73 C198.25 554.93 198.76 553.84 199.09 552.93 C199.42 552.02 199.38 551.65 199.75 552.27 C200.11 552.89 200.76 554.82 201.27 556.64 C201.78 558.45 202.33 561.80 202.80 563.18 C203.27 564.56 203.56 564.93 204.11 564.93 C204.65 564.93 205.45 564.20 206.07 563.18 C206.69 562.16 207.24 560.64 207.82 558.82 C208.40 557.00 209.02 554.45 209.56 552.27 C210.11 550.09 210.40 547.95 211.09 545.73 C211.78 543.50 212.98 541.14 213.71 538.91 C214.44 536.68 214.87 534.91 215.45 532.36 C216.04 529.82 216.62 526.91 217.20 523.64 C217.78 520.36 218.36 516.73 218.95 512.73 C219.53 508.73 220.11 504.00 220.69 499.64 C221.27 495.27 221.85 490.25 222.44 486.55 C223.02 482.84 223.60 479.56 224.18 477.38 C224.76 475.20 225.31 474.29 225.93 473.45 C226.55 472.62 227.27 472.36 227.89 472.36 C228.51 472.36 228.98 472.73 229.64 473.45 C230.29 474.18 231.09 475.45 231.82 476.73 C232.55 478.00 233.45 480.18 234.00 481.09 C234.55 482.00 234.62 482.55 235.09 482.18 C235.56 481.82 236.18 480.73 236.84 478.91 C237.49 477.09 238.29 474.00 239.02 471.27 C239.75 468.55 240.47 465.27 241.20 462.55 C241.93 459.82 242.65 457.16 243.38 454.91 C244.11 452.65 244.84 450.65 245.56 449.02 C246.29 447.38 247.05 446.00 247.75 445.09 C248.44 444.18 249.09 443.56 249.71 443.56 C250.33 443.56 250.80 443.93 251.45 445.09 C252.11 446.25 252.91 448.65 253.64 450.55 C254.36 452.44 255.16 454.87 255.82 456.44 C256.47 458.00 257.13 459.27 257.56 459.93 C258.00 460.58 258.00 460.65 258.44 460.36 C258.87 460.07 259.53 459.45 260.18 458.18 C260.84 456.91 261.64 454.55 262.36 452.73 C263.09 450.91 263.82 449.09 264.55 447.27 C265.27 445.45 266.03 443.45 266.73 441.82 C267.42 440.18 268.37 438.55 268.70 437.45 C269.03 436.36 268.70 435.64 268.70 435.27 L268.70 620.90 L39.80 620.90 Z" fill="url(#get)"/>
<path d="M39.80 599.18 C40.08 598.45 40.82 597.18 41.45 594.82 C42.09 592.45 42.91 588.45 43.64 585.00 C44.36 581.55 45.09 577.18 45.82 574.09 C46.55 571.00 47.27 568.45 48.00 566.45 C48.73 564.45 49.56 563.07 50.18 562.09 C50.80 561.11 51.16 560.20 51.71 560.56 C52.25 560.93 52.80 561.65 53.45 564.27 C54.11 566.89 54.91 572.09 55.64 576.27 C56.36 580.45 57.16 586.27 57.82 589.36 C58.47 592.45 59.02 594.89 59.56 594.82 C60.11 594.75 60.55 591.36 61.09 588.93 C61.64 586.49 62.29 582.38 62.84 580.20 C63.38 578.02 63.93 576.67 64.36 575.84 C64.80 575.00 64.98 574.45 65.45 575.18 C65.93 575.91 66.55 578.27 67.20 580.20 C67.85 582.13 68.65 584.75 69.38 586.75 C70.11 588.75 70.87 590.56 71.56 592.20 C72.25 593.84 72.98 595.58 73.53 596.56 C74.07 597.55 74.36 598.93 74.84 598.09 C75.31 597.25 75.85 594.45 76.36 591.55 C76.87 588.64 77.42 583.47 77.89 580.64 C78.36 577.80 78.73 574.89 79.20 574.53 C79.67 574.16 80.22 575.98 80.73 578.45 C81.24 580.93 81.71 586.64 82.25 589.36 C82.80 592.09 83.45 593.65 84.00 594.82 C84.55 595.98 84.98 596.71 85.53 596.35 C86.07 595.98 86.69 594.89 87.27 592.64 C87.85 590.38 88.40 586.27 89.02 582.82 C89.64 579.36 90.36 574.82 90.98 571.91 C91.60 569.00 92.07 567.00 92.73 565.36 C93.38 563.73 94.25 563.55 94.91 562.09 C95.56 560.64 96.11 559.00 96.65 556.64 C97.20 554.27 97.67 550.27 98.18 547.91 C98.69 545.55 99.24 543.73 99.71 542.45 C100.18 541.18 100.55 540.09 101.02 540.27 C101.49 540.45 102.04 541.91 102.55 543.55 C103.05 545.18 103.53 548.45 104.07 550.09 C104.62 551.73 105.24 553.07 105.82 553.36 C106.40 553.65 107.09 552.20 107.56 551.84 C108.04 551.47 108.22 550.38 108.65 551.18 C109.09 551.98 109.64 553.55 110.18 556.64 C110.73 559.73 111.35 565.00 111.93 569.73 C112.51 574.45 113.13 580.82 113.67 585.00 C114.22 589.18 114.76 592.93 115.20 594.82 C115.64 596.71 115.85 597.44 116.29 596.35 C116.73 595.25 117.31 592.71 117.82 588.27 C118.33 583.84 118.87 575.18 119.35 569.73 C119.82 564.27 120.18 558.89 120.65 555.55 C121.13 552.20 121.67 550.02 122.18 549.65 C122.69 549.29 123.16 552.02 123.71 553.36 C124.25 554.71 124.87 556.82 125.45 557.73 C126.04 558.64 126.65 559.18 127.20 558.82 C127.75 558.45 128.18 557.00 128.73 555.55 C129.27 554.09 129.93 551.65 130.47 550.09 C131.02 548.53 131.56 546.96 132.00 546.16 C132.44 545.36 132.65 544.82 133.09 545.29 C133.53 545.76 134.07 547.11 134.62 549.00 C135.16 550.89 135.68 551.64 136.36 556.64 C137.05 561.64 138.21 574.30 138.73 579.00 C139.24 583.70 139.15 582.64 139.45 584.82 C139.76 587.00 140.18 589.91 140.55 592.09 C140.91 594.27 141.31 596.39 141.64 597.91 C141.96 599.42 142.24 600.36 142.51 601.18 C142.78 602.01 142.96 602.43 143.24 602.85 C143.52 603.28 143.84 603.16 144.18 603.73 C144.52 604.30 144.91 605.36 145.27 606.27 C145.64 607.18 146.00 608.33 146.36 609.18 C146.73 610.03 147.09 610.84 147.45 611.36 C147.82 611.88 148.18 612.47 148.55 612.31 C148.91 612.15 149.27 611.36 149.64 610.42 C150.00 609.47 150.36 607.87 150.73 606.64 C151.09 605.40 151.49 603.91 151.82 603.00 C152.15 602.09 152.42 601.61 152.69 601.18 C152.96 600.76 153.14 600.39 153.42 600.45 C153.70 600.52 154.02 601.00 154.36 601.55 C154.70 602.09 155.09 603.18 155.45 603.73 C155.82 604.27 156.18 604.94 156.55 604.82 C156.91 604.70 157.27 603.91 157.64 603.00 C158.00 602.09 158.36 600.64 158.73 599.36 C159.09 598.09 159.45 596.39 159.82 595.36 C160.18 594.33 160.55 593.63 160.91 593.18 C161.27 592.73 161.64 592.67 162.00 592.67 C162.36 592.67 162.73 593.16 163.09 593.18 C163.45 593.21 163.82 593.36 164.18 592.82 C164.55 592.27 164.91 591.12 165.27 589.91 C165.64 588.70 166.11 587.45 166.36 585.55 C166.62 583.64 166.51 579.82 166.80 578.45 C167.09 577.09 167.64 576.64 168.11 577.36 C168.58 578.09 169.13 580.45 169.64 582.82 C170.15 585.18 170.69 589.55 171.16 591.55 C171.64 593.55 172.07 595.00 172.47 594.82 C172.87 594.64 173.16 593.18 173.56 590.45 C173.96 587.73 174.44 581.91 174.87 578.45 C175.31 575.00 175.82 571.44 176.18 569.73 C176.55 568.02 176.69 567.47 177.05 568.20 C177.42 568.93 177.89 570.20 178.36 574.09 C178.84 577.98 179.35 586.45 179.89 591.55 C180.44 596.64 181.16 601.91 181.64 604.64 C182.11 607.36 182.18 608.27 182.73 607.91 C183.27 607.55 184.18 604.02 184.91 602.45 C185.64 600.89 186.36 599.33 187.09 598.53 C187.82 597.73 188.55 598.02 189.27 597.65 C190.00 597.29 190.80 597.07 191.45 596.35 C192.11 595.62 192.65 595.18 193.20 593.29 C193.75 591.40 194.22 588.93 194.73 585.00 C195.24 581.07 195.75 574.27 196.25 569.73 C196.76 565.18 197.31 560.53 197.78 557.73 C198.25 554.93 198.76 553.84 199.09 552.93 C199.42 552.02 199.38 551.65 199.75 552.27 C200.11 552.89 200.76 554.82 201.27 556.64 C201.78 558.45 202.33 561.80 202.80 563.18 C203.27 564.56 203.56 564.93 204.11 564.93 C204.65 564.93 205.45 564.20 206.07 563.18 C206.69 562.16 207.24 560.64 207.82 558.82 C208.40 557.00 209.02 554.45 209.56 552.27 C210.11 550.09 210.40 547.95 211.09 545.73 C211.78 543.50 212.98 541.14 213.71 538.91 C214.44 536.68 214.87 534.91 215.45 532.36 C216.04 529.82 216.62 526.91 217.20 523.64 C217.78 520.36 218.36 516.73 218.95 512.73 C219.53 508.73 220.11 504.00 220.69 499.64 C221.27 495.27 221.85 490.25 222.44 486.55 C223.02 482.84 223.60 479.56 224.18 477.38 C224.76 475.20 225.31 474.29 225.93 473.45 C226.55 472.62 227.27 472.36 227.89 472.36 C228.51 472.36 228.98 472.73 229.64 473.45 C230.29 474.18 231.09 475.45 231.82 476.73 C232.55 478.00 233.45 480.18 234.00 481.09 C234.55 482.00 234.62 482.55 235.09 482.18 C235.56 481.82 236.18 480.73 236.84 478.91 C237.49 477.09 238.29 474.00 239.02 471.27 C239.75 468.55 240.47 465.27 241.20 462.55 C241.93 459.82 242.65 457.16 243.38 454.91 C244.11 452.65 244.84 450.65 245.56 449.02 C246.29 447.38 247.05 446.00 247.75 445.09 C248.44 444.18 249.09 443.56 249.71 443.56 C250.33 443.56 250.80 443.93 251.45 445.09 C252.11 446.25 252.91 448.65 253.64 450.55 C254.36 452.44 255.16 454.87 255.82 456.44 C256.47 458.00 257.13 459.27 257.56 459.93 C258.00 460.58 258.00 460.65 258.44 460.36 C258.87 460.07 259.53 459.45 260.18 458.18 C260.84 456.91 261.64 454.55 262.36 452.73 C263.09 450.91 263.82 449.09 264.55 447.27 C265.27 445.45 266.03 443.45 266.73 441.82 C267.42 440.18 268.37 438.55 268.70 437.45 C269.03 436.36 268.70 435.64 268.70 435.27" fill="none" stroke="#1fe9e9" stroke-width="0.9"/>
<linearGradient id="ger" gradientUnits="userSpaceOnUse" x1="0" y1="555.11" x2="0" y2="618.90"><stop offset="0" stop-color="#ff1c1c"/><stop offset="0.060" stop-color="#ff1c1c"/><stop offset="0.138" stop-color="#ff4747"/><stop offset="0.217" stop-color="#ff6a6a"/><stop offset="0.295" stop-color="#ff8888"/><stop offset="0.373" stop-color="#ffa1a1"/><stop offset="0.452" stop-color="#ffb5b5"/><stop offset="0.530" stop-color="#ffc6c6"/><stop offset="0.608" stop-color="#ffd5d5"/><stop offset="0.687" stop-color="#ffe0e0"/><stop offset="0.765" stop-color="#ffeaea"/><stop offset="0.843" stop-color="#fff2f2"/><stop offset="0.922" stop-color="#fff9f9"/><stop offset="1.000" stop-color="#ffffff"/></linearGradient>
<path d="M39.80 601.80 C40.26 600.45 41.65 596.71 42.55 593.73 C43.44 590.75 44.25 586.82 45.16 583.91 C46.07 581.00 47.16 578.27 48.00 576.27 C48.84 574.27 49.53 572.93 50.18 571.91 C50.84 570.89 51.31 569.62 51.93 570.16 C52.55 570.71 53.20 572.53 53.89 575.18 C54.58 577.84 55.35 582.93 56.07 586.09 C56.80 589.25 57.67 592.60 58.25 594.16 C58.84 595.73 59.09 596.27 59.56 595.47 C60.04 594.67 60.55 591.84 61.09 589.36 C61.64 586.89 62.29 582.82 62.84 580.64 C63.38 578.45 63.93 577.11 64.36 576.27 C64.80 575.44 64.98 574.89 65.45 575.62 C65.93 576.35 66.55 578.71 67.20 580.64 C67.85 582.56 68.65 585.18 69.38 587.18 C70.11 589.18 70.87 591.00 71.56 592.64 C72.25 594.27 72.98 596.02 73.53 597.00 C74.07 597.98 74.36 599.25 74.84 598.53 C75.31 597.80 75.85 595.25 76.36 592.64 C76.87 590.02 77.42 585.25 77.89 582.82 C78.36 580.38 78.73 577.84 79.20 578.02 C79.67 578.20 80.22 580.75 80.73 583.91 C81.24 587.07 81.71 593.73 82.25 597.00 C82.80 600.27 83.45 602.09 84.00 603.55 C84.55 605.00 84.98 606.27 85.53 605.73 C86.07 605.18 86.69 603.00 87.27 600.27 C87.85 597.55 88.40 592.82 89.02 589.36 C89.64 585.91 90.36 581.80 90.98 579.55 C91.60 577.29 92.07 576.56 92.73 575.84 C93.38 575.11 94.25 576.20 94.91 575.18 C95.56 574.16 96.11 572.09 96.65 569.73 C97.20 567.36 97.67 563.25 98.18 561.00 C98.69 558.75 99.27 557.18 99.71 556.20 C100.15 555.22 100.33 554.31 100.80 555.11 C101.27 555.91 102.00 558.56 102.55 561.00 C103.09 563.44 103.60 567.73 104.07 569.73 C104.55 571.73 104.91 573.18 105.38 573.00 C105.85 572.82 106.40 570.09 106.91 568.64 C107.42 567.18 108.00 565.11 108.44 564.27 C108.87 563.44 109.05 562.71 109.53 563.62 C110.00 564.53 110.73 566.89 111.27 569.73 C111.82 572.56 112.25 576.82 112.80 580.64 C113.35 584.45 114.00 589.91 114.55 592.64 C115.09 595.36 115.53 597.55 116.07 597.00 C116.62 596.45 117.24 593.18 117.82 589.36 C118.40 585.55 119.02 578.09 119.56 574.09 C120.11 570.09 120.58 567.11 121.09 565.36 C121.60 563.62 122.07 563.44 122.62 563.62 C123.16 563.80 123.71 565.44 124.36 566.45 C125.02 567.47 125.82 568.89 126.55 569.73 C127.27 570.56 128.00 571.55 128.73 571.47 C129.45 571.40 130.18 569.95 130.91 569.29 C131.64 568.64 132.36 567.47 133.09 567.55 C133.82 567.62 134.62 568.45 135.27 569.73 C135.93 571.00 136.56 573.64 137.02 575.18 C137.47 576.73 137.72 577.39 138.00 579.00 C138.28 580.61 138.42 582.39 138.73 584.82 C139.03 587.24 139.48 590.88 139.82 593.55 C140.16 596.21 140.46 598.64 140.76 600.82 C141.07 603.00 141.35 604.82 141.64 606.64 C141.93 608.45 142.21 610.15 142.51 611.73 C142.81 613.30 143.12 614.70 143.45 616.09 C143.79 617.49 142.79 619.43 144.55 620.10 C146.30 620.77 152.24 621.13 154.00 620.10 C155.76 619.07 154.79 615.67 155.09 613.91 C155.39 612.15 155.45 611.12 155.82 609.55 C156.18 607.97 156.79 606.03 157.27 604.45 C157.76 602.88 158.30 601.42 158.73 600.09 C159.15 598.76 159.45 597.42 159.82 596.45 C160.18 595.48 160.48 594.76 160.91 594.27 C161.33 593.79 161.88 593.67 162.36 593.55 C162.85 593.42 163.39 593.91 163.82 593.55 C164.24 593.18 164.55 592.45 164.91 591.36 C165.27 590.27 165.64 588.45 166.00 587.00 C166.36 585.55 166.92 583.88 167.09 582.64 C167.26 581.39 166.81 580.24 167.02 579.55 C167.22 578.85 167.89 577.73 168.33 578.45 C168.76 579.18 169.16 581.55 169.64 583.91 C170.11 586.27 170.69 590.64 171.16 592.64 C171.64 594.64 172.00 596.09 172.47 595.91 C172.95 595.73 173.49 593.18 174.00 591.55 C174.51 589.91 175.09 587.18 175.53 586.09 C175.96 585.00 176.22 584.27 176.62 585.00 C177.02 585.73 177.45 587.73 177.93 590.45 C178.40 593.18 178.95 598.09 179.45 601.36 C179.96 604.64 180.44 607.65 180.98 610.09 C181.53 612.53 182.07 614.31 182.73 615.98 C183.38 617.65 183.45 619.41 184.91 620.10 C186.36 620.79 190.00 621.40 191.45 620.10 C192.91 618.80 193.09 614.85 193.64 612.27 C194.18 609.70 194.36 607.36 194.73 604.64 C195.09 601.91 195.38 599.00 195.82 595.91 C196.25 592.82 196.80 588.45 197.35 586.09 C197.89 583.73 198.51 581.73 199.09 581.73 C199.67 581.73 200.22 584.16 200.84 586.09 C201.45 588.02 202.11 591.47 202.80 593.29 C203.49 595.11 204.15 596.09 204.98 597.00 C205.82 597.91 206.80 598.20 207.82 598.75 C208.84 599.29 210.18 600.02 211.09 600.27 C212.00 600.53 212.55 600.64 213.27 600.27 C214.00 599.91 214.65 599.36 215.45 598.09 C216.25 596.82 217.27 594.82 218.07 592.64 C218.87 590.45 219.53 587.55 220.25 585.00 C220.98 582.45 221.71 579.36 222.44 577.36 C223.16 575.36 224.04 573.84 224.62 573.00 C225.20 572.16 225.35 571.98 225.93 572.35 C226.51 572.71 227.31 573.80 228.11 575.18 C228.91 576.56 229.82 578.82 230.73 580.64 C231.64 582.45 232.65 584.64 233.56 586.09 C234.47 587.55 235.38 589.36 236.18 589.36 C236.98 589.36 237.64 587.18 238.36 586.09 C239.09 585.00 239.93 583.55 240.55 582.82 C241.16 582.09 241.35 581.65 242.07 581.73 C242.80 581.80 243.89 582.78 244.91 583.25 C245.93 583.73 247.27 584.20 248.18 584.56 C249.09 584.93 249.64 584.82 250.36 585.44 C251.09 586.05 251.82 586.89 252.55 588.27 C253.27 589.65 254.00 592.09 254.73 593.73 C255.45 595.36 256.18 596.82 256.91 598.09 C257.64 599.36 258.55 600.75 259.09 601.36 C259.64 601.98 259.64 602.16 260.18 601.80 C260.73 601.44 261.64 600.16 262.36 599.18 C263.09 598.20 263.82 597.00 264.55 595.91 C265.27 594.82 266.03 593.80 266.73 592.64 C267.42 591.47 268.37 589.55 268.70 588.93 L268.70 620.90 L39.80 620.90 Z" fill="url(#ger)"/>
<path d="M39.80 601.80 C40.26 600.45 41.65 596.71 42.55 593.73 C43.44 590.75 44.25 586.82 45.16 583.91 C46.07 581.00 47.16 578.27 48.00 576.27 C48.84 574.27 49.53 572.93 50.18 571.91 C50.84 570.89 51.31 569.62 51.93 570.16 C52.55 570.71 53.20 572.53 53.89 575.18 C54.58 577.84 55.35 582.93 56.07 586.09 C56.80 589.25 57.67 592.60 58.25 594.16 C58.84 595.73 59.09 596.27 59.56 595.47 C60.04 594.67 60.55 591.84 61.09 589.36 C61.64 586.89 62.29 582.82 62.84 580.64 C63.38 578.45 63.93 577.11 64.36 576.27 C64.80 575.44 64.98 574.89 65.45 575.62 C65.93 576.35 66.55 578.71 67.20 580.64 C67.85 582.56 68.65 585.18 69.38 587.18 C70.11 589.18 70.87 591.00 71.56 592.64 C72.25 594.27 72.98 596.02 73.53 597.00 C74.07 597.98 74.36 599.25 74.84 598.53 C75.31 597.80 75.85 595.25 76.36 592.64 C76.87 590.02 77.42 585.25 77.89 582.82 C78.36 580.38 78.73 577.84 79.20 578.02 C79.67 578.20 80.22 580.75 80.73 583.91 C81.24 587.07 81.71 593.73 82.25 597.00 C82.80 600.27 83.45 602.09 84.00 603.55 C84.55 605.00 84.98 606.27 85.53 605.73 C86.07 605.18 86.69 603.00 87.27 600.27 C87.85 597.55 88.40 592.82 89.02 589.36 C89.64 585.91 90.36 581.80 90.98 579.55 C91.60 577.29 92.07 576.56 92.73 575.84 C93.38 575.11 94.25 576.20 94.91 575.18 C95.56 574.16 96.11 572.09 96.65 569.73 C97.20 567.36 97.67 563.25 98.18 561.00 C98.69 558.75 99.27 557.18 99.71 556.20 C100.15 555.22 100.33 554.31 100.80 555.11 C101.27 555.91 102.00 558.56 102.55 561.00 C103.09 563.44 103.60 567.73 104.07 569.73 C104.55 571.73 104.91 573.18 105.38 573.00 C105.85 572.82 106.40 570.09 106.91 568.64 C107.42 567.18 108.00 565.11 108.44 564.27 C108.87 563.44 109.05 562.71 109.53 563.62 C110.00 564.53 110.73 566.89 111.27 569.73 C111.82 572.56 112.25 576.82 112.80 580.64 C113.35 584.45 114.00 589.91 114.55 592.64 C115.09 595.36 115.53 597.55 116.07 597.00 C116.62 596.45 117.24 593.18 117.82 589.36 C118.40 585.55 119.02 578.09 119.56 574.09 C120.11 570.09 120.58 567.11 121.09 565.36 C121.60 563.62 122.07 563.44 122.62 563.62 C123.16 563.80 123.71 565.44 124.36 566.45 C125.02 567.47 125.82 568.89 126.55 569.73 C127.27 570.56 128.00 571.55 128.73 571.47 C129.45 571.40 130.18 569.95 130.91 569.29 C131.64 568.64 132.36 567.47 133.09 567.55 C133.82 567.62 134.62 568.45 135.27 569.73 C135.93 571.00 136.56 573.64 137.02 575.18 C137.47 576.73 137.72 577.39 138.00 579.00 C138.28 580.61 138.42 582.39 138.73 584.82 C139.03 587.24 139.48 590.88 139.82 593.55 C140.16 596.21 140.46 598.64 140.76 600.82 C141.07 603.00 141.35 604.82 141.64 606.64 C141.93 608.45 142.21 610.15 142.51 611.73 C142.81 613.30 143.12 614.70 143.45 616.09 C143.79 617.49 142.79 619.43 144.55 620.10 C146.30 620.77 152.24 621.13 154.00 620.10 C155.76 619.07 154.79 615.67 155.09 613.91 C155.39 612.15 155.45 611.12 155.82 609.55 C156.18 607.97 156.79 606.03 157.27 604.45 C157.76 602.88 158.30 601.42 158.73 600.09 C159.15 598.76 159.45 597.42 159.82 596.45 C160.18 595.48 160.48 594.76 160.91 594.27 C161.33 593.79 161.88 593.67 162.36 593.55 C162.85 593.42 163.39 593.91 163.82 593.55 C164.24 593.18 164.55 592.45 164.91 591.36 C165.27 590.27 165.64 588.45 166.00 587.00 C166.36 585.55 166.92 583.88 167.09 582.64 C167.26 581.39 166.81 580.24 167.02 579.55 C167.22 578.85 167.89 577.73 168.33 578.45 C168.76 579.18 169.16 581.55 169.64 583.91 C170.11 586.27 170.69 590.64 171.16 592.64 C171.64 594.64 172.00 596.09 172.47 595.91 C172.95 595.73 173.49 593.18 174.00 591.55 C174.51 589.91 175.09 587.18 175.53 586.09 C175.96 585.00 176.22 584.27 176.62 585.00 C177.02 585.73 177.45 587.73 177.93 590.45 C178.40 593.18 178.95 598.09 179.45 601.36 C179.96 604.64 180.44 607.65 180.98 610.09 C181.53 612.53 182.07 614.31 182.73 615.98 C183.38 617.65 183.45 619.41 184.91 620.10 C186.36 620.79 190.00 621.40 191.45 620.10 C192.91 618.80 193.09 614.85 193.64 612.27 C194.18 609.70 194.36 607.36 194.73 604.64 C195.09 601.91 195.38 599.00 195.82 595.91 C196.25 592.82 196.80 588.45 197.35 586.09 C197.89 583.73 198.51 581.73 199.09 581.73 C199.67 581.73 200.22 584.16 200.84 586.09 C201.45 588.02 202.11 591.47 202.80 593.29 C203.49 595.11 204.15 596.09 204.98 597.00 C205.82 597.91 206.80 598.20 207.82 598.75 C208.84 599.29 210.18 600.02 211.09 600.27 C212.00 600.53 212.55 600.64 213.27 600.27 C214.00 599.91 214.65 599.36 215.45 598.09 C216.25 596.82 217.27 594.82 218.07 592.64 C218.87 590.45 219.53 587.55 220.25 585.00 C220.98 582.45 221.71 579.36 222.44 577.36 C223.16 575.36 224.04 573.84 224.62 573.00 C225.20 572.16 225.35 571.98 225.93 572.35 C226.51 572.71 227.31 573.80 228.11 575.18 C228.91 576.56 229.82 578.82 230.73 580.64 C231.64 582.45 232.65 584.64 233.56 586.09 C234.47 587.55 235.38 589.36 236.18 589.36 C236.98 589.36 237.64 587.18 238.36 586.09 C239.09 585.00 239.93 583.55 240.55 582.82 C241.16 582.09 241.35 581.65 242.07 581.73 C242.80 581.80 243.89 582.78 244.91 583.25 C245.93 583.73 247.27 584.20 248.18 584.56 C249.09 584.93 249.64 584.82 250.36 585.44 C251.09 586.05 251.82 586.89 252.55 588.27 C253.27 589.65 254.00 592.09 254.73 593.73 C255.45 595.36 256.18 596.82 256.91 598.09 C257.64 599.36 258.55 600.75 259.09 601.36 C259.64 601.98 259.64 602.16 260.18 601.80 C260.73 601.44 261.64 600.16 262.36 599.18 C263.09 598.20 263.82 597.00 264.55 595.91 C265.27 594.82 266.03 593.80 266.73 592.64 C267.42 591.47 268.37 589.55 268.70 588.93" fill="none" stroke="#ff8a8a" stroke-width="0.6"/>
<linearGradient id="geb" gradientUnits="userSpaceOnUse" x1="0" y1="597.76" x2="0" y2="618.90"><stop offset="0" stop-color="#1414ff"/><stop offset="0.050" stop-color="#1414ff"/><stop offset="0.129" stop-color="#4545ff"/><stop offset="0.208" stop-color="#6d6dff"/><stop offset="0.287" stop-color="#8d8dff"/><stop offset="0.367" stop-color="#a7a7ff"/><stop offset="0.446" stop-color="#bcbcff"/><stop offset="0.525" stop-color="#cdcdff"/><stop offset="0.604" stop-color="#dadaff"/><stop offset="0.683" stop-color="#e5e5ff"/><stop offset="0.762" stop-color="#eeeeff"/><stop offset="0.842" stop-color="#f5f5ff"/><stop offset="0.921" stop-color="#fafaff"/><stop offset="1.000" stop-color="#ffffff"/></linearGradient>
<path d="M39.80 617.73 C39.97 617.18 40.34 615.62 40.80 614.45 C41.26 613.29 42.00 611.65 42.55 610.75 C43.09 609.84 43.53 608.93 44.07 609.00 C44.62 609.07 45.27 610.71 45.82 611.18 C46.36 611.65 46.80 612.02 47.35 611.84 C47.89 611.65 48.55 610.56 49.09 610.09 C49.64 609.62 50.07 608.82 50.62 609.00 C51.16 609.18 51.78 610.09 52.36 611.18 C52.95 612.27 53.49 614.24 54.11 615.55 C54.73 616.85 55.27 618.42 56.07 619.00 C56.87 619.58 55.71 619.00 58.91 619.00 C62.11 619.00 72.11 619.39 75.27 619.00 C78.44 618.61 77.16 617.76 77.89 616.64 C78.62 615.52 79.05 613.44 79.64 612.27 C80.22 611.11 80.73 610.20 81.38 609.65 C82.04 609.11 82.84 609.18 83.56 609.00 C84.29 608.82 84.95 608.75 85.75 608.56 C86.55 608.38 87.56 607.91 88.36 607.91 C89.16 607.91 89.82 608.67 90.55 608.56 C91.27 608.45 91.93 607.73 92.73 607.25 C93.53 606.78 94.44 606.09 95.35 605.73 C96.25 605.36 97.35 605.25 98.18 605.07 C99.02 604.89 99.71 605.07 100.36 604.64 C101.02 604.20 101.56 603.25 102.11 602.45 C102.65 601.65 103.16 600.42 103.64 599.84 C104.11 599.25 104.47 598.71 104.95 598.96 C105.42 599.22 105.89 600.05 106.47 601.36 C107.05 602.67 107.82 605.00 108.44 606.82 C109.05 608.64 109.60 610.75 110.18 612.27 C110.76 613.80 111.38 615.25 111.93 615.98 C112.47 616.71 112.95 617.07 113.45 616.64 C113.96 616.20 114.44 615.00 114.98 613.36 C115.53 611.73 116.15 608.64 116.73 606.82 C117.31 605.00 118.00 603.33 118.47 602.45 C118.95 601.58 119.13 601.29 119.56 601.58 C120.00 601.87 120.58 603.15 121.09 604.20 C121.60 605.25 122.15 607.18 122.62 607.91 C123.09 608.64 123.38 608.93 123.93 608.56 C124.47 608.20 125.20 606.82 125.89 605.73 C126.58 604.64 127.39 603.14 128.07 602.02 C128.76 600.90 129.44 599.66 130.00 599.00 C130.56 598.34 131.03 598.26 131.45 598.05 C131.88 597.85 132.12 597.48 132.55 597.76 C132.97 598.04 133.52 598.85 134.00 599.73 C134.48 600.60 134.97 601.91 135.45 603.00 C135.94 604.09 136.42 605.42 136.91 606.27 C137.39 607.12 137.96 607.73 138.36 608.09 C138.76 608.45 138.95 608.58 139.31 608.45 C139.67 608.33 140.10 608.03 140.55 607.36 C140.99 606.70 141.58 605.12 142.00 604.45 C142.42 603.79 142.73 603.42 143.09 603.36 C143.45 603.30 143.82 603.55 144.18 604.09 C144.55 604.64 144.91 605.73 145.27 606.64 C145.64 607.55 146.00 608.70 146.36 609.55 C146.73 610.39 147.09 611.22 147.45 611.73 C147.82 612.24 148.18 612.72 148.55 612.60 C148.91 612.48 149.27 611.87 149.64 611.00 C150.00 610.13 150.36 608.52 150.73 607.36 C151.09 606.21 151.49 604.88 151.82 604.09 C152.15 603.30 152.42 602.94 152.69 602.64 C152.96 602.33 153.14 602.09 153.42 602.27 C153.70 602.45 154.02 602.76 154.36 603.73 C154.70 604.70 155.09 606.64 155.45 608.09 C155.82 609.55 156.18 611.18 156.55 612.45 C156.91 613.73 157.27 614.88 157.64 615.73 C158.00 616.58 158.30 617.00 158.73 617.55 C159.15 618.09 159.52 618.76 160.18 619.00 C160.85 619.24 161.21 619.00 162.73 619.00 C164.24 619.00 169.21 619.00 169.27 619.00 C169.33 619.00 163.03 619.00 163.09 619.00 C163.15 619.00 168.18 619.28 169.64 619.00 C171.09 618.72 171.16 618.41 171.82 617.29 C172.47 616.17 172.98 614.09 173.56 612.27 C174.15 610.45 174.80 607.84 175.31 606.38 C175.82 604.93 176.25 604.13 176.62 603.55 C176.98 602.96 177.09 602.53 177.49 602.89 C177.89 603.25 178.51 604.60 179.02 605.73 C179.53 606.85 180.04 608.75 180.55 609.65 C181.05 610.56 181.53 611.36 182.07 611.18 C182.62 611.00 183.16 609.65 183.82 608.56 C184.47 607.47 185.27 605.76 186.00 604.64 C186.73 603.51 187.60 602.42 188.18 601.80 C188.76 601.18 189.02 600.82 189.49 600.93 C189.96 601.04 190.44 601.55 191.02 602.45 C191.60 603.36 192.36 605.36 192.98 606.38 C193.60 607.40 194.15 608.13 194.73 608.56 C195.31 609.00 195.85 609.04 196.47 609.00 C197.09 608.96 197.82 608.24 198.44 608.35 C199.05 608.45 199.53 609.00 200.18 609.65 C200.84 610.31 201.64 611.55 202.36 612.27 C203.09 613.00 203.64 613.58 204.55 614.02 C205.45 614.45 206.55 614.64 207.82 614.89 C209.09 615.15 210.55 615.29 212.18 615.55 C213.82 615.80 215.64 616.16 217.64 616.42 C219.64 616.67 221.64 616.85 224.18 617.07 C226.73 617.29 228.91 617.41 232.91 617.73 C236.91 618.05 242.22 618.79 248.18 619.00 C254.15 619.21 265.28 619.00 268.70 619.00 L268.70 620.90 L39.80 620.90 Z" fill="url(#geb)"/>
<path d="M39.80 618.90 H269.20" fill="none" stroke="#585858" stroke-width="1"/>
<path d="M39.80 617.73 C39.97 617.18 40.34 615.62 40.80 614.45 C41.26 613.29 42.00 611.65 42.55 610.75 C43.09 609.84 43.53 608.93 44.07 609.00 C44.62 609.07 45.27 610.71 45.82 611.18 C46.36 611.65 46.80 612.02 47.35 611.84 C47.89 611.65 48.55 610.56 49.09 610.09 C49.64 609.62 50.07 608.82 50.62 609.00 C51.16 609.18 51.78 610.09 52.36 611.18 C52.95 612.27 53.49 614.24 54.11 615.55 C54.73 616.85 55.27 618.42 56.07 619.00 C56.87 619.58 55.71 619.00 58.91 619.00 C62.11 619.00 72.11 619.39 75.27 619.00 C78.44 618.61 77.16 617.76 77.89 616.64 C78.62 615.52 79.05 613.44 79.64 612.27 C80.22 611.11 80.73 610.20 81.38 609.65 C82.04 609.11 82.84 609.18 83.56 609.00 C84.29 608.82 84.95 608.75 85.75 608.56 C86.55 608.38 87.56 607.91 88.36 607.91 C89.16 607.91 89.82 608.67 90.55 608.56 C91.27 608.45 91.93 607.73 92.73 607.25 C93.53 606.78 94.44 606.09 95.35 605.73 C96.25 605.36 97.35 605.25 98.18 605.07 C99.02 604.89 99.71 605.07 100.36 604.64 C101.02 604.20 101.56 603.25 102.11 602.45 C102.65 601.65 103.16 600.42 103.64 599.84 C104.11 599.25 104.47 598.71 104.95 598.96 C105.42 599.22 105.89 600.05 106.47 601.36 C107.05 602.67 107.82 605.00 108.44 606.82 C109.05 608.64 109.60 610.75 110.18 612.27 C110.76 613.80 111.38 615.25 111.93 615.98 C112.47 616.71 112.95 617.07 113.45 616.64 C113.96 616.20 114.44 615.00 114.98 613.36 C115.53 611.73 116.15 608.64 116.73 606.82 C117.31 605.00 118.00 603.33 118.47 602.45 C118.95 601.58 119.13 601.29 119.56 601.58 C120.00 601.87 120.58 603.15 121.09 604.20 C121.60 605.25 122.15 607.18 122.62 607.91 C123.09 608.64 123.38 608.93 123.93 608.56 C124.47 608.20 125.20 606.82 125.89 605.73 C126.58 604.64 127.39 603.14 128.07 602.02 C128.76 600.90 129.44 599.66 130.00 599.00 C130.56 598.34 131.03 598.26 131.45 598.05 C131.88 597.85 132.12 597.48 132.55 597.76 C132.97 598.04 133.52 598.85 134.00 599.73 C134.48 600.60 134.97 601.91 135.45 603.00 C135.94 604.09 136.42 605.42 136.91 606.27 C137.39 607.12 137.96 607.73 138.36 608.09 C138.76 608.45 138.95 608.58 139.31 608.45 C139.67 608.33 140.10 608.03 140.55 607.36 C140.99 606.70 141.58 605.12 142.00 604.45 C142.42 603.79 142.73 603.42 143.09 603.36 C143.45 603.30 143.82 603.55 144.18 604.09 C144.55 604.64 144.91 605.73 145.27 606.64 C145.64 607.55 146.00 608.70 146.36 609.55 C146.73 610.39 147.09 611.22 147.45 611.73 C147.82 612.24 148.18 612.72 148.55 612.60 C148.91 612.48 149.27 611.87 149.64 611.00 C150.00 610.13 150.36 608.52 150.73 607.36 C151.09 606.21 151.49 604.88 151.82 604.09 C152.15 603.30 152.42 602.94 152.69 602.64 C152.96 602.33 153.14 602.09 153.42 602.27 C153.70 602.45 154.02 602.76 154.36 603.73 C154.70 604.70 155.09 606.64 155.45 608.09 C155.82 609.55 156.18 611.18 156.55 612.45 C156.91 613.73 157.27 614.88 157.64 615.73 C158.00 616.58 158.30 617.00 158.73 617.55 C159.15 618.09 159.52 618.76 160.18 619.00 C160.85 619.24 161.21 619.00 162.73 619.00 C164.24 619.00 169.21 619.00 169.27 619.00 C169.33 619.00 163.03 619.00 163.09 619.00 C163.15 619.00 168.18 619.28 169.64 619.00 C171.09 618.72 171.16 618.41 171.82 617.29 C172.47 616.17 172.98 614.09 173.56 612.27 C174.15 610.45 174.80 607.84 175.31 606.38 C175.82 604.93 176.25 604.13 176.62 603.55 C176.98 602.96 177.09 602.53 177.49 602.89 C177.89 603.25 178.51 604.60 179.02 605.73 C179.53 606.85 180.04 608.75 180.55 609.65 C181.05 610.56 181.53 611.36 182.07 611.18 C182.62 611.00 183.16 609.65 183.82 608.56 C184.47 607.47 185.27 605.76 186.00 604.64 C186.73 603.51 187.60 602.42 188.18 601.80 C188.76 601.18 189.02 600.82 189.49 600.93 C189.96 601.04 190.44 601.55 191.02 602.45 C191.60 603.36 192.36 605.36 192.98 606.38 C193.60 607.40 194.15 608.13 194.73 608.56 C195.31 609.00 195.85 609.04 196.47 609.00 C197.09 608.96 197.82 608.24 198.44 608.35 C199.05 608.45 199.53 609.00 200.18 609.65 C200.84 610.31 201.64 611.55 202.36 612.27 C203.09 613.00 203.64 613.58 204.55 614.02 C205.45 614.45 206.55 614.64 207.82 614.89 C209.09 615.15 210.55 615.29 212.18 615.55 C213.82 615.80 215.64 616.16 217.64 616.42 C219.64 616.67 221.64 616.85 224.18 617.07 C226.73 617.29 228.91 617.41 232.91 617.73 C236.91 618.05 242.22 618.79 248.18 619.00 C254.15 619.21 265.28 619.00 268.70 619.00" fill="none" stroke="#3a45d4" stroke-width="1.0"/>
</g>
<line x1="153.75" y1="434.50" x2="153.75" y2="618.90" stroke="#222" stroke-width="1.3" stroke-dasharray="5.1 4.3"/>
<path d="M39.80 434.50 H268.70 V618.90" fill="none" stroke="#333" stroke-width="1.3"/>
<path d="M39.80 433.90 V619.50" fill="none" stroke="#111" stroke-width="1.5"/>
<path d="M39.80 618.90h-3.30 M39.80 606.61h-1.80 M39.80 594.31h-3.30 M39.80 582.02h-1.80 M39.80 569.73h-3.30 M39.80 557.43h-1.80 M39.80 545.14h-3.30 M39.80 532.85h-1.80 M39.80 520.55h-3.30 M39.80 508.26h-1.80 M39.80 495.97h-3.30 M39.80 483.67h-1.80 M39.80 471.38h-3.30 M39.80 459.09h-1.80 M39.80 446.79h-3.30 M39.80 618.90v3.30 M68.41 618.90v1.80 M97.03 618.90v3.30 M125.64 618.90v1.80 M154.25 618.90v3.30 M182.86 618.90v1.80 M211.48 618.90v3.30 M240.09 618.90v1.80 M268.70 618.90v3.30" stroke="#1a1a1a" stroke-width="1.1" fill="none"/>
<g font-family="'Liberation Serif', serif" font-weight="bold" font-size="8.7" fill="#0a0a0a" stroke="#0a0a0a" stroke-width="0.25">
<text x="35.10" y="621.85" text-anchor="end">0</text>
<text x="35.10" y="597.26" text-anchor="end">10</text>
<text x="35.10" y="572.68" text-anchor="end">20</text>
<text x="35.10" y="548.09" text-anchor="end">30</text>
<text x="35.10" y="523.50" text-anchor="end">40</text>
<text x="35.10" y="498.92" text-anchor="end">50</text>
<text x="35.10" y="474.33" text-anchor="end">60</text>
<text x="35.10" y="449.74" text-anchor="end">70</text>
<text x="39.50" y="629.70" text-anchor="middle">-10</text>
<text x="96.73" y="629.70" text-anchor="middle">-5</text>
<text x="154.45" y="629.70" text-anchor="middle">0</text>
<text x="211.68" y="629.70" text-anchor="middle">5</text>
<text x="268.90" y="629.70" text-anchor="middle">10</text>
<text x="156.55" y="638.70" text-anchor="middle" font-size="9.6">Energy(eV)</text>
<text transform="translate(21.70 523.20) rotate(-90)" text-anchor="middle" font-size="9.4">Density of states</text>
<text x="7.40" y="441.70" font-size="9.0">(e)</text>
</g>
<g font-family="'Liberation Serif', serif" font-size="9.8" fill="#111" stroke="#111" stroke-width="0.12">
<linearGradient id="lget" x1="0" y1="0" x2="0" y2="1"><stop offset="0" stop-color="#00f8f8"/><stop offset="0.12" stop-color="#00f8f8"/><stop offset="0.8" stop-color="#fff"/></linearGradient>
<rect x="101.60" y="436.80" width="19.2" height="8.9" fill="url(#lget)" stroke="#b8b8b8" stroke-width="0.5"/>
<text x="125.80" y="444.50">Total</text>
<linearGradient id="lger" x1="0" y1="0" x2="0" y2="1"><stop offset="0" stop-color="#ff1c1c"/><stop offset="0.12" stop-color="#ff1c1c"/><stop offset="0.8" stop-color="#fff"/></linearGradient>
<rect x="101.60" y="448.40" width="19.2" height="8.9" fill="url(#lger)" stroke="#b8b8b8" stroke-width="0.5"/>
<text x="125.80" y="456.10">g-C<tspan dy="2.4" font-size="6.8">3</tspan><tspan dy="-2.4">N</tspan><tspan dy="2.4" font-size="6.8">4</tspan></text>
<linearGradient id="lgeb" x1="0" y1="0" x2="0" y2="1"><stop offset="0" stop-color="#1414ff"/><stop offset="0.12" stop-color="#1414ff"/><stop offset="0.8" stop-color="#fff"/></linearGradient>
<rect x="101.60" y="462.40" width="19.2" height="8.9" fill="url(#lgeb)" stroke="#b8b8b8" stroke-width="0.5"/>
<text x="125.80" y="470.10">Li<tspan dy="2.4" font-size="6.8">2</tspan><tspan dy="-2.4">S</tspan><tspan dy="2.4" font-size="6.8">8</tspan></text>
</g>
</g>
<g>
<clipPath id="clf"><rect x="306.20" y="434.50" width="229.40" height="185.05"/></clipPath>
<g clip-path="url(#clf)">
<linearGradient id="gft" gradientUnits="userSpaceOnUse" x1="0" y1="444.00" x2="0" y2="618.90"><stop offset="0" stop-color="#00f8f8"/><stop offset="0.250" stop-color="#00f8f8"/><stop offset="0.312" stop-color="#3bfafa"/><stop offset="0.375" stop-color="#6afbfb"/><stop offset="0.438" stop-color="#8efcfc"/><stop offset="0.500" stop-color="#aafdfd"/><stop offset="0.562" stop-color="#bffdfd"/><stop offset="0.625" stop-color="#d0fefe"/><stop offset="0.688" stop-color="#defefe"/><stop offset="0.750" stop-color="#e8fefe"/><stop offset="0.812" stop-color="#f0ffff"/><stop offset="0.875" stop-color="#f6ffff"/><stop offset="0.938" stop-color="#fbffff"/><stop offset="1.000" stop-color="#ffffff"/></linearGradient>
<path d="M306.20 563.64 C306.41 562.73 306.99 559.71 307.45 558.18 C307.92 556.65 308.55 555.27 308.98 554.47 C309.42 553.67 309.67 552.76 310.07 553.38 C310.47 554.00 310.91 555.20 311.38 558.18 C311.85 561.16 312.40 566.55 312.91 571.27 C313.42 576.00 313.89 582.07 314.44 586.55 C314.98 591.02 315.64 595.67 316.18 598.11 C316.73 600.55 317.16 600.80 317.71 601.16 C318.25 601.53 318.80 601.27 319.45 600.29 C320.11 599.31 320.91 597.38 321.64 595.27 C322.36 593.16 323.09 589.64 323.82 587.64 C324.55 585.64 325.27 584.55 326.00 583.27 C326.73 582.00 327.45 581.45 328.18 580.00 C328.91 578.55 329.71 576.11 330.36 574.55 C331.02 572.98 331.56 571.53 332.11 570.62 C332.65 569.71 333.13 568.51 333.64 569.09 C334.15 569.67 334.62 571.56 335.16 574.11 C335.71 576.65 336.33 581.38 336.91 584.36 C337.49 587.35 338.07 590.18 338.65 592.00 C339.24 593.82 339.82 596.00 340.40 595.27 C340.98 594.55 341.56 590.73 342.15 587.64 C342.73 584.55 343.38 579.45 343.89 576.73 C344.40 574.00 344.73 572.55 345.20 571.27 C345.67 570.00 346.22 568.91 346.73 569.09 C347.24 569.27 347.64 570.55 348.25 572.36 C348.87 574.18 349.71 577.82 350.44 580.00 C351.16 582.18 351.96 584.00 352.62 585.45 C353.27 586.91 353.85 588.36 354.36 588.73 C354.87 589.09 355.24 589.27 355.67 587.64 C356.11 586.00 356.55 582.18 356.98 578.91 C357.42 575.64 357.89 570.44 358.29 568.00 C358.69 565.56 358.95 563.56 359.38 564.29 C359.82 565.02 360.36 568.47 360.91 572.36 C361.45 576.25 362.07 583.27 362.65 587.64 C363.24 592.00 363.89 596.44 364.40 598.55 C364.91 600.65 365.20 600.84 365.71 600.29 C366.22 599.75 366.80 597.38 367.45 595.27 C368.11 593.16 368.91 590.36 369.64 587.64 C370.36 584.91 371.16 582.18 371.82 578.91 C372.47 575.64 373.02 572.36 373.56 568.00 C374.11 563.64 374.58 557.64 375.09 552.73 C375.60 547.82 376.15 542.18 376.62 538.55 C377.09 534.91 377.53 532.44 377.93 530.91 C378.33 529.38 378.58 528.84 379.02 529.38 C379.45 529.93 380.04 531.38 380.55 534.18 C381.05 536.98 381.53 541.64 382.07 546.18 C382.62 550.73 383.27 557.09 383.82 561.45 C384.36 565.82 384.87 569.89 385.35 572.36 C385.82 574.84 386.18 576.84 386.65 576.29 C387.13 575.75 387.67 571.93 388.18 569.09 C388.69 566.25 389.24 561.53 389.71 559.27 C390.18 557.02 390.58 555.02 391.02 555.56 C391.45 556.11 391.82 558.84 392.33 562.55 C392.84 566.25 393.49 573.09 394.07 577.82 C394.65 582.55 395.27 588.00 395.82 590.91 C396.36 593.82 396.87 595.82 397.35 595.27 C397.82 594.73 398.18 591.45 398.65 587.64 C399.13 583.82 399.67 577.82 400.18 572.36 C400.69 566.91 401.20 560.36 401.71 554.91 C402.22 549.45 402.76 544.00 403.24 539.64 C403.71 535.27 404.11 531.45 404.55 528.73 C404.98 526.00 405.45 524.36 405.85 523.27 C406.25 522.18 406.55 521.64 406.95 522.18 C407.35 522.73 407.75 524.00 408.25 526.55 C408.76 529.09 409.42 533.82 410.00 537.45 C410.58 541.09 411.13 545.27 411.75 548.36 C412.36 551.45 413.24 554.67 413.71 556.00 C414.18 557.33 414.14 555.58 414.56 556.34 C414.98 557.10 415.74 559.15 416.25 560.56 C416.75 561.96 417.18 563.09 417.60 564.78 C418.02 566.46 418.38 567.73 418.78 570.68 C419.17 573.63 419.54 577.99 419.96 582.49 C420.38 586.99 420.86 593.18 421.31 597.68 C421.76 602.18 422.24 606.40 422.66 609.49 C423.08 612.58 423.36 614.47 423.84 616.24 C424.32 618.01 423.56 619.46 425.53 620.10 C427.50 620.74 434.15 620.10 435.65 620.10 C437.15 620.10 434.37 621.33 434.55 620.10 C434.72 618.87 436.00 615.96 436.73 612.73 C437.45 609.50 438.18 604.18 438.91 600.73 C439.64 597.27 440.36 594.18 441.09 592.00 C441.82 589.82 442.62 589.64 443.27 587.64 C443.93 585.64 444.47 583.27 445.02 580.00 C445.56 576.73 446.04 571.45 446.55 568.00 C447.05 564.55 447.64 561.16 448.07 559.27 C448.51 557.38 448.76 556.11 449.16 556.65 C449.56 557.20 450.00 559.56 450.47 562.55 C450.95 565.53 451.49 571.27 452.00 574.55 C452.51 577.82 453.05 581.09 453.53 582.18 C454.00 583.27 454.36 581.82 454.84 581.09 C455.31 580.36 455.85 577.45 456.36 577.82 C456.87 578.18 457.35 581.27 457.89 583.27 C458.44 585.27 459.09 588.73 459.64 589.82 C460.18 590.91 460.69 591.27 461.16 589.82 C461.64 588.36 462.07 583.82 462.47 581.09 C462.87 578.36 463.24 575.09 463.56 573.45 C463.89 571.82 464.07 570.36 464.44 571.27 C464.80 572.18 465.27 574.73 465.75 578.91 C466.22 583.09 466.73 591.09 467.27 596.36 C467.82 601.64 468.47 607.09 469.02 610.55 C469.56 614.00 470.07 615.89 470.55 617.09 C471.02 618.29 471.42 618.65 471.85 617.75 C472.29 616.84 472.73 614.84 473.16 611.64 C473.60 608.44 474.00 604.00 474.47 598.55 C474.95 593.09 475.49 584.73 476.00 578.91 C476.51 573.09 476.98 567.64 477.53 563.64 C478.07 559.64 478.73 556.65 479.27 554.91 C479.82 553.16 480.25 553.24 480.80 553.16 C481.35 553.09 481.89 554.55 482.55 554.47 C483.20 554.40 484.00 553.75 484.73 552.73 C485.45 551.71 486.18 550.00 486.91 548.36 C487.64 546.73 488.36 544.55 489.09 542.91 C489.82 541.27 490.55 540.18 491.27 538.55 C492.00 536.91 492.91 534.85 493.45 533.09 C494.00 531.33 494.07 530.30 494.55 528.00 C495.02 525.70 495.75 522.55 496.29 519.27 C496.84 516.00 497.31 512.36 497.82 508.36 C498.33 504.36 498.80 499.27 499.35 495.27 C499.89 491.27 500.51 487.45 501.09 484.36 C501.67 481.27 502.18 478.73 502.84 476.73 C503.49 474.73 504.29 473.38 505.02 472.36 C505.75 471.35 506.58 470.80 507.20 470.62 C507.82 470.44 508.11 470.73 508.73 471.27 C509.35 471.82 510.18 472.87 510.91 473.89 C511.64 474.91 512.36 476.36 513.09 477.38 C513.82 478.40 514.73 479.49 515.27 480.00 C515.82 480.51 515.93 481.16 516.36 480.44 C516.80 479.71 517.35 477.89 517.89 475.64 C518.44 473.38 519.05 470.00 519.64 466.91 C520.22 463.82 520.84 460.00 521.38 457.09 C521.93 454.18 522.36 451.35 522.91 449.45 C523.45 447.56 524.00 446.55 524.65 445.75 C525.31 444.95 526.04 444.95 526.84 444.65 C527.64 444.36 528.65 444.11 529.45 444.00 C530.25 443.89 530.91 443.82 531.64 444.00 C532.36 444.18 533.24 444.36 533.82 445.09 C534.40 445.82 534.89 447.82 535.10 448.36 L535.10 620.90 L306.20 620.90 Z" fill="url(#gft)"/>
<path d="M306.20 563.64 C306.41 562.73 306.99 559.71 307.45 558.18 C307.92 556.65 308.55 555.27 308.98 554.47 C309.42 553.67 309.67 552.76 310.07 553.38 C310.47 554.00 310.91 555.20 311.38 558.18 C311.85 561.16 312.40 566.55 312.91 571.27 C313.42 576.00 313.89 582.07 314.44 586.55 C314.98 591.02 315.64 595.67 316.18 598.11 C316.73 600.55 317.16 600.80 317.71 601.16 C318.25 601.53 318.80 601.27 319.45 600.29 C320.11 599.31 320.91 597.38 321.64 595.27 C322.36 593.16 323.09 589.64 323.82 587.64 C324.55 585.64 325.27 584.55 326.00 583.27 C326.73 582.00 327.45 581.45 328.18 580.00 C328.91 578.55 329.71 576.11 330.36 574.55 C331.02 572.98 331.56 571.53 332.11 570.62 C332.65 569.71 333.13 568.51 333.64 569.09 C334.15 569.67 334.62 571.56 335.16 574.11 C335.71 576.65 336.33 581.38 336.91 584.36 C337.49 587.35 338.07 590.18 338.65 592.00 C339.24 593.82 339.82 596.00 340.40 595.27 C340.98 594.55 341.56 590.73 342.15 587.64 C342.73 584.55 343.38 579.45 343.89 576.73 C344.40 574.00 344.73 572.55 345.20 571.27 C345.67 570.00 346.22 568.91 346.73 569.09 C347.24 569.27 347.64 570.55 348.25 572.36 C348.87 574.18 349.71 577.82 350.44 580.00 C351.16 582.18 351.96 584.00 352.62 585.45 C353.27 586.91 353.85 588.36 354.36 588.73 C354.87 589.09 355.24 589.27 355.67 587.64 C356.11 586.00 356.55 582.18 356.98 578.91 C357.42 575.64 357.89 570.44 358.29 568.00 C358.69 565.56 358.95 563.56 359.38 564.29 C359.82 565.02 360.36 568.47 360.91 572.36 C361.45 576.25 362.07 583.27 362.65 587.64 C363.24 592.00 363.89 596.44 364.40 598.55 C364.91 600.65 365.20 600.84 365.71 600.29 C366.22 599.75 366.80 597.38 367.45 595.27 C368.11 593.16 368.91 590.36 369.64 587.64 C370.36 584.91 371.16 582.18 371.82 578.91 C372.47 575.64 373.02 572.36 373.56 568.00 C374.11 563.64 374.58 557.64 375.09 552.73 C375.60 547.82 376.15 542.18 376.62 538.55 C377.09 534.91 377.53 532.44 377.93 530.91 C378.33 529.38 378.58 528.84 379.02 529.38 C379.45 529.93 380.04 531.38 380.55 534.18 C381.05 536.98 381.53 541.64 382.07 546.18 C382.62 550.73 383.27 557.09 383.82 561.45 C384.36 565.82 384.87 569.89 385.35 572.36 C385.82 574.84 386.18 576.84 386.65 576.29 C387.13 575.75 387.67 571.93 388.18 569.09 C388.69 566.25 389.24 561.53 389.71 559.27 C390.18 557.02 390.58 555.02 391.02 555.56 C391.45 556.11 391.82 558.84 392.33 562.55 C392.84 566.25 393.49 573.09 394.07 577.82 C394.65 582.55 395.27 588.00 395.82 590.91 C396.36 593.82 396.87 595.82 397.35 595.27 C397.82 594.73 398.18 591.45 398.65 587.64 C399.13 583.82 399.67 577.82 400.18 572.36 C400.69 566.91 401.20 560.36 401.71 554.91 C402.22 549.45 402.76 544.00 403.24 539.64 C403.71 535.27 404.11 531.45 404.55 528.73 C404.98 526.00 405.45 524.36 405.85 523.27 C406.25 522.18 406.55 521.64 406.95 522.18 C407.35 522.73 407.75 524.00 408.25 526.55 C408.76 529.09 409.42 533.82 410.00 537.45 C410.58 541.09 411.13 545.27 411.75 548.36 C412.36 551.45 413.24 554.67 413.71 556.00 C414.18 557.33 414.14 555.58 414.56 556.34 C414.98 557.10 415.74 559.15 416.25 560.56 C416.75 561.96 417.18 563.09 417.60 564.78 C418.02 566.46 418.38 567.73 418.78 570.68 C419.17 573.63 419.54 577.99 419.96 582.49 C420.38 586.99 420.86 593.18 421.31 597.68 C421.76 602.18 422.24 606.40 422.66 609.49 C423.08 612.58 423.36 614.47 423.84 616.24 C424.32 618.01 423.56 619.46 425.53 620.10 C427.50 620.74 434.15 620.10 435.65 620.10 C437.15 620.10 434.37 621.33 434.55 620.10 C434.72 618.87 436.00 615.96 436.73 612.73 C437.45 609.50 438.18 604.18 438.91 600.73 C439.64 597.27 440.36 594.18 441.09 592.00 C441.82 589.82 442.62 589.64 443.27 587.64 C443.93 585.64 444.47 583.27 445.02 580.00 C445.56 576.73 446.04 571.45 446.55 568.00 C447.05 564.55 447.64 561.16 448.07 559.27 C448.51 557.38 448.76 556.11 449.16 556.65 C449.56 557.20 450.00 559.56 450.47 562.55 C450.95 565.53 451.49 571.27 452.00 574.55 C452.51 577.82 453.05 581.09 453.53 582.18 C454.00 583.27 454.36 581.82 454.84 581.09 C455.31 580.36 455.85 577.45 456.36 577.82 C456.87 578.18 457.35 581.27 457.89 583.27 C458.44 585.27 459.09 588.73 459.64 589.82 C460.18 590.91 460.69 591.27 461.16 589.82 C461.64 588.36 462.07 583.82 462.47 581.09 C462.87 578.36 463.24 575.09 463.56 573.45 C463.89 571.82 464.07 570.36 464.44 571.27 C464.80 572.18 465.27 574.73 465.75 578.91 C466.22 583.09 466.73 591.09 467.27 596.36 C467.82 601.64 468.47 607.09 469.02 610.55 C469.56 614.00 470.07 615.89 470.55 617.09 C471.02 618.29 471.42 618.65 471.85 617.75 C472.29 616.84 472.73 614.84 473.16 611.64 C473.60 608.44 474.00 604.00 474.47 598.55 C474.95 593.09 475.49 584.73 476.00 578.91 C476.51 573.09 476.98 567.64 477.53 563.64 C478.07 559.64 478.73 556.65 479.27 554.91 C479.82 553.16 480.25 553.24 480.80 553.16 C481.35 553.09 481.89 554.55 482.55 554.47 C483.20 554.40 484.00 553.75 484.73 552.73 C485.45 551.71 486.18 550.00 486.91 548.36 C487.64 546.73 488.36 544.55 489.09 542.91 C489.82 541.27 490.55 540.18 491.27 538.55 C492.00 536.91 492.91 534.85 493.45 533.09 C494.00 531.33 494.07 530.30 494.55 528.00 C495.02 525.70 495.75 522.55 496.29 519.27 C496.84 516.00 497.31 512.36 497.82 508.36 C498.33 504.36 498.80 499.27 499.35 495.27 C499.89 491.27 500.51 487.45 501.09 484.36 C501.67 481.27 502.18 478.73 502.84 476.73 C503.49 474.73 504.29 473.38 505.02 472.36 C505.75 471.35 506.58 470.80 507.20 470.62 C507.82 470.44 508.11 470.73 508.73 471.27 C509.35 471.82 510.18 472.87 510.91 473.89 C511.64 474.91 512.36 476.36 513.09 477.38 C513.82 478.40 514.73 479.49 515.27 480.00 C515.82 480.51 515.93 481.16 516.36 480.44 C516.80 479.71 517.35 477.89 517.89 475.64 C518.44 473.38 519.05 470.00 519.64 466.91 C520.22 463.82 520.84 460.00 521.38 457.09 C521.93 454.18 522.36 451.35 522.91 449.45 C523.45 447.56 524.00 446.55 524.65 445.75 C525.31 444.95 526.04 444.95 526.84 444.65 C527.64 444.36 528.65 444.11 529.45 444.00 C530.25 443.89 530.91 443.82 531.64 444.00 C532.36 444.18 533.24 444.36 533.82 445.09 C534.40 445.82 534.89 447.82 535.10 448.36" fill="none" stroke="#1fe9e9" stroke-width="0.9"/>
<linearGradient id="gfr" gradientUnits="userSpaceOnUse" x1="0" y1="544.44" x2="0" y2="618.90"><stop offset="0" stop-color="#ff1c1c"/><stop offset="0.060" stop-color="#ff1c1c"/><stop offset="0.138" stop-color="#ff4747"/><stop offset="0.217" stop-color="#ff6a6a"/><stop offset="0.295" stop-color="#ff8888"/><stop offset="0.373" stop-color="#ffa1a1"/><stop offset="0.452" stop-color="#ffb5b5"/><stop offset="0.530" stop-color="#ffc6c6"/><stop offset="0.608" stop-color="#ffd5d5"/><stop offset="0.687" stop-color="#ffe0e0"/><stop offset="0.765" stop-color="#ffeaea"/><stop offset="0.843" stop-color="#fff2f2"/><stop offset="0.922" stop-color="#fff9f9"/><stop offset="1.000" stop-color="#ffffff"/></linearGradient>
<path d="M306.20 568.00 C306.41 566.73 306.99 562.36 307.45 560.36 C307.92 558.36 308.55 556.91 308.98 556.00 C309.42 555.09 309.67 554.36 310.07 554.91 C310.47 555.45 310.91 556.36 311.38 559.27 C311.85 562.18 312.40 567.64 312.91 572.36 C313.42 577.09 313.89 583.27 314.44 587.64 C314.98 592.00 315.64 596.29 316.18 598.55 C316.73 600.80 317.09 600.87 317.71 601.16 C318.33 601.45 319.16 600.55 319.89 600.29 C320.62 600.04 321.42 600.29 322.07 599.64 C322.73 598.98 323.16 598.18 323.82 596.36 C324.47 594.55 325.27 591.09 326.00 588.73 C326.73 586.36 327.45 584.18 328.18 582.18 C328.91 580.18 329.71 578.36 330.36 576.73 C331.02 575.09 331.56 573.38 332.11 572.36 C332.65 571.35 333.13 570.07 333.64 570.62 C334.15 571.16 334.62 573.16 335.16 575.64 C335.71 578.11 336.33 582.55 336.91 585.45 C337.49 588.36 338.07 591.35 338.65 593.09 C339.24 594.84 339.82 596.47 340.40 595.93 C340.98 595.38 341.56 592.29 342.15 589.82 C342.73 587.35 343.38 583.20 343.89 581.09 C344.40 578.98 344.80 577.96 345.20 577.16 C345.60 576.36 345.85 575.82 346.29 576.29 C346.73 576.76 347.20 578.29 347.82 580.00 C348.44 581.71 349.27 584.62 350.00 586.55 C350.73 588.47 351.45 590.11 352.18 591.56 C352.91 593.02 353.75 594.47 354.36 595.27 C354.98 596.07 355.42 597.27 355.89 596.36 C356.36 595.45 356.73 592.36 357.20 589.82 C357.67 587.27 358.29 582.98 358.73 581.09 C359.16 579.20 359.38 577.75 359.82 578.47 C360.25 579.20 360.80 582.47 361.35 585.45 C361.89 588.44 362.55 593.75 363.09 596.36 C363.64 598.98 364.18 600.25 364.62 601.16 C365.05 602.07 365.24 602.25 365.71 601.82 C366.18 601.38 366.80 599.82 367.45 598.55 C368.11 597.27 368.91 595.82 369.64 594.18 C370.36 592.55 371.09 590.91 371.82 588.73 C372.55 586.55 373.35 583.82 374.00 581.09 C374.65 578.36 375.20 575.64 375.75 572.36 C376.29 569.09 376.76 565.09 377.27 561.45 C377.78 557.82 378.33 553.27 378.80 550.55 C379.27 547.82 379.75 546.11 380.11 545.09 C380.47 544.07 380.62 543.53 380.98 544.44 C381.35 545.35 381.82 547.35 382.29 550.55 C382.76 553.75 383.31 559.09 383.82 563.64 C384.33 568.18 384.87 574.55 385.35 577.82 C385.82 581.09 386.18 583.45 386.65 583.27 C387.13 583.09 387.67 579.64 388.18 576.73 C388.69 573.82 389.24 568.44 389.71 565.82 C390.18 563.20 390.58 560.84 391.02 561.02 C391.45 561.20 391.82 563.56 392.33 566.91 C392.84 570.25 393.49 576.73 394.07 581.09 C394.65 585.45 395.27 590.47 395.82 593.09 C396.36 595.71 396.87 596.98 397.35 596.80 C397.82 596.62 398.18 594.25 398.65 592.00 C399.13 589.75 399.67 586.18 400.18 583.27 C400.69 580.36 401.24 576.91 401.71 574.55 C402.18 572.18 402.55 570.29 403.02 569.09 C403.49 567.89 403.93 567.60 404.55 567.35 C405.16 567.09 406.00 567.27 406.73 567.56 C407.45 567.85 408.25 568.58 408.91 569.09 C409.56 569.60 410.00 570.87 410.65 570.62 C411.31 570.36 412.15 568.44 412.84 567.56 C413.53 566.69 414.29 565.78 414.80 565.38 C415.31 564.98 415.42 564.55 415.89 565.16 C416.36 565.78 417.44 568.59 417.64 569.09 C417.84 569.59 416.99 566.76 417.09 568.15 C417.20 569.54 417.85 573.63 418.27 577.43 C418.69 581.23 419.17 586.43 419.62 590.93 C420.07 595.43 420.52 600.63 420.97 604.43 C421.42 608.22 421.84 611.46 422.32 613.71 C422.80 615.96 423.31 616.86 423.84 617.93 C424.37 618.99 423.64 619.74 425.53 620.10 C427.41 620.46 433.64 620.10 435.15 620.10 C436.65 620.10 434.28 621.15 434.55 620.10 C434.81 619.05 436.00 616.68 436.73 613.82 C437.45 610.95 438.18 606.18 438.91 602.91 C439.64 599.64 440.36 596.00 441.09 594.18 C441.82 592.36 442.62 593.09 443.27 592.00 C443.93 590.91 444.47 589.45 445.02 587.64 C445.56 585.82 446.04 582.73 446.55 581.09 C447.05 579.45 447.53 577.64 448.07 577.82 C448.62 578.00 449.24 579.82 449.82 582.18 C450.40 584.55 451.02 589.64 451.56 592.00 C452.11 594.36 452.55 596.91 453.09 596.36 C453.64 595.82 454.29 590.84 454.84 588.73 C455.38 586.62 455.85 583.53 456.36 583.71 C456.87 583.89 457.35 586.62 457.89 589.82 C458.44 593.02 458.98 599.27 459.64 602.91 C460.29 606.55 461.09 609.45 461.82 611.64 C462.55 613.82 463.09 614.59 464.00 616.00 C464.91 617.41 466.18 619.42 467.27 620.10 C468.36 620.78 469.71 620.78 470.55 620.10 C471.38 619.42 471.75 618.14 472.29 616.00 C472.84 613.86 473.31 610.91 473.82 607.27 C474.33 603.64 474.80 598.00 475.35 594.18 C475.89 590.36 476.51 586.73 477.09 584.36 C477.67 582.00 478.40 580.84 478.84 580.00 C479.27 579.16 479.27 578.44 479.71 579.35 C480.15 580.25 480.80 582.98 481.45 585.45 C482.11 587.93 482.91 592.07 483.64 594.18 C484.36 596.29 485.09 597.67 485.82 598.11 C486.55 598.55 487.27 597.09 488.00 596.80 C488.73 596.51 489.45 596.07 490.18 596.36 C490.91 596.65 491.64 597.82 492.36 598.55 C493.09 599.27 493.75 601.27 494.55 600.73 C495.35 600.18 496.25 597.64 497.16 595.27 C498.07 592.91 499.09 589.09 500.00 586.55 C500.91 584.00 501.71 581.56 502.62 580.00 C503.53 578.44 504.55 577.78 505.45 577.16 C506.36 576.55 507.27 576.36 508.07 576.29 C508.87 576.22 509.49 576.11 510.25 576.73 C511.02 577.35 511.82 578.55 512.65 580.00 C513.49 581.45 514.47 584.25 515.27 585.45 C516.07 586.65 516.73 587.38 517.45 587.20 C518.18 587.02 518.91 585.20 519.64 584.36 C520.36 583.53 521.20 582.62 521.82 582.18 C522.44 581.75 522.73 581.56 523.35 581.75 C523.96 581.93 524.69 582.73 525.53 583.27 C526.36 583.82 527.35 584.58 528.36 585.02 C529.38 585.45 530.73 585.64 531.64 585.89 C532.55 586.15 533.24 585.96 533.82 586.55 C534.40 587.13 534.89 588.91 535.10 589.38 L535.10 620.90 L306.20 620.90 Z" fill="url(#gfr)"/>
<path d="M306.20 568.00 C306.41 566.73 306.99 562.36 307.45 560.36 C307.92 558.36 308.55 556.91 308.98 556.00 C309.42 555.09 309.67 554.36 310.07 554.91 C310.47 555.45 310.91 556.36 311.38 559.27 C311.85 562.18 312.40 567.64 312.91 572.36 C313.42 577.09 313.89 583.27 314.44 587.64 C314.98 592.00 315.64 596.29 316.18 598.55 C316.73 600.80 317.09 600.87 317.71 601.16 C318.33 601.45 319.16 600.55 319.89 600.29 C320.62 600.04 321.42 600.29 322.07 599.64 C322.73 598.98 323.16 598.18 323.82 596.36 C324.47 594.55 325.27 591.09 326.00 588.73 C326.73 586.36 327.45 584.18 328.18 582.18 C328.91 580.18 329.71 578.36 330.36 576.73 C331.02 575.09 331.56 573.38 332.11 572.36 C332.65 571.35 333.13 570.07 333.64 570.62 C334.15 571.16 334.62 573.16 335.16 575.64 C335.71 578.11 336.33 582.55 336.91 585.45 C337.49 588.36 338.07 591.35 338.65 593.09 C339.24 594.84 339.82 596.47 340.40 595.93 C340.98 595.38 341.56 592.29 342.15 589.82 C342.73 587.35 343.38 583.20 343.89 581.09 C344.40 578.98 344.80 577.96 345.20 577.16 C345.60 576.36 345.85 575.82 346.29 576.29 C346.73 576.76 347.20 578.29 347.82 580.00 C348.44 581.71 349.27 584.62 350.00 586.55 C350.73 588.47 351.45 590.11 352.18 591.56 C352.91 593.02 353.75 594.47 354.36 595.27 C354.98 596.07 355.42 597.27 355.89 596.36 C356.36 595.45 356.73 592.36 357.20 589.82 C357.67 587.27 358.29 582.98 358.73 581.09 C359.16 579.20 359.38 577.75 359.82 578.47 C360.25 579.20 360.80 582.47 361.35 585.45 C361.89 588.44 362.55 593.75 363.09 596.36 C363.64 598.98 364.18 600.25 364.62 601.16 C365.05 602.07 365.24 602.25 365.71 601.82 C366.18 601.38 366.80 599.82 367.45 598.55 C368.11 597.27 368.91 595.82 369.64 594.18 C370.36 592.55 371.09 590.91 371.82 588.73 C372.55 586.55 373.35 583.82 374.00 581.09 C374.65 578.36 375.20 575.64 375.75 572.36 C376.29 569.09 376.76 565.09 377.27 561.45 C377.78 557.82 378.33 553.27 378.80 550.55 C379.27 547.82 379.75 546.11 380.11 545.09 C380.47 544.07 380.62 543.53 380.98 544.44 C381.35 545.35 381.82 547.35 382.29 550.55 C382.76 553.75 383.31 559.09 383.82 563.64 C384.33 568.18 384.87 574.55 385.35 577.82 C385.82 581.09 386.18 583.45 386.65 583.27 C387.13 583.09 387.67 579.64 388.18 576.73 C388.69 573.82 389.24 568.44 389.71 565.82 C390.18 563.20 390.58 560.84 391.02 561.02 C391.45 561.20 391.82 563.56 392.33 566.91 C392.84 570.25 393.49 576.73 394.07 581.09 C394.65 585.45 395.27 590.47 395.82 593.09 C396.36 595.71 396.87 596.98 397.35 596.80 C397.82 596.62 398.18 594.25 398.65 592.00 C399.13 589.75 399.67 586.18 400.18 583.27 C400.69 580.36 401.24 576.91 401.71 574.55 C402.18 572.18 402.55 570.29 403.02 569.09 C403.49 567.89 403.93 567.60 404.55 567.35 C405.16 567.09 406.00 567.27 406.73 567.56 C407.45 567.85 408.25 568.58 408.91 569.09 C409.56 569.60 410.00 570.87 410.65 570.62 C411.31 570.36 412.15 568.44 412.84 567.56 C413.53 566.69 414.29 565.78 414.80 565.38 C415.31 564.98 415.42 564.55 415.89 565.16 C416.36 565.78 417.44 568.59 417.64 569.09 C417.84 569.59 416.99 566.76 417.09 568.15 C417.20 569.54 417.85 573.63 418.27 577.43 C418.69 581.23 419.17 586.43 419.62 590.93 C420.07 595.43 420.52 600.63 420.97 604.43 C421.42 608.22 421.84 611.46 422.32 613.71 C422.80 615.96 423.31 616.86 423.84 617.93 C424.37 618.99 423.64 619.74 425.53 620.10 C427.41 620.46 433.64 620.10 435.15 620.10 C436.65 620.10 434.28 621.15 434.55 620.10 C434.81 619.05 436.00 616.68 436.73 613.82 C437.45 610.95 438.18 606.18 438.91 602.91 C439.64 599.64 440.36 596.00 441.09 594.18 C441.82 592.36 442.62 593.09 443.27 592.00 C443.93 590.91 444.47 589.45 445.02 587.64 C445.56 585.82 446.04 582.73 446.55 581.09 C447.05 579.45 447.53 577.64 448.07 577.82 C448.62 578.00 449.24 579.82 449.82 582.18 C450.40 584.55 451.02 589.64 451.56 592.00 C452.11 594.36 452.55 596.91 453.09 596.36 C453.64 595.82 454.29 590.84 454.84 588.73 C455.38 586.62 455.85 583.53 456.36 583.71 C456.87 583.89 457.35 586.62 457.89 589.82 C458.44 593.02 458.98 599.27 459.64 602.91 C460.29 606.55 461.09 609.45 461.82 611.64 C462.55 613.82 463.09 614.59 464.00 616.00 C464.91 617.41 466.18 619.42 467.27 620.10 C468.36 620.78 469.71 620.78 470.55 620.10 C471.38 619.42 471.75 618.14 472.29 616.00 C472.84 613.86 473.31 610.91 473.82 607.27 C474.33 603.64 474.80 598.00 475.35 594.18 C475.89 590.36 476.51 586.73 477.09 584.36 C477.67 582.00 478.40 580.84 478.84 580.00 C479.27 579.16 479.27 578.44 479.71 579.35 C480.15 580.25 480.80 582.98 481.45 585.45 C482.11 587.93 482.91 592.07 483.64 594.18 C484.36 596.29 485.09 597.67 485.82 598.11 C486.55 598.55 487.27 597.09 488.00 596.80 C488.73 596.51 489.45 596.07 490.18 596.36 C490.91 596.65 491.64 597.82 492.36 598.55 C493.09 599.27 493.75 601.27 494.55 600.73 C495.35 600.18 496.25 597.64 497.16 595.27 C498.07 592.91 499.09 589.09 500.00 586.55 C500.91 584.00 501.71 581.56 502.62 580.00 C503.53 578.44 504.55 577.78 505.45 577.16 C506.36 576.55 507.27 576.36 508.07 576.29 C508.87 576.22 509.49 576.11 510.25 576.73 C511.02 577.35 511.82 578.55 512.65 580.00 C513.49 581.45 514.47 584.25 515.27 585.45 C516.07 586.65 516.73 587.38 517.45 587.20 C518.18 587.02 518.91 585.20 519.64 584.36 C520.36 583.53 521.20 582.62 521.82 582.18 C522.44 581.75 522.73 581.56 523.35 581.75 C523.96 581.93 524.69 582.73 525.53 583.27 C526.36 583.82 527.35 584.58 528.36 585.02 C529.38 585.45 530.73 585.64 531.64 585.89 C532.55 586.15 533.24 585.96 533.82 586.55 C534.40 587.13 534.89 588.91 535.10 589.38" fill="none" stroke="#ff8a8a" stroke-width="0.6"/>
<linearGradient id="gfb" gradientUnits="userSpaceOnUse" x1="0" y1="574.39" x2="0" y2="618.90"><stop offset="0" stop-color="#1414ff"/><stop offset="0.050" stop-color="#1414ff"/><stop offset="0.129" stop-color="#4545ff"/><stop offset="0.208" stop-color="#6d6dff"/><stop offset="0.287" stop-color="#8d8dff"/><stop offset="0.367" stop-color="#a7a7ff"/><stop offset="0.446" stop-color="#bcbcff"/><stop offset="0.525" stop-color="#cdcdff"/><stop offset="0.604" stop-color="#dadaff"/><stop offset="0.683" stop-color="#e5e5ff"/><stop offset="0.762" stop-color="#eeeeff"/><stop offset="0.842" stop-color="#f5f5ff"/><stop offset="0.921" stop-color="#fafaff"/><stop offset="1.000" stop-color="#ffffff"/></linearGradient>
<path d="M306.20 619.00 C308.05 619.00 315.06 619.32 317.27 619.00 C319.48 618.68 318.80 618.14 319.45 617.09 C320.11 616.05 320.65 613.93 321.20 612.73 C321.75 611.53 322.29 610.51 322.73 609.89 C323.16 609.27 323.38 608.73 323.82 609.02 C324.25 609.31 324.80 610.47 325.35 611.64 C325.89 612.80 326.44 614.77 327.09 616.00 C327.75 617.23 328.36 618.50 329.27 619.00 C330.18 619.50 330.36 619.00 332.55 619.00 C334.73 619.00 340.36 619.50 342.36 619.00 C344.36 618.50 343.89 617.23 344.55 616.00 C345.20 614.77 345.75 612.73 346.29 611.64 C346.84 610.55 347.38 609.89 347.82 609.45 C348.25 609.02 348.47 608.73 348.91 609.02 C349.35 609.31 349.89 610.58 350.44 611.20 C350.98 611.82 351.60 613.02 352.18 612.73 C352.76 612.44 353.35 610.91 353.93 609.45 C354.51 608.00 355.16 605.27 355.67 604.00 C356.18 602.73 356.62 602.25 356.98 601.82 C357.35 601.38 357.45 601.02 357.85 601.38 C358.25 601.75 358.80 602.47 359.38 604.00 C359.96 605.53 360.73 608.84 361.35 610.55 C361.96 612.25 362.62 613.60 363.09 614.25 C363.56 614.91 363.75 614.98 364.18 614.47 C364.62 613.96 365.24 612.11 365.71 611.20 C366.18 610.29 366.62 609.42 367.02 609.02 C367.42 608.62 367.67 608.44 368.11 608.80 C368.55 609.16 369.16 610.55 369.64 611.20 C370.11 611.85 370.51 613.20 370.95 612.73 C371.38 612.25 371.82 610.73 372.25 608.36 C372.69 606.00 373.13 601.82 373.56 598.55 C374.00 595.27 374.47 591.09 374.87 588.73 C375.27 586.36 375.67 585.20 375.96 584.36 C376.25 583.53 376.33 583.16 376.62 583.71 C376.91 584.25 377.31 585.16 377.71 587.64 C378.11 590.11 378.55 594.91 379.02 598.55 C379.49 602.18 380.04 606.73 380.55 609.45 C381.05 612.18 381.60 613.82 382.07 614.91 C382.55 616.00 382.91 616.25 383.38 616.00 C383.85 615.75 384.36 614.40 384.91 613.38 C385.45 612.36 386.15 610.62 386.65 609.89 C387.16 609.16 387.45 608.80 387.96 609.02 C388.47 609.24 389.05 610.04 389.71 611.20 C390.36 612.36 391.16 614.70 391.89 616.00 C392.62 617.30 393.35 618.50 394.07 619.00 C394.80 619.50 395.37 619.00 396.25 619.00 C397.14 619.00 398.57 619.74 399.37 619.00 C400.18 618.26 400.56 616.98 401.06 614.55 C401.57 612.12 401.96 608.65 402.41 604.43 C402.86 600.21 403.31 593.46 403.76 589.24 C404.21 585.02 404.66 581.51 405.11 579.12 C405.56 576.73 406.12 575.69 406.46 574.90 C406.80 574.11 406.86 574.11 407.14 574.39 C407.42 574.67 407.75 574.67 408.15 576.59 C408.54 578.50 409.05 582.07 409.50 585.87 C409.95 589.66 410.40 595.43 410.85 599.37 C411.30 603.30 411.72 606.73 412.20 609.49 C412.68 612.25 413.18 614.32 413.72 615.90 C414.25 617.49 414.70 618.48 415.40 619.00 C416.11 619.52 417.11 619.00 417.93 619.00 C418.76 619.00 416.69 619.00 420.36 619.00 C424.04 619.00 436.36 619.00 440.00 619.00 C443.64 619.00 441.53 619.68 442.18 619.00 C442.84 618.32 443.38 616.50 443.93 614.91 C444.47 613.32 444.95 611.27 445.45 609.45 C445.96 607.64 446.51 605.45 446.98 604.00 C447.45 602.55 447.89 601.42 448.29 600.73 C448.69 600.04 448.95 599.67 449.38 599.85 C449.82 600.04 450.36 600.76 450.91 601.82 C451.45 602.87 452.00 604.55 452.65 606.18 C453.31 607.82 454.11 610.07 454.84 611.64 C455.56 613.20 456.40 614.84 457.02 615.56 C457.64 616.29 458.04 616.65 458.55 616.00 C459.05 615.35 459.60 614.55 460.07 611.64 C460.55 608.73 460.98 602.73 461.38 598.55 C461.78 594.36 462.11 589.64 462.47 586.55 C462.84 583.45 463.24 581.35 463.56 580.00 C463.89 578.65 464.11 578.11 464.44 578.47 C464.76 578.84 465.13 579.56 465.53 582.18 C465.93 584.80 466.36 589.64 466.84 594.18 C467.31 598.73 467.85 605.64 468.36 609.45 C468.87 613.27 469.35 615.50 469.89 617.09 C470.44 618.68 469.71 618.68 471.64 619.00 C473.56 619.32 476.73 619.00 481.45 619.00 C486.18 619.00 496.36 619.25 500.00 619.00 C503.64 618.75 502.00 617.77 503.27 617.53 C504.55 617.28 505.45 617.45 507.64 617.53 C509.82 617.60 513.45 617.72 516.36 617.96 C519.27 618.21 521.97 618.83 525.09 619.00 C528.21 619.17 533.43 619.00 535.10 619.00 L535.10 620.90 L306.20 620.90 Z" fill="url(#gfb)"/>
<path d="M306.20 618.90 H535.60" fill="none" stroke="#585858" stroke-width="1"/>
<path d="M306.20 619.00 C308.05 619.00 315.06 619.32 317.27 619.00 C319.48 618.68 318.80 618.14 319.45 617.09 C320.11 616.05 320.65 613.93 321.20 612.73 C321.75 611.53 322.29 610.51 322.73 609.89 C323.16 609.27 323.38 608.73 323.82 609.02 C324.25 609.31 324.80 610.47 325.35 611.64 C325.89 612.80 326.44 614.77 327.09 616.00 C327.75 617.23 328.36 618.50 329.27 619.00 C330.18 619.50 330.36 619.00 332.55 619.00 C334.73 619.00 340.36 619.50 342.36 619.00 C344.36 618.50 343.89 617.23 344.55 616.00 C345.20 614.77 345.75 612.73 346.29 611.64 C346.84 610.55 347.38 609.89 347.82 609.45 C348.25 609.02 348.47 608.73 348.91 609.02 C349.35 609.31 349.89 610.58 350.44 611.20 C350.98 611.82 351.60 613.02 352.18 612.73 C352.76 612.44 353.35 610.91 353.93 609.45 C354.51 608.00 355.16 605.27 355.67 604.00 C356.18 602.73 356.62 602.25 356.98 601.82 C357.35 601.38 357.45 601.02 357.85 601.38 C358.25 601.75 358.80 602.47 359.38 604.00 C359.96 605.53 360.73 608.84 361.35 610.55 C361.96 612.25 362.62 613.60 363.09 614.25 C363.56 614.91 363.75 614.98 364.18 614.47 C364.62 613.96 365.24 612.11 365.71 611.20 C366.18 610.29 366.62 609.42 367.02 609.02 C367.42 608.62 367.67 608.44 368.11 608.80 C368.55 609.16 369.16 610.55 369.64 611.20 C370.11 611.85 370.51 613.20 370.95 612.73 C371.38 612.25 371.82 610.73 372.25 608.36 C372.69 606.00 373.13 601.82 373.56 598.55 C374.00 595.27 374.47 591.09 374.87 588.73 C375.27 586.36 375.67 585.20 375.96 584.36 C376.25 583.53 376.33 583.16 376.62 583.71 C376.91 584.25 377.31 585.16 377.71 587.64 C378.11 590.11 378.55 594.91 379.02 598.55 C379.49 602.18 380.04 606.73 380.55 609.45 C381.05 612.18 381.60 613.82 382.07 614.91 C382.55 616.00 382.91 616.25 383.38 616.00 C383.85 615.75 384.36 614.40 384.91 613.38 C385.45 612.36 386.15 610.62 386.65 609.89 C387.16 609.16 387.45 608.80 387.96 609.02 C388.47 609.24 389.05 610.04 389.71 611.20 C390.36 612.36 391.16 614.70 391.89 616.00 C392.62 617.30 393.35 618.50 394.07 619.00 C394.80 619.50 395.37 619.00 396.25 619.00 C397.14 619.00 398.57 619.74 399.37 619.00 C400.18 618.26 400.56 616.98 401.06 614.55 C401.57 612.12 401.96 608.65 402.41 604.43 C402.86 600.21 403.31 593.46 403.76 589.24 C404.21 585.02 404.66 581.51 405.11 579.12 C405.56 576.73 406.12 575.69 406.46 574.90 C406.80 574.11 406.86 574.11 407.14 574.39 C407.42 574.67 407.75 574.67 408.15 576.59 C408.54 578.50 409.05 582.07 409.50 585.87 C409.95 589.66 410.40 595.43 410.85 599.37 C411.30 603.30 411.72 606.73 412.20 609.49 C412.68 612.25 413.18 614.32 413.72 615.90 C414.25 617.49 414.70 618.48 415.40 619.00 C416.11 619.52 417.11 619.00 417.93 619.00 C418.76 619.00 416.69 619.00 420.36 619.00 C424.04 619.00 436.36 619.00 440.00 619.00 C443.64 619.00 441.53 619.68 442.18 619.00 C442.84 618.32 443.38 616.50 443.93 614.91 C444.47 613.32 444.95 611.27 445.45 609.45 C445.96 607.64 446.51 605.45 446.98 604.00 C447.45 602.55 447.89 601.42 448.29 600.73 C448.69 600.04 448.95 599.67 449.38 599.85 C449.82 600.04 450.36 600.76 450.91 601.82 C451.45 602.87 452.00 604.55 452.65 606.18 C453.31 607.82 454.11 610.07 454.84 611.64 C455.56 613.20 456.40 614.84 457.02 615.56 C457.64 616.29 458.04 616.65 458.55 616.00 C459.05 615.35 459.60 614.55 460.07 611.64 C460.55 608.73 460.98 602.73 461.38 598.55 C461.78 594.36 462.11 589.64 462.47 586.55 C462.84 583.45 463.24 581.35 463.56 580.00 C463.89 578.65 464.11 578.11 464.44 578.47 C464.76 578.84 465.13 579.56 465.53 582.18 C465.93 584.80 466.36 589.64 466.84 594.18 C467.31 598.73 467.85 605.64 468.36 609.45 C468.87 613.27 469.35 615.50 469.89 617.09 C470.44 618.68 469.71 618.68 471.64 619.00 C473.56 619.32 476.73 619.00 481.45 619.00 C486.18 619.00 496.36 619.25 500.00 619.00 C503.64 618.75 502.00 617.77 503.27 617.53 C504.55 617.28 505.45 617.45 507.64 617.53 C509.82 617.60 513.45 617.72 516.36 617.96 C519.27 618.21 521.97 618.83 525.09 619.00 C528.21 619.17 533.43 619.00 535.10 619.00" fill="none" stroke="#3a45d4" stroke-width="1.0"/>
</g>
<line x1="420.35" y1="434.50" x2="420.35" y2="618.90" stroke="#222" stroke-width="1.3" stroke-dasharray="5.1 4.3"/>
<path d="M306.20 434.50 H535.10 V618.90" fill="none" stroke="#333" stroke-width="1.3"/>
<path d="M306.20 433.90 V619.50" fill="none" stroke="#111" stroke-width="1.5"/>
<path d="M306.20 618.90h-3.30 M306.20 606.61h-1.80 M306.20 594.31h-3.30 M306.20 582.02h-1.80 M306.20 569.73h-3.30 M306.20 557.43h-1.80 M306.20 545.14h-3.30 M306.20 532.85h-1.80 M306.20 520.55h-3.30 M306.20 508.26h-1.80 M306.20 495.97h-3.30 M306.20 483.67h-1.80 M306.20 471.38h-3.30 M306.20 459.09h-1.80 M306.20 446.79h-3.30 M306.20 618.90v3.30 M334.81 618.90v1.80 M363.43 618.90v3.30 M392.04 618.90v1.80 M420.65 618.90v3.30 M449.26 618.90v1.80 M477.88 618.90v3.30 M506.49 618.90v1.80 M535.10 618.90v3.30" stroke="#1a1a1a" stroke-width="1.1" fill="none"/>
<g font-family="'Liberation Serif', serif" font-weight="bold" font-size="8.7" fill="#0a0a0a" stroke="#0a0a0a" stroke-width="0.25">
<text x="301.50" y="621.85" text-anchor="end">0</text>
<text x="301.50" y="597.26" text-anchor="end">10</text>
<text x="301.50" y="572.68" text-anchor="end">20</text>
<text x="301.50" y="548.09" text-anchor="end">30</text>
<text x="301.50" y="523.50" text-anchor="end">40</text>
<text x="301.50" y="498.92" text-anchor="end">50</text>
<text x="301.50" y="474.33" text-anchor="end">60</text>
<text x="301.50" y="449.74" text-anchor="end">70</text>
<text x="305.90" y="629.70" text-anchor="middle">-10</text>
<text x="363.12" y="629.70" text-anchor="middle">-5</text>
<text x="420.85" y="629.70" text-anchor="middle">0</text>
<text x="478.07" y="629.70" text-anchor="middle">5</text>
<text x="535.30" y="629.70" text-anchor="middle">10</text>
<text x="422.95" y="638.70" text-anchor="middle" font-size="9.6">Energy(eV)</text>
<text transform="translate(288.10 523.20) rotate(-90)" text-anchor="middle" font-size="9.4">Density of states</text>
<text x="274.80" y="441.70" font-size="9.0">(f)</text>
</g>
<g font-family="'Liberation Serif', serif" font-size="9.8" fill="#111" stroke="#111" stroke-width="0.12">
<linearGradient id="lgft" x1="0" y1="0" x2="0" y2="1"><stop offset="0" stop-color="#00f8f8"/><stop offset="0.12" stop-color="#00f8f8"/><stop offset="0.8" stop-color="#fff"/></linearGradient>
<rect x="368.00" y="436.80" width="19.2" height="8.9" fill="url(#lgft)" stroke="#b8b8b8" stroke-width="0.5"/>
<text x="392.20" y="444.50">Total</text>
<linearGradient id="lgfr" x1="0" y1="0" x2="0" y2="1"><stop offset="0" stop-color="#ff1c1c"/><stop offset="0.12" stop-color="#ff1c1c"/><stop offset="0.8" stop-color="#fff"/></linearGradient>
<rect x="368.00" y="448.40" width="19.2" height="8.9" fill="url(#lgfr)" stroke="#b8b8b8" stroke-width="0.5"/>
<text x="392.20" y="456.10">g-C<tspan dy="2.4" font-size="6.8">3</tspan><tspan dy="-2.4">N</tspan><tspan dy="2.4" font-size="6.8">4</tspan></text>
<linearGradient id="lgfb" x1="0" y1="0" x2="0" y2="1"><stop offset="0" stop-color="#1414ff"/><stop offset="0.12" stop-color="#1414ff"/><stop offset="0.8" stop-color="#fff"/></linearGradient>
<rect x="368.00" y="462.40" width="19.2" height="8.9" fill="url(#lgfb)" stroke="#b8b8b8" stroke-width="0.5"/>
<text x="392.20" y="470.10">S<tspan dy="2.4" font-size="6.8">8</tspan></text>
</g>
</g>
</svg>
</body></html>
